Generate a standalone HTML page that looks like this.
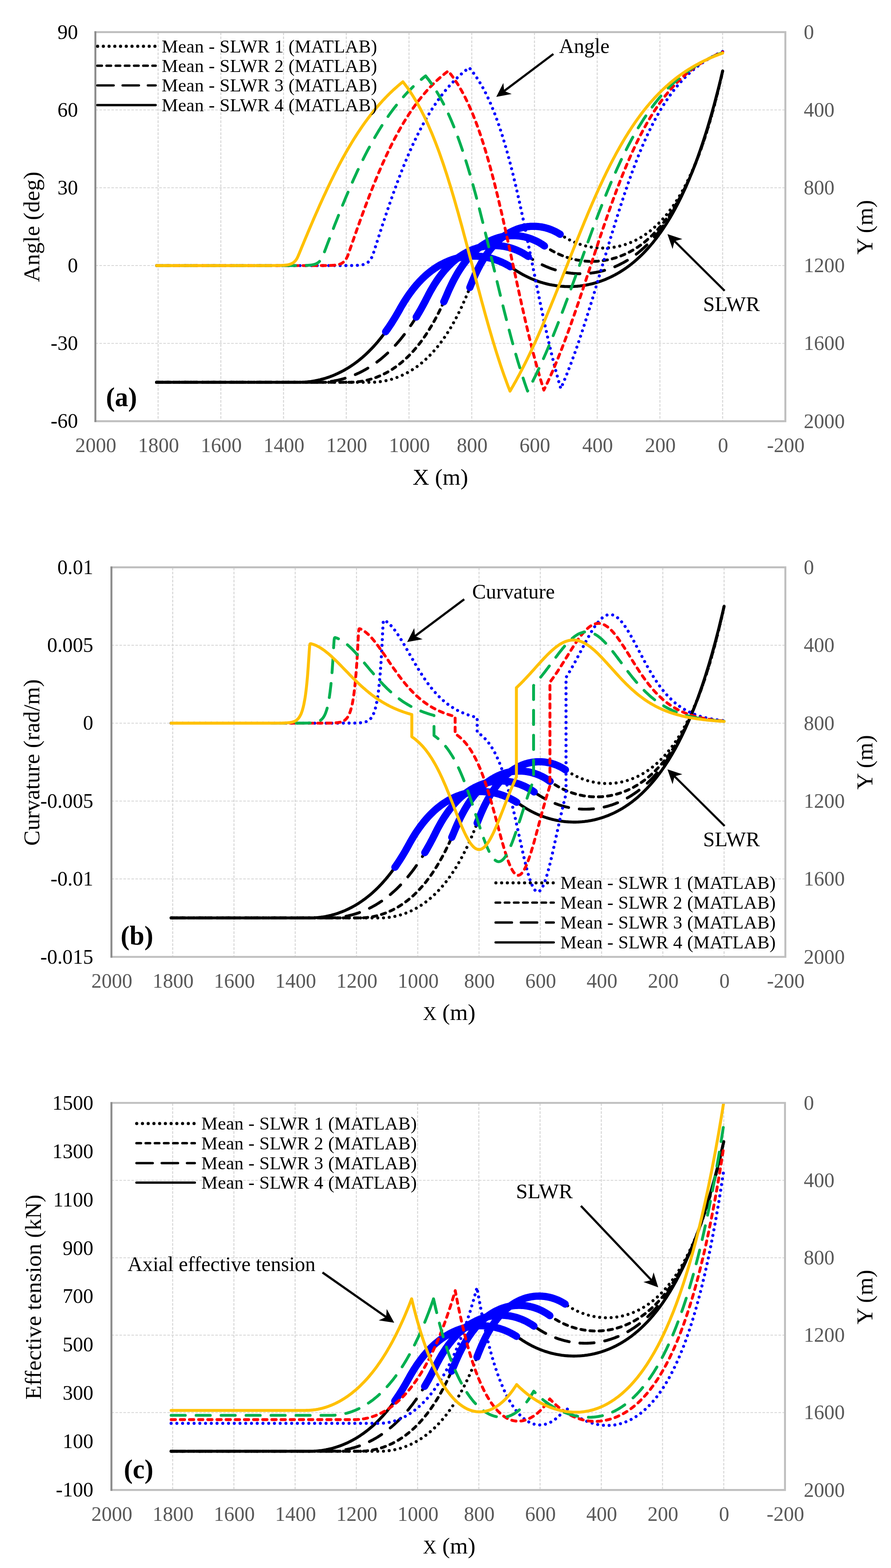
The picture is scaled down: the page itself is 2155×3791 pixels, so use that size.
<!DOCTYPE html>
<html lang="en"><head><meta charset="utf-8"><title>SLWR mean configuration: angle, curvature and effective tension</title>
<style>
html,body{margin:0;padding:0;background:#fff;}
body{width:2155px;height:3791px;overflow:hidden;}
svg{display:block;}
</style></head>
<body>
<svg width="2155" height="3791" viewBox="0 0 2155 3791" font-family='"Liberation Serif", serif'>
<rect x="0" y="0" width="2155" height="3791" fill="#fff"/>
<clipPath id="ca"><rect x="230.7" y="76.1" width="1668.8" height="943.8"/></clipPath>
<line x1="382.4" y1="78.6" x2="382.4" y2="1018.4" stroke="#d6d6d6" stroke-width="2.4" stroke-dasharray="6.3 3.36"/>
<line x1="534.1" y1="78.6" x2="534.1" y2="1018.4" stroke="#d6d6d6" stroke-width="2.4" stroke-dasharray="6.3 3.36"/>
<line x1="685.8" y1="78.6" x2="685.8" y2="1018.4" stroke="#d6d6d6" stroke-width="2.4" stroke-dasharray="6.3 3.36"/>
<line x1="837.5" y1="78.6" x2="837.5" y2="1018.4" stroke="#d6d6d6" stroke-width="2.4" stroke-dasharray="6.3 3.36"/>
<line x1="989.2" y1="78.6" x2="989.2" y2="1018.4" stroke="#d6d6d6" stroke-width="2.4" stroke-dasharray="6.3 3.36"/>
<line x1="1141.0" y1="78.6" x2="1141.0" y2="1018.4" stroke="#d6d6d6" stroke-width="2.4" stroke-dasharray="6.3 3.36"/>
<line x1="1292.7" y1="78.6" x2="1292.7" y2="1018.4" stroke="#d6d6d6" stroke-width="2.4" stroke-dasharray="6.3 3.36"/>
<line x1="1444.4" y1="78.6" x2="1444.4" y2="1018.4" stroke="#d6d6d6" stroke-width="2.4" stroke-dasharray="6.3 3.36"/>
<line x1="1596.1" y1="78.6" x2="1596.1" y2="1018.4" stroke="#d6d6d6" stroke-width="2.4" stroke-dasharray="6.3 3.36"/>
<line x1="1747.8" y1="78.6" x2="1747.8" y2="1018.4" stroke="#d6d6d6" stroke-width="2.4" stroke-dasharray="6.3 3.36"/>
<line x1="230.7" y1="265.8" x2="1899.5" y2="265.8" stroke="#d6d6d6" stroke-width="2.0" stroke-dasharray="6.3 3.36"/>
<line x1="230.7" y1="453.9" x2="1899.5" y2="453.9" stroke="#d6d6d6" stroke-width="2.0" stroke-dasharray="6.3 3.36"/>
<line x1="230.7" y1="642.1" x2="1899.5" y2="642.1" stroke="#d6d6d6" stroke-width="2.0" stroke-dasharray="6.3 3.36"/>
<line x1="230.7" y1="830.2" x2="1899.5" y2="830.2" stroke="#d6d6d6" stroke-width="2.0" stroke-dasharray="6.3 3.36"/>
<path d="M378.6,924.3 L382.4,924.3 L385.4,924.3 L388.5,924.3 L391.5,924.3 L394.5,924.3 L397.6,924.3 L400.6,924.3 L403.6,924.3 L406.7,924.3 L409.7,924.3 L412.8,924.3 L415.8,924.3 L418.8,924.3 L421.9,924.3 L424.9,924.3 L427.9,924.3 L431.0,924.3 L434.0,924.3 L437.0,924.3 L440.1,924.3 L443.1,924.3 L446.1,924.3 L449.2,924.3 L452.2,924.3 L455.2,924.3 L458.3,924.3 L461.3,924.3 L464.3,924.3 L467.4,924.3 L470.4,924.3 L473.4,924.3 L476.5,924.3 L479.5,924.3 L482.5,924.3 L485.6,924.3 L488.6,924.3 L491.6,924.3 L494.7,924.3 L497.7,924.3 L500.7,924.3 L503.8,924.3 L506.8,924.3 L509.8,924.3 L512.9,924.3 L515.9,924.3 L518.9,924.3 L522.0,924.3 L525.0,924.3 L528.0,924.3 L531.1,924.3 L534.1,924.3 L537.2,924.3 L540.2,924.3 L543.2,924.3 L546.3,924.3 L549.3,924.3 L552.3,924.3 L555.4,924.3 L558.4,924.3 L561.4,924.3 L564.5,924.3 L567.5,924.3 L570.5,924.3 L573.6,924.3 L576.6,924.3 L579.6,924.3 L582.7,924.3 L585.7,924.3 L588.7,924.3 L591.8,924.3 L594.8,924.3 L597.8,924.3 L600.9,924.3 L603.9,924.3 L606.9,924.3 L610.0,924.3 L613.0,924.3 L616.0,924.3 L619.1,924.3 L622.1,924.3 L625.1,924.3 L628.2,924.3 L631.2,924.3 L634.2,924.3 L637.3,924.3 L640.3,924.3 L643.3,924.3 L646.4,924.3 L649.4,924.3 L652.5,924.3 L655.5,924.3 L658.5,924.3 L661.6,924.3 L664.6,924.3 L667.6,924.3 L670.7,924.3 L673.7,924.3 L676.7,924.3 L679.8,924.3 L682.8,924.3 L685.8,924.3 L688.9,924.3 L691.9,924.3 L694.9,924.3 L698.0,924.3 L701.0,924.3 L704.0,924.3 L707.1,924.3 L710.1,924.3 L713.1,924.3 L716.2,924.3 L719.2,924.3 L722.2,924.3 L725.3,924.3 L728.3,924.3 L731.3,924.3 L734.4,924.3 L737.4,924.3 L740.4,924.3 L743.5,924.3 L746.5,924.3 L749.5,924.3 L752.6,924.3 L755.6,924.3 L758.6,924.3 L761.7,924.3 L764.7,924.3 L767.8,924.3 L770.8,924.3 L773.8,924.3 L776.9,924.3 L779.9,924.3 L782.9,924.3 L786.0,924.3 L789.0,924.3 L792.0,924.3 L795.1,924.3 L798.1,924.3 L801.1,924.3 L804.2,924.3 L807.2,924.3 L810.2,924.3 L813.3,924.3 L816.3,924.3 L819.3,924.3 L822.4,924.3 L825.4,924.3 L828.4,924.3 L831.5,924.3 L834.5,924.3 L837.5,924.3 L840.6,924.3 L843.6,924.3 L846.6,924.3 L849.7,924.3 L852.7,924.3 L855.7,924.3 L858.8,924.3 L861.8,924.3 L864.8,924.3 L867.9,924.3 L870.9,924.3 L873.9,924.3 L877.0,924.3 L880.0,924.3 L883.0,924.3 L886.1,924.3 L889.1,924.3 L892.2,924.3 L895.2,924.3 L895.6,924.3 L898.2,924.3 L901.3,924.2 L904.3,924.1 L907.3,923.9 L910.4,923.7 L913.4,923.4 L916.4,923.1 L919.5,922.7 L922.5,922.3 L925.5,921.8 L928.6,921.3 L931.6,920.7 L934.6,920.1 L937.7,919.4 L940.7,918.7 L943.7,917.9 L946.8,917.0 L949.8,916.1 L952.8,915.1 L955.9,914.1 L958.9,913.0 L961.9,911.9 L965.0,910.7 L968.0,909.4 L971.0,908.1 L974.1,906.7 L977.1,905.3 L980.1,903.8 L983.2,902.2 L986.2,900.5 L989.2,898.8 L992.3,897.1 L995.3,895.2 L998.3,893.3 L1001.4,891.3 L1004.4,889.2 L1007.5,887.1 L1010.5,884.9 L1013.5,882.6 L1016.6,880.2 L1019.6,877.7 L1022.6,875.2 L1025.7,872.5 L1028.7,869.8 L1031.7,867.0 L1034.8,864.1 L1037.8,861.1 L1040.8,858.0 L1043.9,854.8 L1046.9,851.5 L1049.9,848.1 L1053.0,844.6 L1056.0,841.0 L1059.0,837.3 L1062.1,833.5 L1065.1,829.5 L1068.1,825.5 L1071.2,821.3 L1074.2,817.0 L1077.2,812.5 L1080.3,808.0 L1083.3,803.2 L1086.3,798.4 L1089.4,793.4 L1092.4,788.3 L1095.4,783.0 L1098.5,777.6 L1101.5,772.0 L1104.5,766.2 L1107.6,760.3 L1110.6,754.2 L1113.6,748.0 L1116.7,741.6 L1119.7,734.9 L1122.7,728.1 L1125.8,721.2 L1128.8,714.0 L1131.9,706.6 L1134.9,699.0 L1136.4,695.1 L1137.0,693.5 L1137.9,691.2 L1141.0,683.6 L1144.0,676.3 L1147.0,669.4 L1150.1,662.7 L1153.1,656.4 L1156.1,650.3 L1159.2,644.5 L1162.2,638.9 L1165.2,633.6 L1168.3,628.5 L1171.3,623.6 L1174.3,618.9 L1177.4,614.5 L1180.4,610.3 L1183.4,606.2 L1186.5,602.3 L1189.5,598.6 L1192.5,595.1 L1195.6,591.8 L1198.6,588.6 L1201.6,585.6 L1204.7,582.7 L1207.7,579.9 L1210.7,577.3 L1213.8,574.9 L1216.8,572.5 L1219.8,570.3 L1222.9,568.2 L1225.9,566.2 L1228.9,564.4 L1232.0,562.6 L1235.0,561.0 L1238.0,559.4 L1241.1,558.0 L1244.1,556.6 L1247.2,555.4 L1250.2,554.2 L1253.2,553.2 L1256.3,552.2 L1259.3,551.3 L1262.3,550.5 L1265.4,549.8 L1268.4,549.2 L1271.4,548.7 L1274.5,548.2 L1277.5,547.8 L1280.5,547.6 L1283.6,547.3 L1286.6,547.2 L1289.6,547.2 L1292.7,547.2 L1295.7,547.3 L1298.7,547.5 L1301.8,547.7 L1304.8,548.1 L1307.8,548.5 L1310.9,549.0 L1313.9,549.6 L1316.9,550.3 L1320.0,551.1 L1323.0,551.9 L1326.0,552.8 L1329.1,553.9 L1332.1,555.0 L1335.1,556.2 L1338.2,557.5 L1341.2,558.9 L1344.2,560.4 L1347.3,562.0 L1350.3,563.8 L1353.3,565.6 L1354.9,566.5 L1356.4,567.5 L1357.4,568.2 L1359.4,569.5 L1362.4,571.5 L1365.5,573.3 L1368.5,575.1 L1371.6,576.9 L1374.6,578.5 L1377.6,580.1 L1380.7,581.6 L1383.7,583.0 L1386.7,584.4 L1389.8,585.7 L1392.8,587.0 L1395.8,588.2 L1398.9,589.3 L1401.9,590.4 L1404.9,591.4 L1408.0,592.3 L1411.0,593.2 L1414.0,594.0 L1417.1,594.8 L1420.1,595.5 L1423.1,596.1 L1426.2,596.7 L1429.2,597.3 L1432.2,597.8 L1435.3,598.2 L1438.3,598.6 L1441.3,598.9 L1444.4,599.2 L1447.4,599.4 L1450.4,599.5 L1453.5,599.7 L1456.5,599.7 L1459.5,599.7 L1462.6,599.7 L1465.6,599.6 L1468.6,599.4 L1471.7,599.2 L1474.7,598.9 L1477.7,598.6 L1480.8,598.2 L1483.8,597.8 L1486.9,597.3 L1489.9,596.8 L1492.9,596.2 L1496.0,595.6 L1499.0,594.9 L1502.0,594.1 L1505.1,593.3 L1508.1,592.4 L1511.1,591.5 L1514.2,590.5 L1517.2,589.4 L1520.2,588.3 L1523.3,587.1 L1526.3,585.9 L1529.3,584.6 L1532.4,583.2 L1535.4,581.8 L1538.4,580.3 L1541.5,578.7 L1544.5,577.1 L1547.5,575.4 L1550.6,573.6 L1553.6,571.7 L1556.6,569.8 L1559.7,567.8 L1562.7,565.7 L1565.7,563.5 L1568.8,561.3 L1571.8,558.9 L1574.8,556.5 L1577.9,554.0 L1580.9,551.4 L1583.9,548.7 L1587.0,545.9 L1590.0,543.1 L1593.0,540.1 L1596.1,537.0 L1599.1,533.8 L1602.2,530.5 L1605.2,527.1 L1608.2,523.6 L1611.3,520.0 L1614.3,516.3 L1617.3,512.4 L1620.4,508.4 L1623.4,504.3 L1626.4,500.1 L1629.5,495.7 L1632.5,491.2 L1635.5,486.6 L1638.6,481.8 L1641.6,476.9 L1644.6,471.8 L1647.7,466.6 L1650.7,461.2 L1653.7,455.6 L1656.8,449.9 L1659.8,444.0 L1662.8,437.9 L1665.9,431.7 L1668.9,425.2 L1671.9,418.6 L1675.0,411.8 L1678.0,404.7 L1681.0,397.5 L1684.1,390.0 L1687.1,382.3 L1690.1,374.4 L1693.2,366.3 L1696.2,357.9 L1699.2,349.3 L1702.3,340.4 L1705.3,331.3 L1708.3,321.9 L1711.4,312.2 L1714.4,302.3 L1717.4,292.0 L1720.5,281.5 L1723.5,270.6 L1726.6,259.4 L1729.6,248.0 L1732.6,236.1 L1735.7,224.0 L1738.7,211.4 L1741.7,198.6 L1744.8,185.3 L1747.8,171.7" fill="none" stroke="#000" stroke-width="7.40" stroke-linecap="round" stroke-linejoin="round" stroke-dasharray="0.01 13.87" clip-path="url(#ca)"/>
<path d="M378.6,924.3 L382.4,924.3 L385.4,924.3 L388.5,924.3 L391.5,924.3 L394.5,924.3 L397.6,924.3 L400.6,924.3 L403.6,924.3 L406.7,924.3 L409.7,924.3 L412.8,924.3 L415.8,924.3 L418.8,924.3 L421.9,924.3 L424.9,924.3 L427.9,924.3 L431.0,924.3 L434.0,924.3 L437.0,924.3 L440.1,924.3 L443.1,924.3 L446.1,924.3 L449.2,924.3 L452.2,924.3 L455.2,924.3 L458.3,924.3 L461.3,924.3 L464.3,924.3 L467.4,924.3 L470.4,924.3 L473.4,924.3 L476.5,924.3 L479.5,924.3 L482.5,924.3 L485.6,924.3 L488.6,924.3 L491.6,924.3 L494.7,924.3 L497.7,924.3 L500.7,924.3 L503.8,924.3 L506.8,924.3 L509.8,924.3 L512.9,924.3 L515.9,924.3 L518.9,924.3 L522.0,924.3 L525.0,924.3 L528.0,924.3 L531.1,924.3 L534.1,924.3 L537.2,924.3 L540.2,924.3 L543.2,924.3 L546.3,924.3 L549.3,924.3 L552.3,924.3 L555.4,924.3 L558.4,924.3 L561.4,924.3 L564.5,924.3 L567.5,924.3 L570.5,924.3 L573.6,924.3 L576.6,924.3 L579.6,924.3 L582.7,924.3 L585.7,924.3 L588.7,924.3 L591.8,924.3 L594.8,924.3 L597.8,924.3 L600.9,924.3 L603.9,924.3 L606.9,924.3 L610.0,924.3 L613.0,924.3 L616.0,924.3 L619.1,924.3 L622.1,924.3 L625.1,924.3 L628.2,924.3 L631.2,924.3 L634.2,924.3 L637.3,924.3 L640.3,924.3 L643.3,924.3 L646.4,924.3 L649.4,924.3 L652.5,924.3 L655.5,924.3 L658.5,924.3 L661.6,924.3 L664.6,924.3 L667.6,924.3 L670.7,924.3 L673.7,924.3 L676.7,924.3 L679.8,924.3 L682.8,924.3 L685.8,924.3 L688.9,924.3 L691.9,924.3 L694.9,924.3 L698.0,924.3 L701.0,924.3 L704.0,924.3 L707.1,924.3 L710.1,924.3 L713.1,924.3 L716.2,924.3 L719.2,924.3 L722.2,924.3 L725.3,924.3 L728.3,924.3 L731.3,924.3 L734.4,924.3 L737.4,924.3 L740.4,924.3 L743.5,924.3 L746.5,924.3 L749.5,924.3 L752.6,924.3 L755.6,924.3 L758.6,924.3 L761.7,924.3 L764.7,924.3 L767.8,924.3 L770.8,924.3 L773.8,924.3 L776.9,924.3 L779.9,924.3 L782.9,924.3 L786.0,924.3 L789.0,924.3 L792.0,924.3 L795.1,924.3 L798.1,924.3 L801.1,924.3 L804.2,924.3 L807.2,924.3 L810.2,924.3 L813.3,924.3 L816.3,924.3 L819.3,924.3 L822.4,924.3 L825.4,924.3 L828.4,924.3 L831.5,924.3 L834.5,924.3 L837.5,924.3 L840.6,924.3 L843.6,924.3 L844.0,924.3 L846.6,924.3 L849.7,924.2 L852.7,924.1 L855.7,923.9 L858.8,923.7 L861.8,923.5 L864.8,923.1 L867.9,922.8 L870.9,922.4 L873.9,921.9 L877.0,921.4 L880.0,920.8 L883.0,920.2 L886.1,919.5 L889.1,918.8 L892.2,918.0 L895.2,917.2 L898.2,916.3 L901.3,915.3 L904.3,914.3 L907.3,913.3 L910.4,912.2 L913.4,911.0 L916.4,909.7 L919.5,908.5 L922.5,907.1 L925.5,905.7 L928.6,904.2 L931.6,902.7 L934.6,901.1 L937.7,899.4 L940.7,897.7 L943.7,895.9 L946.8,894.0 L949.8,892.1 L952.8,890.0 L955.9,888.0 L958.9,885.8 L961.9,883.6 L965.0,881.2 L968.0,878.8 L971.0,876.4 L974.1,873.8 L977.1,871.2 L980.1,868.4 L983.2,865.6 L986.2,862.7 L989.2,859.7 L992.3,856.6 L995.3,853.4 L998.3,850.1 L1001.4,846.8 L1004.4,843.3 L1007.5,839.7 L1010.5,836.0 L1013.5,832.1 L1016.6,828.2 L1019.6,824.2 L1022.6,820.0 L1025.7,815.7 L1028.7,811.3 L1031.7,806.8 L1034.8,802.1 L1037.8,797.3 L1040.8,792.3 L1043.9,787.3 L1046.9,782.0 L1049.9,776.7 L1053.0,771.1 L1056.0,765.5 L1059.0,759.6 L1062.1,753.6 L1065.1,747.4 L1068.1,741.1 L1071.2,734.6 L1073.4,729.6 L1074.2,727.9 L1077.2,721.0 L1080.3,713.9 L1080.9,712.5 L1083.3,706.8 L1086.3,700.0 L1089.4,693.4 L1092.4,687.1 L1095.4,681.0 L1098.5,675.2 L1101.5,669.6 L1104.5,664.3 L1107.6,659.1 L1110.6,654.2 L1113.6,649.5 L1116.7,644.9 L1119.7,640.6 L1122.7,636.4 L1125.8,632.5 L1128.8,628.6 L1131.9,625.0 L1134.9,621.5 L1137.9,618.1 L1141.0,614.9 L1144.0,611.9 L1147.0,609.0 L1150.1,606.2 L1153.1,603.5 L1156.1,601.0 L1159.2,598.6 L1162.2,596.3 L1165.2,594.1 L1168.3,592.0 L1171.3,590.1 L1174.3,588.2 L1177.4,586.5 L1180.4,584.8 L1183.4,583.2 L1186.5,581.8 L1189.5,580.4 L1192.5,579.1 L1195.6,577.9 L1198.6,576.8 L1201.6,575.8 L1204.7,574.8 L1207.7,574.0 L1210.7,573.2 L1213.8,572.5 L1216.8,571.9 L1219.8,571.3 L1222.9,570.9 L1225.9,570.5 L1228.9,570.1 L1232.0,569.9 L1235.0,569.7 L1238.0,569.6 L1241.1,569.6 L1244.1,569.6 L1247.2,569.8 L1250.2,569.9 L1253.2,570.2 L1256.3,570.6 L1259.3,571.0 L1262.3,571.5 L1265.4,572.0 L1268.4,572.7 L1271.4,573.4 L1274.5,574.2 L1277.5,575.1 L1280.5,576.1 L1283.6,577.1 L1286.6,578.2 L1289.6,579.5 L1292.7,580.8 L1295.7,582.2 L1298.7,583.7 L1301.8,585.2 L1304.8,586.9 L1307.8,588.7 L1310.9,590.6 L1313.9,592.6 L1316.5,594.4 L1316.9,594.7 L1320.0,596.8 L1323.0,598.8 L1326.0,600.7 L1329.1,602.6 L1332.1,604.4 L1335.1,606.2 L1338.2,607.8 L1341.2,609.5 L1344.2,611.0 L1347.3,612.5 L1350.3,613.9 L1353.3,615.3 L1356.4,616.6 L1359.4,617.9 L1362.4,619.1 L1365.5,620.2 L1368.5,621.3 L1371.6,622.3 L1374.6,623.3 L1377.6,624.2 L1380.7,625.0 L1383.7,625.9 L1386.7,626.6 L1389.8,627.3 L1392.8,628.0 L1395.8,628.6 L1398.9,629.1 L1401.9,629.6 L1404.9,630.1 L1408.0,630.5 L1411.0,630.9 L1414.0,631.2 L1417.1,631.4 L1420.1,631.6 L1423.1,631.8 L1426.2,631.9 L1429.2,632.0 L1432.2,632.0 L1435.3,631.9 L1438.3,631.9 L1441.3,631.7 L1444.4,631.6 L1447.4,631.3 L1450.4,631.1 L1453.5,630.7 L1456.5,630.4 L1459.5,629.9 L1462.6,629.5 L1465.6,628.9 L1468.6,628.4 L1471.7,627.7 L1474.7,627.1 L1477.7,626.3 L1480.8,625.6 L1483.8,624.7 L1486.9,623.9 L1489.9,622.9 L1492.9,621.9 L1496.0,620.9 L1499.0,619.8 L1502.0,618.6 L1505.1,617.4 L1508.1,616.1 L1511.1,614.8 L1514.2,613.4 L1517.2,612.0 L1520.2,610.4 L1523.3,608.9 L1526.3,607.2 L1529.3,605.5 L1532.4,603.8 L1535.4,601.9 L1538.4,600.0 L1541.5,598.0 L1544.5,596.0 L1547.5,593.9 L1550.6,591.7 L1553.6,589.4 L1556.6,587.1 L1559.7,584.7 L1562.7,582.2 L1565.7,579.6 L1568.8,576.9 L1571.8,574.2 L1574.8,571.3 L1577.9,568.4 L1580.9,565.4 L1583.9,562.3 L1587.0,559.1 L1590.0,555.8 L1593.0,552.4 L1596.1,548.9 L1599.1,545.3 L1602.2,541.6 L1605.2,537.8 L1608.2,533.9 L1611.3,529.9 L1614.3,525.7 L1617.3,521.5 L1620.4,517.1 L1623.4,512.6 L1626.4,507.9 L1629.5,503.2 L1632.5,498.3 L1635.5,493.2 L1638.6,488.1 L1641.6,482.7 L1644.6,477.3 L1647.7,471.7 L1650.7,465.9 L1653.7,460.0 L1656.8,453.9 L1659.8,447.6 L1662.8,441.2 L1665.9,434.6 L1668.9,427.8 L1671.9,420.9 L1675.0,413.7 L1678.0,406.4 L1681.0,398.8 L1684.1,391.1 L1687.1,383.2 L1690.1,375.0 L1693.2,366.6 L1696.2,358.0 L1699.2,349.2 L1702.3,340.2 L1705.3,330.9 L1708.3,321.3 L1711.4,311.5 L1714.4,301.4 L1717.4,291.1 L1720.5,280.5 L1723.5,269.7 L1726.6,258.5 L1729.6,247.0 L1732.6,235.3 L1735.7,223.2 L1738.7,210.8 L1741.7,198.1 L1744.8,185.1 L1747.8,171.7" fill="none" stroke="#000" stroke-width="6.90" stroke-linecap="round" stroke-linejoin="round" stroke-dasharray="10.4 11.75" clip-path="url(#ca)"/>
<path d="M378.6,924.3 L382.4,924.3 L385.4,924.3 L388.5,924.3 L391.5,924.3 L394.5,924.3 L397.6,924.3 L400.6,924.3 L403.6,924.3 L406.7,924.3 L409.7,924.3 L412.8,924.3 L415.8,924.3 L418.8,924.3 L421.9,924.3 L424.9,924.3 L427.9,924.3 L431.0,924.3 L434.0,924.3 L437.0,924.3 L440.1,924.3 L443.1,924.3 L446.1,924.3 L449.2,924.3 L452.2,924.3 L455.2,924.3 L458.3,924.3 L461.3,924.3 L464.3,924.3 L467.4,924.3 L470.4,924.3 L473.4,924.3 L476.5,924.3 L479.5,924.3 L482.5,924.3 L485.6,924.3 L488.6,924.3 L491.6,924.3 L494.7,924.3 L497.7,924.3 L500.7,924.3 L503.8,924.3 L506.8,924.3 L509.8,924.3 L512.9,924.3 L515.9,924.3 L518.9,924.3 L522.0,924.3 L525.0,924.3 L528.0,924.3 L531.1,924.3 L534.1,924.3 L537.2,924.3 L540.2,924.3 L543.2,924.3 L546.3,924.3 L549.3,924.3 L552.3,924.3 L555.4,924.3 L558.4,924.3 L561.4,924.3 L564.5,924.3 L567.5,924.3 L570.5,924.3 L573.6,924.3 L576.6,924.3 L579.6,924.3 L582.7,924.3 L585.7,924.3 L588.7,924.3 L591.8,924.3 L594.8,924.3 L597.8,924.3 L600.9,924.3 L603.9,924.3 L606.9,924.3 L610.0,924.3 L613.0,924.3 L616.0,924.3 L619.1,924.3 L622.1,924.3 L625.1,924.3 L628.2,924.3 L631.2,924.3 L634.2,924.3 L637.3,924.3 L640.3,924.3 L643.3,924.3 L646.4,924.3 L649.4,924.3 L652.5,924.3 L655.5,924.3 L658.5,924.3 L661.6,924.3 L664.6,924.3 L667.6,924.3 L670.7,924.3 L673.7,924.3 L676.7,924.3 L679.8,924.3 L682.8,924.3 L685.8,924.3 L688.9,924.3 L691.9,924.3 L694.9,924.3 L698.0,924.3 L701.0,924.3 L704.0,924.3 L707.1,924.3 L710.1,924.3 L713.1,924.3 L716.2,924.3 L719.2,924.3 L722.2,924.3 L725.3,924.3 L728.3,924.3 L731.3,924.3 L734.4,924.3 L737.4,924.3 L740.4,924.3 L743.5,924.3 L746.5,924.3 L749.5,924.3 L752.6,924.3 L755.6,924.3 L758.6,924.3 L761.7,924.3 L764.7,924.3 L767.8,924.3 L769.0,924.3 L770.8,924.3 L773.8,924.3 L776.9,924.2 L779.9,924.1 L782.9,923.9 L786.0,923.7 L789.0,923.4 L792.0,923.1 L795.1,922.8 L798.1,922.4 L801.1,922.0 L804.2,921.6 L807.2,921.1 L810.2,920.5 L813.3,919.9 L816.3,919.3 L819.3,918.7 L822.4,917.9 L825.4,917.2 L828.4,916.4 L831.5,915.5 L834.5,914.7 L837.5,913.7 L840.6,912.7 L843.6,911.7 L846.6,910.6 L849.7,909.5 L852.7,908.4 L855.7,907.1 L858.8,905.9 L861.8,904.6 L864.8,903.2 L867.9,901.8 L870.9,900.3 L873.9,898.8 L877.0,897.2 L880.0,895.6 L883.0,893.9 L886.1,892.2 L889.1,890.4 L892.2,888.6 L895.2,886.7 L898.2,884.7 L901.3,882.7 L904.3,880.6 L907.3,878.5 L910.4,876.3 L913.4,874.0 L916.4,871.7 L919.5,869.3 L922.5,866.8 L925.5,864.3 L928.6,861.7 L931.6,859.0 L934.6,856.3 L937.7,853.5 L940.7,850.6 L943.7,847.6 L946.8,844.6 L949.8,841.5 L952.8,838.3 L955.9,835.0 L958.9,831.7 L961.9,828.2 L965.0,824.7 L968.0,821.1 L971.0,817.4 L974.1,813.6 L977.1,809.7 L980.1,805.7 L983.2,801.6 L986.2,797.5 L989.2,793.2 L992.3,788.8 L995.3,784.3 L998.3,779.8 L1001.4,775.1 L1004.4,770.3 L1006.7,766.6 L1007.5,765.3 L1010.5,760.3 L1013.5,755.2 L1016.6,749.9 L1019.6,744.5 L1022.6,739.0 L1025.7,733.3 L1028.7,727.6 L1031.7,721.6 L1032.9,719.4 L1034.8,715.7 L1037.8,709.9 L1040.8,704.3 L1043.9,699.0 L1046.9,693.8 L1049.9,688.8 L1053.0,684.0 L1056.0,679.4 L1059.0,675.0 L1062.1,670.7 L1065.1,666.6 L1068.1,662.6 L1071.2,658.8 L1074.2,655.1 L1077.2,651.6 L1080.3,648.3 L1083.3,645.0 L1086.3,641.9 L1089.4,638.9 L1092.4,636.0 L1095.4,633.3 L1098.5,630.7 L1101.5,628.1 L1104.5,625.7 L1107.6,623.4 L1110.6,621.2 L1113.6,619.1 L1116.7,617.1 L1119.7,615.2 L1122.7,613.4 L1125.8,611.7 L1128.8,610.1 L1131.9,608.5 L1134.9,607.1 L1137.9,605.7 L1141.0,604.4 L1144.0,603.2 L1147.0,602.0 L1150.1,601.0 L1153.1,600.0 L1156.1,599.1 L1159.2,598.2 L1162.2,597.5 L1165.2,596.8 L1168.3,596.1 L1171.3,595.6 L1174.3,595.1 L1177.4,594.7 L1180.4,594.3 L1183.4,594.0 L1186.5,593.8 L1189.5,593.7 L1192.5,593.6 L1195.6,593.6 L1198.6,593.6 L1201.6,593.7 L1204.7,593.9 L1207.7,594.2 L1210.7,594.5 L1213.8,594.9 L1216.8,595.3 L1219.8,595.8 L1222.9,596.4 L1225.9,597.1 L1228.9,597.8 L1232.0,598.6 L1235.0,599.5 L1238.0,600.4 L1241.1,601.4 L1244.1,602.5 L1247.2,603.7 L1250.2,604.9 L1253.2,606.3 L1256.3,607.7 L1259.3,609.2 L1262.3,610.8 L1265.4,612.4 L1268.4,614.2 L1271.4,616.1 L1274.5,618.0 L1277.5,620.0 L1278.6,620.8 L1280.5,622.1 L1283.6,624.2 L1286.6,626.2 L1289.6,628.1 L1292.7,630.0 L1295.7,631.8 L1298.7,633.5 L1301.8,635.2 L1304.8,636.8 L1307.8,638.4 L1310.9,639.9 L1313.9,641.3 L1316.9,642.7 L1320.0,644.1 L1323.0,645.4 L1326.0,646.6 L1329.1,647.8 L1332.1,648.9 L1335.1,650.0 L1338.2,651.0 L1341.2,652.0 L1344.2,652.9 L1347.3,653.8 L1350.3,654.6 L1353.3,655.4 L1356.4,656.2 L1359.4,656.8 L1362.4,657.5 L1365.5,658.1 L1368.5,658.6 L1371.6,659.1 L1374.6,659.6 L1377.6,660.0 L1380.7,660.4 L1383.7,660.7 L1386.7,661.0 L1389.8,661.2 L1392.8,661.4 L1395.8,661.6 L1398.9,661.7 L1401.9,661.7 L1404.9,661.7 L1408.0,661.7 L1411.0,661.6 L1414.0,661.5 L1417.1,661.4 L1420.1,661.2 L1423.1,660.9 L1426.2,660.6 L1429.2,660.3 L1432.2,659.9 L1435.3,659.5 L1438.3,659.0 L1441.3,658.5 L1444.4,657.9 L1447.4,657.3 L1450.4,656.6 L1453.5,655.9 L1456.5,655.2 L1459.5,654.4 L1462.6,653.5 L1465.6,652.6 L1468.6,651.7 L1471.7,650.7 L1474.7,649.6 L1477.7,648.6 L1480.8,647.4 L1483.8,646.2 L1486.9,645.0 L1489.9,643.7 L1492.9,642.3 L1496.0,640.9 L1499.0,639.4 L1502.0,637.9 L1505.1,636.3 L1508.1,634.7 L1511.1,633.0 L1514.2,631.2 L1517.2,629.4 L1520.2,627.5 L1523.3,625.6 L1526.3,623.6 L1529.3,621.5 L1532.4,619.4 L1535.4,617.1 L1538.4,614.9 L1541.5,612.5 L1544.5,610.1 L1547.5,607.6 L1550.6,605.1 L1553.6,602.4 L1556.6,599.7 L1559.7,596.9 L1562.7,594.1 L1565.7,591.1 L1568.8,588.1 L1571.8,585.0 L1574.8,581.8 L1577.9,578.5 L1580.9,575.1 L1583.9,571.6 L1587.0,568.0 L1590.0,564.4 L1593.0,560.6 L1596.1,556.8 L1599.1,552.8 L1602.2,548.7 L1605.2,544.6 L1608.2,540.3 L1611.3,535.9 L1614.3,531.4 L1617.3,526.8 L1620.4,522.1 L1623.4,517.2 L1626.4,512.2 L1629.5,507.1 L1632.5,501.9 L1635.5,496.5 L1638.6,491.0 L1641.6,485.4 L1644.6,479.6 L1647.7,473.7 L1650.7,467.6 L1653.7,461.4 L1656.8,455.1 L1659.8,448.5 L1662.8,441.8 L1665.9,435.0 L1668.9,428.0 L1671.9,420.8 L1675.0,413.4 L1678.0,405.9 L1681.0,398.1 L1684.1,390.2 L1687.1,382.1 L1690.1,373.8 L1693.2,365.3 L1696.2,356.6 L1699.2,347.6 L1702.3,338.5 L1705.3,329.1 L1708.3,319.5 L1711.4,309.7 L1714.4,299.6 L1717.4,289.3 L1720.5,278.8 L1723.5,268.0 L1726.6,256.9 L1729.6,245.6 L1732.6,234.0 L1735.7,222.1 L1738.7,209.9 L1741.7,197.5 L1744.8,184.7 L1747.8,171.7" fill="none" stroke="#000" stroke-width="6.90" stroke-linecap="round" stroke-linejoin="round" stroke-dasharray="34.3 26.1" clip-path="url(#ca)"/>
<path d="M378.6,924.3 L382.4,924.3 L385.4,924.3 L388.5,924.3 L391.5,924.3 L394.5,924.3 L397.6,924.3 L400.6,924.3 L403.6,924.3 L406.7,924.3 L409.7,924.3 L412.8,924.3 L415.8,924.3 L418.8,924.3 L421.9,924.3 L424.9,924.3 L427.9,924.3 L431.0,924.3 L434.0,924.3 L437.0,924.3 L440.1,924.3 L443.1,924.3 L446.1,924.3 L449.2,924.3 L452.2,924.3 L455.2,924.3 L458.3,924.3 L461.3,924.3 L464.3,924.3 L467.4,924.3 L470.4,924.3 L473.4,924.3 L476.5,924.3 L479.5,924.3 L482.5,924.3 L485.6,924.3 L488.6,924.3 L491.6,924.3 L494.7,924.3 L497.7,924.3 L500.7,924.3 L503.8,924.3 L506.8,924.3 L509.8,924.3 L512.9,924.3 L515.9,924.3 L518.9,924.3 L522.0,924.3 L525.0,924.3 L528.0,924.3 L531.1,924.3 L534.1,924.3 L537.2,924.3 L540.2,924.3 L543.2,924.3 L546.3,924.3 L549.3,924.3 L552.3,924.3 L555.4,924.3 L558.4,924.3 L561.4,924.3 L564.5,924.3 L567.5,924.3 L570.5,924.3 L573.6,924.3 L576.6,924.3 L579.6,924.3 L582.7,924.3 L585.7,924.3 L588.7,924.3 L591.8,924.3 L594.8,924.3 L597.8,924.3 L600.9,924.3 L603.9,924.3 L606.9,924.3 L610.0,924.3 L613.0,924.3 L616.0,924.3 L619.1,924.3 L622.1,924.3 L625.1,924.3 L628.2,924.3 L631.2,924.3 L634.2,924.3 L637.3,924.3 L640.3,924.3 L643.3,924.3 L646.4,924.3 L649.4,924.3 L652.5,924.3 L655.5,924.3 L658.5,924.3 L661.6,924.3 L664.6,924.3 L667.6,924.3 L670.7,924.3 L673.7,924.3 L676.7,924.3 L679.8,924.3 L682.8,924.3 L685.8,924.3 L688.9,924.3 L691.9,924.3 L694.9,924.3 L698.0,924.3 L701.0,924.3 L704.0,924.3 L707.1,924.3 L710.1,924.3 L713.1,924.3 L716.2,924.3 L719.2,924.3 L721.7,924.3 L722.2,924.3 L725.3,924.3 L728.3,924.2 L731.3,924.1 L734.4,924.0 L737.4,923.8 L740.4,923.5 L743.5,923.2 L746.5,922.9 L749.5,922.6 L752.6,922.2 L755.6,921.7 L758.6,921.2 L761.7,920.7 L764.7,920.1 L767.8,919.5 L770.8,918.8 L773.8,918.1 L776.9,917.3 L779.9,916.5 L782.9,915.7 L786.0,914.8 L789.0,913.9 L792.0,912.9 L795.1,911.8 L798.1,910.8 L801.1,909.6 L804.2,908.5 L807.2,907.2 L810.2,906.0 L813.3,904.6 L816.3,903.3 L819.3,901.8 L822.4,900.3 L825.4,898.8 L828.4,897.2 L831.5,895.6 L834.5,893.9 L837.5,892.1 L840.6,890.3 L843.6,888.4 L846.6,886.5 L849.7,884.5 L852.7,882.4 L855.7,880.3 L858.8,878.1 L861.8,875.9 L864.8,873.6 L867.9,871.2 L870.9,868.7 L873.9,866.2 L877.0,863.7 L880.0,861.0 L883.0,858.3 L886.1,855.5 L889.1,852.6 L892.2,849.6 L895.2,846.6 L898.2,843.5 L901.3,840.3 L904.3,837.0 L907.3,833.7 L910.4,830.2 L913.4,826.7 L916.4,823.0 L919.5,819.3 L922.5,815.5 L925.5,811.6 L928.6,807.6 L931.6,803.5 L932.7,802.0 L934.6,799.3 L937.7,795.0 L940.7,790.6 L943.7,786.1 L946.8,781.5 L949.8,776.7 L952.8,771.9 L955.9,766.9 L958.9,761.8 L961.9,756.6 L965.0,751.3 L966.8,748.0 L968.0,745.8 L971.0,740.5 L974.1,735.4 L977.1,730.4 L980.1,725.6 L983.2,720.9 L986.2,716.4 L989.2,712.0 L992.3,707.8 L995.3,703.7 L998.3,699.7 L1001.4,695.9 L1004.4,692.2 L1007.5,688.6 L1010.5,685.2 L1013.5,681.8 L1016.6,678.6 L1019.6,675.5 L1022.6,672.5 L1025.7,669.6 L1028.7,666.8 L1031.7,664.1 L1034.8,661.5 L1037.8,659.0 L1040.8,656.6 L1043.9,654.3 L1046.9,652.1 L1049.9,649.9 L1053.0,647.9 L1056.0,645.9 L1059.0,644.0 L1062.1,642.2 L1065.1,640.5 L1068.1,638.8 L1071.2,637.3 L1074.2,635.8 L1077.2,634.3 L1080.3,633.0 L1083.3,631.7 L1086.3,630.5 L1089.4,629.3 L1092.4,628.2 L1095.4,627.2 L1098.5,626.2 L1101.5,625.3 L1104.5,624.5 L1107.6,623.7 L1110.6,623.0 L1113.6,622.4 L1116.7,621.8 L1119.7,621.3 L1122.7,620.8 L1125.8,620.4 L1128.8,620.0 L1131.9,619.8 L1134.9,619.5 L1137.9,619.3 L1141.0,619.2 L1144.0,619.1 L1147.0,619.1 L1150.1,619.2 L1153.1,619.3 L1156.1,619.5 L1159.2,619.7 L1162.2,620.0 L1165.2,620.3 L1168.3,620.7 L1171.3,621.1 L1174.3,621.7 L1177.4,622.2 L1180.4,622.9 L1183.4,623.5 L1186.5,624.3 L1189.5,625.1 L1192.5,626.0 L1195.6,626.9 L1198.6,627.9 L1201.6,629.0 L1204.7,630.1 L1207.7,631.3 L1210.7,632.6 L1213.8,633.9 L1216.8,635.4 L1219.8,636.8 L1222.9,638.4 L1225.9,640.0 L1228.9,641.7 L1232.0,643.5 L1234.3,644.9 L1235.0,645.4 L1238.0,647.3 L1241.1,649.4 L1241.6,649.7 L1244.1,651.4 L1247.2,653.4 L1250.2,655.4 L1253.2,657.3 L1256.3,659.1 L1259.3,660.9 L1262.3,662.6 L1265.4,664.3 L1268.4,665.9 L1271.4,667.4 L1274.5,668.9 L1277.5,670.4 L1280.5,671.8 L1283.6,673.2 L1286.6,674.5 L1289.6,675.7 L1292.7,676.9 L1295.7,678.1 L1298.7,679.2 L1301.8,680.3 L1304.8,681.3 L1307.8,682.3 L1310.9,683.2 L1313.9,684.1 L1316.9,684.9 L1320.0,685.7 L1323.0,686.5 L1326.0,687.2 L1329.1,687.9 L1332.1,688.5 L1335.1,689.1 L1338.2,689.6 L1341.2,690.1 L1344.2,690.6 L1347.3,691.0 L1350.3,691.3 L1353.3,691.7 L1356.4,692.0 L1359.4,692.2 L1362.4,692.4 L1365.5,692.6 L1368.5,692.7 L1371.6,692.8 L1374.6,692.9 L1377.6,692.9 L1380.7,692.8 L1383.7,692.8 L1386.7,692.7 L1389.8,692.5 L1392.8,692.3 L1395.8,692.1 L1398.9,691.8 L1401.9,691.5 L1404.9,691.1 L1408.0,690.7 L1411.0,690.3 L1414.0,689.8 L1417.1,689.3 L1420.1,688.7 L1423.1,688.1 L1426.2,687.4 L1429.2,686.7 L1432.2,686.0 L1435.3,685.2 L1438.3,684.4 L1441.3,683.5 L1444.4,682.6 L1447.4,681.7 L1450.4,680.7 L1453.5,679.6 L1456.5,678.5 L1459.5,677.4 L1462.6,676.2 L1465.6,674.9 L1468.6,673.6 L1471.7,672.3 L1474.7,670.9 L1477.7,669.5 L1480.8,668.0 L1483.8,666.4 L1486.9,664.9 L1489.9,663.2 L1492.9,661.5 L1496.0,659.7 L1499.0,657.9 L1502.0,656.1 L1505.1,654.1 L1508.1,652.2 L1511.1,650.1 L1514.2,648.0 L1517.2,645.8 L1520.2,643.6 L1523.3,641.3 L1526.3,639.0 L1529.3,636.6 L1532.4,634.1 L1535.4,631.5 L1538.4,628.9 L1541.5,626.2 L1544.5,623.4 L1547.5,620.6 L1550.6,617.7 L1553.6,614.7 L1556.6,611.7 L1559.7,608.5 L1562.7,605.3 L1565.7,602.0 L1568.8,598.6 L1571.8,595.2 L1574.8,591.6 L1577.9,588.0 L1580.9,584.2 L1583.9,580.4 L1587.0,576.5 L1590.0,572.5 L1593.0,568.4 L1596.1,564.2 L1599.1,559.9 L1602.2,555.5 L1605.2,551.0 L1608.2,546.4 L1611.3,541.7 L1614.3,536.9 L1617.3,531.9 L1620.4,526.9 L1623.4,521.7 L1626.4,516.4 L1629.5,511.0 L1632.5,505.5 L1635.5,499.8 L1638.6,494.0 L1641.6,488.1 L1644.6,482.1 L1647.7,475.9 L1650.7,469.5 L1653.7,463.1 L1656.8,456.4 L1659.8,449.7 L1662.8,442.7 L1665.9,435.6 L1668.9,428.4 L1671.9,421.0 L1675.0,413.4 L1678.0,405.7 L1681.0,397.8 L1684.1,389.7 L1687.1,381.4 L1690.1,373.0 L1693.2,364.3 L1696.2,355.5 L1699.2,346.5 L1702.3,337.2 L1705.3,327.8 L1708.3,318.2 L1711.4,308.3 L1714.4,298.2 L1717.4,288.0 L1720.5,277.4 L1723.5,266.7 L1726.6,255.7 L1729.6,244.5 L1732.6,233.0 L1735.7,221.2 L1738.7,209.3 L1741.7,197.0 L1744.8,184.5 L1747.8,171.7" fill="none" stroke="#000" stroke-width="7.10" stroke-linecap="round" stroke-linejoin="round" clip-path="url(#ca)"/>
<path d="M1136.4,695.1 L1137.0,693.5 L1137.9,691.2 L1141.0,683.6 L1144.0,676.3 L1147.0,669.4 L1150.1,662.7 L1153.1,656.4 L1156.1,650.3 L1159.2,644.5 L1162.2,638.9 L1165.2,633.6 L1168.3,628.5 L1171.3,623.6 L1174.3,618.9 L1177.4,614.5 L1180.4,610.3 L1183.4,606.2 L1186.5,602.3 L1189.5,598.6 L1192.5,595.1 L1195.6,591.8 L1198.6,588.6 L1201.6,585.6 L1204.7,582.7 L1207.7,579.9 L1210.7,577.3 L1213.8,574.9 L1216.8,572.5 L1219.8,570.3 L1222.9,568.2 L1225.9,566.2 L1228.9,564.4 L1232.0,562.6 L1235.0,561.0 L1238.0,559.4 L1241.1,558.0 L1244.1,556.6 L1247.2,555.4 L1250.2,554.2 L1253.2,553.2 L1256.3,552.2 L1259.3,551.3 L1262.3,550.5 L1265.4,549.8 L1268.4,549.2 L1271.4,548.7 L1274.5,548.2 L1277.5,547.8 L1280.5,547.6 L1283.6,547.3 L1286.6,547.2 L1289.6,547.2 L1292.7,547.2 L1295.7,547.3 L1298.7,547.5 L1301.8,547.7 L1304.8,548.1 L1307.8,548.5 L1310.9,549.0 L1313.9,549.6 L1316.9,550.3 L1320.0,551.1 L1323.0,551.9 L1326.0,552.8 L1329.1,553.9 L1332.1,555.0 L1335.1,556.2 L1338.2,557.5 L1341.2,558.9 L1344.2,560.4 L1347.3,562.0 L1350.3,563.8 L1353.3,565.6 L1354.9,566.5" fill="none" stroke="#0000ff" stroke-width="17.60" stroke-linecap="round" stroke-linejoin="round" clip-path="url(#ca)"/>
<path d="M1073.4,729.6 L1074.2,727.9 L1077.2,721.0 L1080.3,713.9 L1080.9,712.5 L1083.3,706.8 L1086.3,700.0 L1089.4,693.4 L1092.4,687.1 L1095.4,681.0 L1098.5,675.2 L1101.5,669.6 L1104.5,664.3 L1107.6,659.1 L1110.6,654.2 L1113.6,649.5 L1116.7,644.9 L1119.7,640.6 L1122.7,636.4 L1125.8,632.5 L1128.8,628.6 L1131.9,625.0 L1134.9,621.5 L1137.9,618.1 L1141.0,614.9 L1144.0,611.9 L1147.0,609.0 L1150.1,606.2 L1153.1,603.5 L1156.1,601.0 L1159.2,598.6 L1162.2,596.3 L1165.2,594.1 L1168.3,592.0 L1171.3,590.1 L1174.3,588.2 L1177.4,586.5 L1180.4,584.8 L1183.4,583.2 L1186.5,581.8 L1189.5,580.4 L1192.5,579.1 L1195.6,577.9 L1198.6,576.8 L1201.6,575.8 L1204.7,574.8 L1207.7,574.0 L1210.7,573.2 L1213.8,572.5 L1216.8,571.9 L1219.8,571.3 L1222.9,570.9 L1225.9,570.5 L1228.9,570.1 L1232.0,569.9 L1235.0,569.7 L1238.0,569.6 L1241.1,569.6 L1244.1,569.6 L1247.2,569.8 L1250.2,569.9 L1253.2,570.2 L1256.3,570.6 L1259.3,571.0 L1262.3,571.5 L1265.4,572.0 L1268.4,572.7 L1271.4,573.4 L1274.5,574.2 L1277.5,575.1 L1280.5,576.1 L1283.6,577.1 L1286.6,578.2 L1289.6,579.5 L1292.7,580.8 L1295.7,582.2 L1298.7,583.7 L1301.8,585.2 L1304.8,586.9 L1307.8,588.7 L1310.9,590.6 L1313.9,592.6 L1316.5,594.4 L1316.9,594.7" fill="none" stroke="#0000ff" stroke-width="17.60" stroke-linecap="round" stroke-linejoin="round" clip-path="url(#ca)"/>
<path d="M1006.7,766.6 L1007.5,765.3 L1010.5,760.3 L1013.5,755.2 L1016.6,749.9 L1019.6,744.5 L1022.6,739.0 L1025.7,733.3 L1028.7,727.6 L1031.7,721.6 L1032.9,719.4 L1034.8,715.7 L1037.8,709.9 L1040.8,704.3 L1043.9,699.0 L1046.9,693.8 L1049.9,688.8 L1053.0,684.0 L1056.0,679.4 L1059.0,675.0 L1062.1,670.7 L1065.1,666.6 L1068.1,662.6 L1071.2,658.8 L1074.2,655.1 L1077.2,651.6 L1080.3,648.3 L1083.3,645.0 L1086.3,641.9 L1089.4,638.9 L1092.4,636.0 L1095.4,633.3 L1098.5,630.7 L1101.5,628.1 L1104.5,625.7 L1107.6,623.4 L1110.6,621.2 L1113.6,619.1 L1116.7,617.1 L1119.7,615.2 L1122.7,613.4 L1125.8,611.7 L1128.8,610.1 L1131.9,608.5 L1134.9,607.1 L1137.9,605.7 L1141.0,604.4 L1144.0,603.2 L1147.0,602.0 L1150.1,601.0 L1153.1,600.0 L1156.1,599.1 L1159.2,598.2 L1162.2,597.5 L1165.2,596.8 L1168.3,596.1 L1171.3,595.6 L1174.3,595.1 L1177.4,594.7 L1180.4,594.3 L1183.4,594.0 L1186.5,593.8 L1189.5,593.7 L1192.5,593.6 L1195.6,593.6 L1198.6,593.6 L1201.6,593.7 L1204.7,593.9 L1207.7,594.2 L1210.7,594.5 L1213.8,594.9 L1216.8,595.3 L1219.8,595.8 L1222.9,596.4 L1225.9,597.1 L1228.9,597.8 L1232.0,598.6 L1235.0,599.5 L1238.0,600.4 L1241.1,601.4 L1244.1,602.5 L1247.2,603.7 L1250.2,604.9 L1253.2,606.3 L1256.3,607.7 L1259.3,609.2 L1262.3,610.8 L1265.4,612.4 L1268.4,614.2 L1271.4,616.1 L1274.5,618.0 L1277.5,620.0" fill="none" stroke="#0000ff" stroke-width="17.60" stroke-linecap="round" stroke-linejoin="round" clip-path="url(#ca)"/>
<path d="M932.7,802.0 L934.6,799.3 L937.7,795.0 L940.7,790.6 L943.7,786.1 L946.8,781.5 L949.8,776.7 L952.8,771.9 L955.9,766.9 L958.9,761.8 L961.9,756.6 L965.0,751.3 L966.8,748.0 L968.0,745.8 L971.0,740.5 L974.1,735.4 L977.1,730.4 L980.1,725.6 L983.2,720.9 L986.2,716.4 L989.2,712.0 L992.3,707.8 L995.3,703.7 L998.3,699.7 L1001.4,695.9 L1004.4,692.2 L1007.5,688.6 L1010.5,685.2 L1013.5,681.8 L1016.6,678.6 L1019.6,675.5 L1022.6,672.5 L1025.7,669.6 L1028.7,666.8 L1031.7,664.1 L1034.8,661.5 L1037.8,659.0 L1040.8,656.6 L1043.9,654.3 L1046.9,652.1 L1049.9,649.9 L1053.0,647.9 L1056.0,645.9 L1059.0,644.0 L1062.1,642.2 L1065.1,640.5 L1068.1,638.8 L1071.2,637.3 L1074.2,635.8 L1077.2,634.3 L1080.3,633.0 L1083.3,631.7 L1086.3,630.5 L1089.4,629.3 L1092.4,628.2 L1095.4,627.2 L1098.5,626.2 L1101.5,625.3 L1104.5,624.5 L1107.6,623.7 L1110.6,623.0 L1113.6,622.4 L1116.7,621.8 L1119.7,621.3 L1122.7,620.8 L1125.8,620.4 L1128.8,620.0 L1131.9,619.8 L1134.9,619.5 L1137.9,619.3 L1141.0,619.2 L1144.0,619.1 L1147.0,619.1 L1150.1,619.2 L1153.1,619.3 L1156.1,619.5 L1159.2,619.7 L1162.2,620.0 L1165.2,620.3 L1168.3,620.7 L1171.3,621.1 L1174.3,621.7 L1177.4,622.2 L1180.4,622.9 L1183.4,623.5 L1186.5,624.3 L1189.5,625.1 L1192.5,626.0 L1195.6,626.9 L1198.6,627.9 L1201.6,629.0 L1204.7,630.1 L1207.7,631.3 L1210.7,632.6 L1213.8,633.9 L1216.8,635.4 L1219.8,636.8 L1222.9,638.4 L1225.9,640.0 L1228.9,641.7 L1232.0,643.5 L1234.3,644.9" fill="none" stroke="#0000ff" stroke-width="17.60" stroke-linecap="round" stroke-linejoin="round" clip-path="url(#ca)"/>
<path d="M378.6,642.1 L382.4,642.1 L385.4,642.1 L388.5,642.1 L391.5,642.1 L394.5,642.1 L397.6,642.1 L400.6,642.1 L403.6,642.1 L406.7,642.1 L409.7,642.1 L412.8,642.1 L415.8,642.1 L418.8,642.1 L421.9,642.1 L424.9,642.1 L427.9,642.1 L431.0,642.1 L434.0,642.1 L437.0,642.1 L440.1,642.1 L443.1,642.1 L446.1,642.1 L449.2,642.1 L452.2,642.1 L455.2,642.1 L458.3,642.1 L461.3,642.1 L464.3,642.1 L467.4,642.1 L470.4,642.1 L473.4,642.1 L476.5,642.1 L479.5,642.1 L482.5,642.1 L485.6,642.1 L488.6,642.1 L491.6,642.1 L494.7,642.1 L497.7,642.1 L500.7,642.1 L503.8,642.1 L506.8,642.1 L509.8,642.1 L512.9,642.1 L515.9,642.1 L518.9,642.1 L522.0,642.1 L525.0,642.1 L528.0,642.1 L531.1,642.1 L534.1,642.1 L537.2,642.1 L540.2,642.1 L543.2,642.1 L546.3,642.1 L549.3,642.1 L552.3,642.1 L555.4,642.1 L558.4,642.1 L561.4,642.1 L564.5,642.1 L567.5,642.1 L570.5,642.1 L573.6,642.1 L576.6,642.1 L579.6,642.1 L582.7,642.1 L585.7,642.1 L588.7,642.1 L591.8,642.1 L594.8,642.1 L597.8,642.1 L600.9,642.1 L603.9,642.1 L606.9,642.1 L610.0,642.1 L613.0,642.1 L616.0,642.1 L619.1,642.1 L622.1,642.1 L625.1,642.1 L628.2,642.1 L631.2,642.1 L634.2,642.1 L637.3,642.1 L640.3,642.1 L643.3,642.1 L646.4,642.1 L649.4,642.1 L652.5,642.1 L655.5,642.1 L658.5,642.1 L661.6,642.1 L664.6,642.1 L667.6,642.1 L670.7,642.1 L673.7,642.1 L676.7,642.1 L679.8,642.1 L682.8,642.1 L685.8,642.1 L688.9,642.1 L691.9,642.1 L694.9,642.1 L698.0,642.1 L701.0,642.1 L704.0,642.1 L707.1,642.1 L710.1,642.1 L713.1,642.1 L716.2,642.1 L719.2,642.1 L722.2,642.1 L725.3,642.1 L728.3,642.1 L731.3,642.1 L734.4,642.1 L737.4,642.1 L740.4,642.1 L743.5,642.1 L746.5,642.1 L749.5,642.1 L752.6,642.1 L755.6,642.1 L758.6,642.1 L761.7,642.1 L764.7,642.1 L767.8,642.1 L770.8,642.1 L773.8,642.1 L776.9,642.1 L779.9,642.1 L782.9,642.1 L786.0,642.1 L789.0,642.1 L792.0,642.1 L795.1,642.1 L798.1,642.1 L801.1,642.1 L804.2,642.1 L807.2,642.1 L810.2,642.1 L813.3,642.1 L816.3,642.1 L819.3,642.1 L822.4,642.1 L825.4,642.1 L828.4,642.1 L831.5,642.1 L834.5,642.1 L837.5,642.0 L840.6,642.0 L843.6,642.0 L846.6,642.0 L848.9,642.0 L849.7,641.9 L850.1,641.9 L851.2,641.9 L852.3,641.9 L852.7,641.9 L853.5,641.9 L854.6,641.9 L855.7,641.8 L856.9,641.8 L858.0,641.8 L858.8,641.7 L859.2,641.7 L860.3,641.7 L861.4,641.6 L861.8,641.6 L862.6,641.6 L863.7,641.5 L864.8,641.5 L866.0,641.4 L867.1,641.3 L867.9,641.2 L868.3,641.2 L869.4,641.1 L870.5,641.0 L870.9,640.9 L871.7,640.8 L872.8,640.7 L873.9,640.5 L875.1,640.3 L876.2,640.1 L877.0,640.0 L877.4,639.9 L878.5,639.6 L879.6,639.3 L880.0,639.2 L880.8,639.0 L881.9,638.6 L883.0,638.2 L884.2,637.7 L885.3,637.2 L886.1,636.8 L886.5,636.6 L887.6,635.9 L888.7,635.1 L889.1,634.9 L889.9,634.3 L891.0,633.3 L892.2,632.3 L893.3,631.1 L894.4,629.7 L895.2,628.7 L895.6,628.2 L896.7,626.5 L897.8,624.6 L898.2,623.9 L899.0,622.5 L900.1,620.1 L901.3,617.4 L902.4,614.4 L903.5,611.0 L904.3,608.6 L904.7,607.4 L905.8,603.8 L906.9,600.3 L907.3,599.1 L908.1,596.7 L909.2,593.1 L910.4,589.6 L911.5,586.0 L912.6,582.5 L913.4,580.1 L913.8,578.9 L914.9,575.4 L916.0,571.9 L916.4,570.7 L917.2,568.4 L918.3,564.8 L919.5,561.3 L920.6,557.8 L921.7,554.4 L922.5,552.0 L922.9,550.9 L924.0,547.4 L925.1,543.9 L925.5,542.8 L926.3,540.5 L928.6,533.6 L931.6,524.5 L934.6,515.5 L937.7,506.5 L940.7,497.7 L943.7,488.9 L946.8,480.2 L949.8,471.6 L952.8,463.2 L955.9,454.8 L958.9,446.6 L961.9,438.4 L965.0,430.4 L968.0,422.5 L971.0,414.7 L974.1,407.0 L977.1,399.5 L980.1,392.1 L983.2,384.8 L986.2,377.6 L989.2,370.6 L992.3,363.7 L995.3,356.9 L998.3,350.2 L1001.4,343.7 L1004.4,337.3 L1007.5,331.0 L1010.5,324.9 L1013.5,318.9 L1016.6,313.0 L1019.6,307.2 L1022.6,301.6 L1025.7,296.0 L1028.7,290.6 L1031.7,285.3 L1034.8,280.1 L1037.8,275.1 L1040.8,270.1 L1043.9,265.3 L1046.9,260.6 L1049.9,256.0 L1053.0,251.5 L1056.0,247.1 L1059.0,242.8 L1062.1,238.6 L1065.1,234.5 L1068.1,230.5 L1071.2,226.5 L1074.2,222.7 L1077.2,219.0 L1080.3,215.4 L1083.3,211.9 L1086.3,208.4 L1089.4,205.0 L1092.4,201.7 L1095.4,198.5 L1098.5,195.4 L1101.5,192.4 L1104.5,189.4 L1107.6,186.5 L1110.6,183.7 L1113.6,180.9 L1116.7,178.2 L1119.7,175.6 L1122.7,173.1 L1125.8,170.6 L1128.8,168.2 L1131.9,165.8 L1134.9,163.5 L1134.9,163.5 L1134.9,163.5 L1137.9,167.2 L1141.0,171.0 L1144.0,174.9 L1147.0,179.0 L1150.1,183.3 L1153.1,187.8 L1156.1,192.4 L1159.2,197.2 L1162.2,202.3 L1165.2,207.5 L1168.3,212.9 L1171.3,218.6 L1174.3,224.4 L1177.4,230.5 L1180.4,236.9 L1183.4,243.5 L1186.5,250.3 L1189.5,257.4 L1192.5,264.8 L1195.6,272.4 L1198.6,280.3 L1201.6,288.5 L1204.7,297.0 L1207.7,305.8 L1210.7,314.9 L1213.8,324.3 L1216.8,334.0 L1219.8,344.0 L1222.9,354.4 L1225.9,365.0 L1228.9,376.0 L1232.0,387.2 L1235.0,398.8 L1238.0,410.7 L1241.1,422.9 L1244.1,435.4 L1247.2,448.2 L1250.2,461.3 L1253.2,474.6 L1256.3,488.2 L1259.3,502.0 L1262.3,516.1 L1265.4,530.3 L1268.4,544.8 L1271.4,559.4 L1274.5,574.1 L1277.5,589.0 L1280.5,603.9 L1283.6,618.9 L1286.6,634.0 L1289.6,649.0 L1292.7,664.1 L1295.7,679.1 L1298.7,694.1 L1301.8,708.9 L1304.8,723.7 L1307.8,738.3 L1310.9,752.7 L1313.9,767.0 L1316.9,781.1 L1320.0,794.9 L1323.0,808.5 L1326.0,821.9 L1329.1,835.0 L1332.1,847.8 L1335.1,860.3 L1338.2,872.5 L1341.2,884.4 L1344.2,896.0 L1347.3,907.4 L1350.3,918.3 L1353.3,929.0 L1356.4,939.4 L1356.4,939.4 L1356.4,939.4 L1359.4,932.4 L1362.4,925.3 L1365.5,918.0 L1368.5,910.6 L1371.6,903.0 L1374.6,895.3 L1377.6,887.4 L1380.7,879.4 L1383.7,871.3 L1386.7,863.0 L1389.8,854.6 L1392.8,846.1 L1395.8,837.4 L1398.9,828.6 L1401.9,819.6 L1404.9,810.6 L1408.0,801.4 L1411.0,792.1 L1414.0,782.7 L1417.1,773.2 L1420.1,763.7 L1423.1,754.0 L1426.2,744.2 L1429.2,734.4 L1432.2,724.5 L1435.3,714.5 L1438.3,704.4 L1441.3,694.4 L1444.4,684.2 L1447.4,674.1 L1450.4,663.9 L1453.5,653.7 L1456.5,643.5 L1459.5,633.2 L1462.6,623.0 L1465.6,612.9 L1468.6,602.7 L1471.7,592.5 L1474.7,582.4 L1477.7,572.4 L1480.8,562.4 L1483.8,552.5 L1486.9,542.6 L1489.9,532.8 L1492.9,523.1 L1496.0,513.5 L1499.0,504.0 L1502.0,494.6 L1505.1,485.3 L1508.1,476.0 L1511.1,467.0 L1514.2,458.0 L1517.2,449.2 L1520.2,440.4 L1523.3,431.9 L1526.3,423.4 L1529.3,415.1 L1532.4,406.9 L1535.4,398.9 L1538.4,391.0 L1541.5,383.2 L1544.5,375.6 L1547.5,368.2 L1550.6,360.9 L1553.6,353.7 L1556.6,346.7 L1559.7,339.8 L1562.7,333.0 L1565.7,326.5 L1568.8,320.0 L1571.8,313.7 L1574.8,307.5 L1577.9,301.5 L1580.9,295.6 L1583.9,289.8 L1587.0,284.2 L1590.0,278.7 L1593.0,273.4 L1596.1,268.1 L1599.1,263.0 L1602.2,258.1 L1605.2,253.2 L1608.2,248.5 L1611.3,243.9 L1614.3,239.4 L1617.3,235.0 L1620.4,230.7 L1623.4,226.5 L1626.4,222.5 L1629.5,218.5 L1632.5,214.7 L1635.5,210.9 L1638.6,207.2 L1641.6,203.7 L1644.6,200.2 L1647.7,196.9 L1650.7,193.6 L1653.7,190.4 L1656.8,187.3 L1659.8,184.2 L1662.8,181.3 L1665.9,178.4 L1668.9,175.6 L1671.9,172.9 L1675.0,170.3 L1678.0,167.7 L1681.0,165.2 L1684.1,162.8 L1687.1,160.4 L1690.1,158.1 L1693.2,155.9 L1696.2,153.7 L1699.2,151.6 L1702.3,149.5 L1705.3,147.5 L1708.3,145.6 L1711.4,143.7 L1714.4,141.8 L1717.4,140.0 L1720.5,138.3 L1723.5,136.6 L1726.6,135.0 L1729.6,133.4 L1732.6,131.8 L1735.7,130.3 L1738.7,128.8 L1741.7,127.4 L1744.8,126.0 L1747.8,124.6" fill="none" stroke="#0000ff" stroke-width="7.40" stroke-linecap="round" stroke-linejoin="round" stroke-dasharray="0.01 13.87" clip-path="url(#ca)"/>
<path d="M378.6,642.1 L382.4,642.1 L385.4,642.1 L388.5,642.1 L391.5,642.1 L394.5,642.1 L397.6,642.1 L400.6,642.1 L403.6,642.1 L406.7,642.1 L409.7,642.1 L412.8,642.1 L415.8,642.1 L418.8,642.1 L421.9,642.1 L424.9,642.1 L427.9,642.1 L431.0,642.1 L434.0,642.1 L437.0,642.1 L440.1,642.1 L443.1,642.1 L446.1,642.1 L449.2,642.1 L452.2,642.1 L455.2,642.1 L458.3,642.1 L461.3,642.1 L464.3,642.1 L467.4,642.1 L470.4,642.1 L473.4,642.1 L476.5,642.1 L479.5,642.1 L482.5,642.1 L485.6,642.1 L488.6,642.1 L491.6,642.1 L494.7,642.1 L497.7,642.1 L500.7,642.1 L503.8,642.1 L506.8,642.1 L509.8,642.1 L512.9,642.1 L515.9,642.1 L518.9,642.1 L522.0,642.1 L525.0,642.1 L528.0,642.1 L531.1,642.1 L534.1,642.1 L537.2,642.1 L540.2,642.1 L543.2,642.1 L546.3,642.1 L549.3,642.1 L552.3,642.1 L555.4,642.1 L558.4,642.1 L561.4,642.1 L564.5,642.1 L567.5,642.1 L570.5,642.1 L573.6,642.1 L576.6,642.1 L579.6,642.1 L582.7,642.1 L585.7,642.1 L588.7,642.1 L591.8,642.1 L594.8,642.1 L597.8,642.1 L600.9,642.1 L603.9,642.1 L606.9,642.1 L610.0,642.1 L613.0,642.1 L616.0,642.1 L619.1,642.1 L622.1,642.1 L625.1,642.1 L628.2,642.1 L631.2,642.1 L634.2,642.1 L637.3,642.1 L640.3,642.1 L643.3,642.1 L646.4,642.1 L649.4,642.1 L652.5,642.1 L655.5,642.1 L658.5,642.1 L661.6,642.1 L664.6,642.1 L667.6,642.1 L670.7,642.1 L673.7,642.1 L676.7,642.1 L679.8,642.1 L682.8,642.1 L685.8,642.1 L688.9,642.1 L691.9,642.1 L694.9,642.1 L698.0,642.1 L701.0,642.1 L704.0,642.1 L707.1,642.1 L710.1,642.1 L713.1,642.1 L716.2,642.1 L719.2,642.1 L722.2,642.1 L725.3,642.1 L728.3,642.1 L731.3,642.1 L734.4,642.1 L737.4,642.1 L740.4,642.1 L743.5,642.1 L746.5,642.1 L749.5,642.1 L752.6,642.1 L755.6,642.1 L758.6,642.1 L761.7,642.1 L764.7,642.1 L767.8,642.1 L770.8,642.1 L773.8,642.1 L776.9,642.0 L779.9,642.0 L782.9,642.0 L786.0,642.0 L788.2,642.0 L789.0,642.0 L789.4,642.0 L790.5,641.9 L791.6,641.9 L792.0,641.9 L792.8,641.9 L793.9,641.9 L795.1,641.9 L796.2,641.8 L797.3,641.8 L798.1,641.8 L798.5,641.8 L799.6,641.7 L800.7,641.7 L801.1,641.7 L801.9,641.6 L803.0,641.6 L804.2,641.5 L805.3,641.4 L806.4,641.4 L807.2,641.3 L807.6,641.3 L808.7,641.2 L809.8,641.1 L810.2,641.0 L811.0,640.9 L812.1,640.8 L813.3,640.7 L814.4,640.5 L815.5,640.3 L816.3,640.1 L816.7,640.1 L817.8,639.8 L819.0,639.5 L819.3,639.4 L820.1,639.2 L821.2,638.9 L822.4,638.5 L823.5,638.1 L824.6,637.6 L825.4,637.2 L825.8,637.0 L826.9,636.4 L828.1,635.7 L828.4,635.4 L829.2,634.9 L830.3,634.0 L831.5,633.1 L832.6,632.0 L833.7,630.7 L834.5,629.8 L834.9,629.3 L836.0,627.8 L837.2,626.0 L837.5,625.4 L838.3,624.0 L839.4,621.8 L840.6,619.4 L841.7,616.6 L842.8,613.5 L843.6,611.3 L844.0,610.2 L845.1,606.9 L846.3,603.6 L846.6,602.5 L847.4,600.3 L848.5,597.1 L849.7,593.8 L850.8,590.5 L851.9,587.3 L852.7,585.1 L853.1,584.0 L854.2,580.7 L855.4,577.5 L855.7,576.4 L856.5,574.2 L857.6,571.0 L858.8,567.8 L859.9,564.5 L861.1,561.3 L861.8,559.2 L862.2,558.1 L863.3,554.9 L864.5,551.7 L864.8,550.6 L865.6,548.5 L867.9,542.1 L870.9,533.7 L873.9,525.3 L877.0,517.0 L880.0,508.8 L883.0,500.6 L886.1,492.5 L889.1,484.5 L892.2,476.6 L895.2,468.7 L898.2,461.0 L901.3,453.3 L904.3,445.7 L907.3,438.3 L910.4,430.9 L913.4,423.6 L916.4,416.4 L919.5,409.3 L922.5,402.4 L925.5,395.5 L928.6,388.8 L931.6,382.1 L934.6,375.6 L937.7,369.1 L940.7,362.8 L943.7,356.6 L946.8,350.4 L949.8,344.4 L952.8,338.5 L955.9,332.7 L958.9,327.1 L961.9,321.5 L965.0,316.0 L968.0,310.6 L971.0,305.4 L974.1,300.2 L977.1,295.1 L980.1,290.2 L983.2,285.3 L986.2,280.6 L989.2,275.9 L992.3,271.3 L995.3,266.9 L998.3,262.5 L1001.4,258.2 L1004.4,254.0 L1007.5,249.9 L1010.5,245.9 L1013.5,241.9 L1016.6,238.1 L1019.6,234.3 L1022.6,230.7 L1025.7,227.1 L1028.7,223.5 L1031.7,220.1 L1034.8,216.7 L1037.8,213.4 L1040.8,210.2 L1043.9,207.1 L1046.9,204.0 L1049.9,201.0 L1053.0,198.1 L1056.0,195.2 L1059.0,192.4 L1062.1,189.7 L1065.1,187.0 L1068.1,184.4 L1071.2,181.9 L1074.2,179.4 L1077.2,176.9 L1080.3,174.6 L1083.3,172.3 L1084.1,171.7 L1084.1,171.7 L1086.3,174.4 L1089.4,178.3 L1092.4,182.2 L1095.4,186.3 L1098.5,190.6 L1101.5,195.1 L1104.5,199.7 L1107.6,204.4 L1110.6,209.4 L1113.6,214.5 L1116.7,219.8 L1119.7,225.4 L1122.7,231.1 L1125.8,237.0 L1128.8,243.2 L1131.9,249.5 L1134.9,256.1 L1137.9,262.9 L1141.0,270.0 L1144.0,277.3 L1147.0,284.9 L1150.1,292.7 L1153.1,300.7 L1156.1,309.0 L1159.2,317.6 L1162.2,326.4 L1165.2,335.6 L1168.3,345.0 L1171.3,354.6 L1174.3,364.6 L1177.4,374.8 L1180.4,385.3 L1183.4,396.0 L1186.5,407.1 L1189.5,418.4 L1192.5,429.9 L1195.6,441.7 L1198.6,453.8 L1201.6,466.1 L1204.7,478.6 L1207.7,491.4 L1210.7,504.3 L1213.8,517.4 L1216.8,530.8 L1219.8,544.2 L1222.9,557.9 L1225.9,571.6 L1228.9,585.4 L1232.0,599.4 L1235.0,613.4 L1238.0,627.4 L1241.1,641.5 L1244.1,655.5 L1247.2,669.6 L1250.2,683.6 L1253.2,697.5 L1256.3,711.4 L1259.3,725.1 L1262.3,738.8 L1265.4,752.3 L1268.4,765.6 L1271.4,778.7 L1274.5,791.7 L1277.5,804.5 L1280.5,817.0 L1283.6,829.3 L1286.6,841.4 L1289.6,853.3 L1292.7,864.8 L1295.7,876.2 L1298.7,887.2 L1301.8,898.0 L1304.8,908.5 L1307.8,918.7 L1310.9,928.7 L1313.9,938.4 L1315.4,943.1 L1315.4,943.1 L1316.9,940.0 L1320.0,933.7 L1323.0,927.3 L1326.0,920.8 L1329.1,914.2 L1332.1,907.4 L1335.1,900.5 L1338.2,893.5 L1341.2,886.4 L1344.2,879.2 L1347.3,871.9 L1350.3,864.4 L1353.3,856.8 L1356.4,849.2 L1359.4,841.4 L1362.4,833.5 L1365.5,825.5 L1368.5,817.4 L1371.6,809.2 L1374.6,800.9 L1377.6,792.5 L1380.7,784.1 L1383.7,775.5 L1386.7,766.9 L1389.8,758.2 L1392.8,749.4 L1395.8,740.6 L1398.9,731.7 L1401.9,722.7 L1404.9,713.7 L1408.0,704.6 L1411.0,695.5 L1414.0,686.4 L1417.1,677.2 L1420.1,668.0 L1423.1,658.8 L1426.2,649.6 L1429.2,640.4 L1432.2,631.2 L1435.3,622.0 L1438.3,612.8 L1441.3,603.6 L1444.4,594.4 L1447.4,585.3 L1450.4,576.2 L1453.5,567.2 L1456.5,558.2 L1459.5,549.3 L1462.6,540.4 L1465.6,531.5 L1468.6,522.8 L1471.7,514.1 L1474.7,505.5 L1477.7,497.0 L1480.8,488.6 L1483.8,480.2 L1486.9,472.0 L1489.9,463.8 L1492.9,455.7 L1496.0,447.8 L1499.0,439.9 L1502.0,432.2 L1505.1,424.5 L1508.1,417.0 L1511.1,409.6 L1514.2,402.3 L1517.2,395.1 L1520.2,388.1 L1523.3,381.1 L1526.3,374.3 L1529.3,367.6 L1532.4,361.0 L1535.4,354.5 L1538.4,348.1 L1541.5,341.9 L1544.5,335.7 L1547.5,329.7 L1550.6,323.8 L1553.6,318.1 L1556.6,312.4 L1559.7,306.8 L1562.7,301.4 L1565.7,296.1 L1568.8,290.9 L1571.8,285.8 L1574.8,280.8 L1577.9,275.9 L1580.9,271.1 L1583.9,266.4 L1587.0,261.9 L1590.0,257.4 L1593.0,253.0 L1596.1,248.7 L1599.1,244.6 L1602.2,240.5 L1605.2,236.5 L1608.2,232.6 L1611.3,228.8 L1614.3,225.1 L1617.3,221.4 L1620.4,217.9 L1623.4,214.4 L1626.4,211.0 L1629.5,207.7 L1632.5,204.5 L1635.5,201.3 L1638.6,198.3 L1641.6,195.3 L1644.6,192.3 L1647.7,189.5 L1650.7,186.7 L1653.7,184.0 L1656.8,181.3 L1659.8,178.7 L1662.8,176.2 L1665.9,173.7 L1668.9,171.3 L1671.9,169.0 L1675.0,166.7 L1678.0,164.4 L1681.0,162.3 L1684.1,160.1 L1687.1,158.1 L1690.1,156.0 L1693.2,154.1 L1696.2,152.1 L1699.2,150.3 L1702.3,148.4 L1705.3,146.7 L1708.3,144.9 L1711.4,143.2 L1714.4,141.6 L1717.4,140.0 L1720.5,138.4 L1723.5,136.9 L1726.6,135.4 L1729.6,133.9 L1732.6,132.5 L1735.7,131.1 L1738.7,129.7 L1741.7,128.4 L1744.8,127.1 L1747.8,125.9" fill="none" stroke="#ff0000" stroke-width="6.90" stroke-linecap="round" stroke-linejoin="round" stroke-dasharray="10.4 11.75" clip-path="url(#ca)"/>
<path d="M378.6,642.1 L382.4,642.1 L385.4,642.1 L388.5,642.1 L391.5,642.1 L394.5,642.1 L397.6,642.1 L400.6,642.1 L403.6,642.1 L406.7,642.1 L409.7,642.1 L412.8,642.1 L415.8,642.1 L418.8,642.1 L421.9,642.1 L424.9,642.1 L427.9,642.1 L431.0,642.1 L434.0,642.1 L437.0,642.1 L440.1,642.1 L443.1,642.1 L446.1,642.1 L449.2,642.1 L452.2,642.1 L455.2,642.1 L458.3,642.1 L461.3,642.1 L464.3,642.1 L467.4,642.1 L470.4,642.1 L473.4,642.1 L476.5,642.1 L479.5,642.1 L482.5,642.1 L485.6,642.1 L488.6,642.1 L491.6,642.1 L494.7,642.1 L497.7,642.1 L500.7,642.1 L503.8,642.1 L506.8,642.1 L509.8,642.1 L512.9,642.1 L515.9,642.1 L518.9,642.1 L522.0,642.1 L525.0,642.1 L528.0,642.1 L531.1,642.1 L534.1,642.1 L537.2,642.1 L540.2,642.1 L543.2,642.1 L546.3,642.1 L549.3,642.1 L552.3,642.1 L555.4,642.1 L558.4,642.1 L561.4,642.1 L564.5,642.1 L567.5,642.1 L570.5,642.1 L573.6,642.1 L576.6,642.1 L579.6,642.1 L582.7,642.1 L585.7,642.1 L588.7,642.1 L591.8,642.1 L594.8,642.1 L597.8,642.1 L600.9,642.1 L603.9,642.1 L606.9,642.1 L610.0,642.1 L613.0,642.1 L616.0,642.1 L619.1,642.1 L622.1,642.1 L625.1,642.1 L628.2,642.1 L631.2,642.1 L634.2,642.1 L637.3,642.1 L640.3,642.1 L643.3,642.1 L646.4,642.1 L649.4,642.1 L652.5,642.1 L655.5,642.1 L658.5,642.1 L661.6,642.1 L664.6,642.1 L667.6,642.1 L670.7,642.1 L673.7,642.1 L676.7,642.1 L679.8,642.1 L682.8,642.1 L685.8,642.1 L688.9,642.1 L691.9,642.1 L694.9,642.1 L698.0,642.1 L701.0,642.1 L704.0,642.1 L707.1,642.1 L710.1,642.1 L713.1,642.1 L716.2,642.0 L719.2,642.0 L722.2,642.0 L725.3,642.0 L727.5,642.0 L728.3,642.0 L728.7,642.0 L729.8,641.9 L731.0,641.9 L731.3,641.9 L732.1,641.9 L733.2,641.9 L734.4,641.9 L735.5,641.8 L736.6,641.8 L737.4,641.8 L737.8,641.8 L738.9,641.8 L740.1,641.7 L740.4,641.7 L741.2,641.7 L742.3,641.6 L743.5,641.6 L744.6,641.5 L745.8,641.4 L746.5,641.4 L746.9,641.3 L748.0,641.3 L749.2,641.2 L749.5,641.1 L750.3,641.0 L751.4,640.9 L752.6,640.8 L753.7,640.6 L754.9,640.4 L755.6,640.3 L756.0,640.2 L757.1,640.0 L758.3,639.8 L758.6,639.7 L759.4,639.5 L760.5,639.1 L761.7,638.8 L762.8,638.4 L764.0,637.9 L764.7,637.6 L765.1,637.4 L766.2,636.9 L767.4,636.2 L767.8,636.0 L768.5,635.5 L769.6,634.7 L770.8,633.8 L771.9,632.8 L773.1,631.6 L773.8,630.8 L774.2,630.4 L775.3,628.9 L776.5,627.3 L776.9,626.7 L777.6,625.5 L778.7,623.5 L779.9,621.2 L781.0,618.7 L782.2,615.8 L782.9,613.8 L783.3,612.8 L784.4,609.8 L785.6,606.8 L786.0,605.8 L786.7,603.7 L787.9,600.7 L789.0,597.7 L790.1,594.7 L791.3,591.7 L792.0,589.7 L792.4,588.7 L793.5,585.7 L794.7,582.7 L795.1,581.7 L795.8,579.7 L797.0,576.8 L798.1,573.8 L799.2,570.8 L800.4,567.8 L801.1,565.8 L801.5,564.9 L802.6,561.9 L803.8,558.9 L804.2,558.0 L804.9,556.0 L807.2,550.1 L810.2,542.3 L813.3,534.6 L816.3,526.9 L819.3,519.2 L822.4,511.6 L825.4,504.1 L828.4,496.6 L831.5,489.2 L834.5,481.9 L837.5,474.7 L840.6,467.5 L843.6,460.4 L846.6,453.3 L849.7,446.4 L852.7,439.5 L855.7,432.7 L858.8,426.0 L861.8,419.4 L864.8,412.8 L867.9,406.4 L870.9,400.0 L873.9,393.7 L877.0,387.6 L880.0,381.5 L883.0,375.5 L886.1,369.5 L889.1,363.7 L892.2,358.0 L895.2,352.3 L898.2,346.8 L901.3,341.3 L904.3,336.0 L907.3,330.7 L910.4,325.5 L913.4,320.4 L916.4,315.4 L919.5,310.5 L922.5,305.6 L925.5,300.9 L928.6,296.2 L931.6,291.6 L934.6,287.1 L937.7,282.7 L940.7,278.4 L943.7,274.1 L946.8,270.0 L949.8,265.9 L952.8,261.9 L955.9,258.0 L958.9,254.1 L961.9,250.3 L965.0,246.6 L968.0,243.0 L971.0,239.5 L974.1,236.0 L977.1,232.6 L980.1,229.2 L983.2,225.9 L986.2,222.7 L989.2,219.6 L992.3,216.5 L995.3,213.5 L998.3,210.5 L1001.4,207.6 L1004.4,204.8 L1007.5,202.0 L1010.5,199.3 L1013.5,196.7 L1016.6,194.1 L1019.6,191.5 L1022.6,189.0 L1025.7,186.6 L1028.7,184.2 L1029.4,183.6 L1029.4,183.6 L1031.7,186.4 L1034.8,190.3 L1037.8,194.2 L1040.8,198.4 L1043.9,202.6 L1046.9,207.0 L1049.9,211.6 L1053.0,216.3 L1056.0,221.2 L1059.0,226.2 L1062.1,231.4 L1065.1,236.8 L1068.1,242.3 L1071.2,248.0 L1074.2,253.9 L1077.2,260.0 L1080.3,266.3 L1083.3,272.7 L1086.3,279.4 L1089.4,286.3 L1092.4,293.4 L1095.4,300.6 L1098.5,308.2 L1101.5,315.9 L1104.5,323.8 L1107.6,332.0 L1110.6,340.3 L1113.6,348.9 L1116.7,357.8 L1119.7,366.8 L1122.7,376.1 L1125.8,385.6 L1128.8,395.3 L1131.9,405.3 L1134.9,415.4 L1137.9,425.8 L1141.0,436.4 L1144.0,447.2 L1147.0,458.2 L1150.1,469.3 L1153.1,480.7 L1156.1,492.2 L1159.2,503.9 L1162.2,515.8 L1165.2,527.8 L1168.3,540.0 L1171.3,552.2 L1174.3,564.6 L1177.4,577.1 L1180.4,589.6 L1183.4,602.2 L1186.5,614.9 L1189.5,627.6 L1192.5,640.3 L1195.6,653.0 L1198.6,665.7 L1201.6,678.4 L1204.7,691.0 L1207.7,703.5 L1210.7,716.0 L1213.8,728.4 L1216.8,740.7 L1219.8,752.9 L1222.9,764.9 L1225.9,776.9 L1228.9,788.6 L1232.0,800.2 L1235.0,811.6 L1238.0,822.8 L1241.1,833.9 L1244.1,844.7 L1247.2,855.4 L1250.2,865.8 L1253.2,876.0 L1256.3,886.0 L1259.3,895.8 L1262.3,905.4 L1265.4,914.7 L1268.4,923.8 L1271.4,932.7 L1274.5,941.4 L1276.0,945.6 L1276.0,945.6 L1277.5,942.8 L1280.5,937.2 L1283.6,931.4 L1286.6,925.5 L1289.6,919.5 L1292.7,913.4 L1295.7,907.3 L1298.7,901.0 L1301.8,894.6 L1304.8,888.1 L1307.8,881.6 L1310.9,874.9 L1313.9,868.2 L1316.9,861.3 L1320.0,854.4 L1323.0,847.3 L1326.0,840.2 L1329.1,833.0 L1332.1,825.7 L1335.1,818.3 L1338.2,810.9 L1341.2,803.3 L1344.2,795.7 L1347.3,788.0 L1350.3,780.2 L1353.3,772.4 L1356.4,764.5 L1359.4,756.5 L1362.4,748.5 L1365.5,740.5 L1368.5,732.3 L1371.6,724.2 L1374.6,715.9 L1377.6,707.7 L1380.7,699.4 L1383.7,691.1 L1386.7,682.7 L1389.8,674.3 L1392.8,666.0 L1395.8,657.6 L1398.9,649.2 L1401.9,640.7 L1404.9,632.3 L1408.0,623.9 L1411.0,615.5 L1414.0,607.1 L1417.1,598.8 L1420.1,590.4 L1423.1,582.1 L1426.2,573.8 L1429.2,565.6 L1432.2,557.4 L1435.3,549.2 L1438.3,541.1 L1441.3,533.1 L1444.4,525.1 L1447.4,517.1 L1450.4,509.2 L1453.5,501.4 L1456.5,493.7 L1459.5,486.0 L1462.6,478.4 L1465.6,470.9 L1468.6,463.5 L1471.7,456.1 L1474.7,448.8 L1477.7,441.7 L1480.8,434.6 L1483.8,427.6 L1486.9,420.7 L1489.9,413.8 L1492.9,407.1 L1496.0,400.5 L1499.0,393.9 L1502.0,387.5 L1505.1,381.2 L1508.1,374.9 L1511.1,368.8 L1514.2,362.7 L1517.2,356.8 L1520.2,350.9 L1523.3,345.2 L1526.3,339.5 L1529.3,334.0 L1532.4,328.5 L1535.4,323.2 L1538.4,317.9 L1541.5,312.7 L1544.5,307.6 L1547.5,302.7 L1550.6,297.8 L1553.6,293.0 L1556.6,288.3 L1559.7,283.7 L1562.7,279.2 L1565.7,274.7 L1568.8,270.4 L1571.8,266.1 L1574.8,262.0 L1577.9,257.9 L1580.9,253.9 L1583.9,249.9 L1587.0,246.1 L1590.0,242.3 L1593.0,238.7 L1596.1,235.0 L1599.1,231.5 L1602.2,228.1 L1605.2,224.7 L1608.2,221.4 L1611.3,218.1 L1614.3,214.9 L1617.3,211.8 L1620.4,208.8 L1623.4,205.8 L1626.4,202.9 L1629.5,200.1 L1632.5,197.3 L1635.5,194.6 L1638.6,191.9 L1641.6,189.3 L1644.6,186.8 L1647.7,184.3 L1650.7,181.8 L1653.7,179.5 L1656.8,177.1 L1659.8,174.9 L1662.8,172.6 L1665.9,170.5 L1668.9,168.3 L1671.9,166.3 L1675.0,164.2 L1678.0,162.2 L1681.0,160.3 L1684.1,158.4 L1687.1,156.5 L1690.1,154.7 L1693.2,153.0 L1696.2,151.2 L1699.2,149.5 L1702.3,147.9 L1705.3,146.3 L1708.3,144.7 L1711.4,143.1 L1714.4,141.6 L1717.4,140.2 L1720.5,138.7 L1723.5,137.3 L1726.6,135.9 L1729.6,134.6 L1732.6,133.3 L1735.7,132.0 L1738.7,130.7 L1741.7,129.5 L1744.8,128.3 L1747.8,127.1" fill="none" stroke="#00b050" stroke-width="6.90" stroke-linecap="round" stroke-linejoin="round" stroke-dasharray="34.3 26.1" clip-path="url(#ca)"/>
<path d="M1019.6,191.5 L1022.6,189.0 L1025.7,186.6 L1028.7,184.2 L1029.4,183.6 L1029.4,183.6 L1031.7,186.4 L1034.8,190.3 L1037.8,194.2 L1040.8,198.4 L1043.9,202.6" fill="none" stroke="#00b050" stroke-width="6.90" stroke-linecap="round" stroke-linejoin="round" clip-path="url(#ca)"/>
<path d="M378.6,642.1 L382.4,642.1 L385.4,642.1 L388.5,642.1 L391.5,642.1 L394.5,642.1 L397.6,642.1 L400.6,642.1 L403.6,642.1 L406.7,642.1 L409.7,642.1 L412.8,642.1 L415.8,642.1 L418.8,642.1 L421.9,642.1 L424.9,642.1 L427.9,642.1 L431.0,642.1 L434.0,642.1 L437.0,642.1 L440.1,642.1 L443.1,642.1 L446.1,642.1 L449.2,642.1 L452.2,642.1 L455.2,642.1 L458.3,642.1 L461.3,642.1 L464.3,642.1 L467.4,642.1 L470.4,642.1 L473.4,642.1 L476.5,642.1 L479.5,642.1 L482.5,642.1 L485.6,642.1 L488.6,642.1 L491.6,642.1 L494.7,642.1 L497.7,642.1 L500.7,642.1 L503.8,642.1 L506.8,642.1 L509.8,642.1 L512.9,642.1 L515.9,642.1 L518.9,642.1 L522.0,642.1 L525.0,642.1 L528.0,642.1 L531.1,642.1 L534.1,642.1 L537.2,642.1 L540.2,642.1 L543.2,642.1 L546.3,642.1 L549.3,642.1 L552.3,642.1 L555.4,642.1 L558.4,642.1 L561.4,642.1 L564.5,642.1 L567.5,642.1 L570.5,642.1 L573.6,642.1 L576.6,642.1 L579.6,642.1 L582.7,642.1 L585.7,642.1 L588.7,642.1 L591.8,642.1 L594.8,642.1 L597.8,642.1 L600.9,642.1 L603.9,642.1 L606.9,642.1 L610.0,642.1 L613.0,642.1 L616.0,642.1 L619.1,642.1 L622.1,642.1 L625.1,642.1 L628.2,642.1 L631.2,642.1 L634.2,642.1 L637.3,642.1 L640.3,642.1 L643.3,642.1 L646.4,642.1 L649.4,642.1 L652.5,642.1 L655.5,642.1 L658.5,642.0 L661.6,642.0 L664.6,642.0 L666.9,642.0 L667.6,642.0 L668.0,642.0 L669.1,642.0 L670.3,641.9 L670.7,641.9 L671.4,641.9 L672.6,641.9 L673.7,641.9 L674.8,641.9 L676.0,641.8 L676.7,641.8 L677.1,641.8 L678.2,641.8 L679.4,641.7 L679.8,641.7 L680.5,641.7 L681.7,641.7 L682.8,641.6 L683.9,641.5 L685.1,641.5 L685.8,641.4 L686.2,641.4 L687.3,641.3 L688.5,641.2 L688.9,641.2 L689.6,641.1 L690.8,641.0 L691.9,640.9 L693.0,640.7 L694.2,640.6 L694.9,640.5 L695.3,640.4 L696.4,640.2 L697.6,640.0 L698.0,639.9 L698.7,639.7 L699.9,639.4 L701.0,639.1 L702.1,638.7 L703.3,638.3 L704.0,638.0 L704.4,637.8 L705.5,637.3 L706.7,636.7 L707.1,636.5 L707.8,636.1 L709.0,635.3 L710.1,634.5 L711.2,633.6 L712.4,632.5 L713.1,631.8 L713.5,631.4 L714.7,630.1 L715.8,628.6 L716.2,628.1 L716.9,627.0 L718.1,625.1 L719.2,623.0 L720.3,620.7 L721.5,618.1 L722.2,616.3 L722.6,615.3 L723.8,612.6 L724.9,609.8 L725.3,608.9 L726.0,607.1 L727.2,604.3 L728.3,601.6 L729.4,598.8 L730.6,596.1 L731.3,594.2 L731.7,593.3 L732.9,590.6 L734.0,587.8 L734.4,586.9 L735.1,585.1 L736.3,582.4 L737.4,579.6 L738.5,576.9 L739.7,574.2 L740.4,572.4 L740.8,571.5 L742.0,568.8 L743.1,566.1 L743.5,565.2 L744.2,563.4 L746.5,558.0 L749.5,550.8 L752.6,543.7 L755.6,536.6 L758.6,529.5 L761.7,522.5 L764.7,515.6 L767.8,508.7 L770.8,501.8 L773.8,495.0 L776.9,488.3 L779.9,481.6 L782.9,475.0 L786.0,468.4 L789.0,461.9 L792.0,455.4 L795.1,449.1 L798.1,442.8 L801.1,436.5 L804.2,430.3 L807.2,424.2 L810.2,418.2 L813.3,412.2 L816.3,406.4 L819.3,400.5 L822.4,394.8 L825.4,389.1 L828.4,383.5 L831.5,378.0 L834.5,372.6 L837.5,367.2 L840.6,361.9 L843.6,356.7 L846.6,351.6 L849.7,346.5 L852.7,341.5 L855.7,336.6 L858.8,331.8 L861.8,327.0 L864.8,322.3 L867.9,317.7 L870.9,313.2 L873.9,308.7 L877.0,304.3 L880.0,300.0 L883.0,295.8 L886.1,291.6 L889.1,287.5 L892.2,283.5 L895.2,279.5 L898.2,275.6 L901.3,271.8 L904.3,268.0 L907.3,264.3 L910.4,260.7 L913.4,257.1 L916.4,253.6 L919.5,250.1 L922.5,246.8 L925.5,243.4 L928.6,240.2 L931.6,237.0 L934.6,233.9 L937.7,230.8 L940.7,227.7 L943.7,224.8 L946.8,221.9 L949.8,219.0 L952.8,216.2 L955.9,213.5 L958.9,210.8 L961.9,208.1 L965.0,205.5 L968.0,203.0 L971.0,200.5 L974.1,198.0 L974.5,197.7 L974.5,197.7 L977.1,201.1 L980.1,205.0 L983.2,209.1 L986.2,213.3 L989.2,217.6 L992.3,222.1 L995.3,226.7 L998.3,231.4 L1001.4,236.3 L1004.4,241.3 L1007.5,246.5 L1010.5,251.8 L1013.5,257.2 L1016.6,262.9 L1019.6,268.7 L1022.6,274.6 L1025.7,280.7 L1028.7,287.0 L1031.7,293.4 L1034.8,300.1 L1037.8,306.9 L1040.8,313.8 L1043.9,321.0 L1046.9,328.3 L1049.9,335.9 L1053.0,343.6 L1056.0,351.5 L1059.0,359.5 L1062.1,367.8 L1065.1,376.2 L1068.1,384.9 L1071.2,393.7 L1074.2,402.7 L1077.2,411.9 L1080.3,421.2 L1083.3,430.8 L1086.3,440.5 L1089.4,450.4 L1092.4,460.4 L1095.4,470.6 L1098.5,480.9 L1101.5,491.4 L1104.5,502.1 L1107.6,512.8 L1110.6,523.7 L1113.6,534.7 L1116.7,545.8 L1119.7,557.0 L1122.7,568.3 L1125.8,579.7 L1128.8,591.1 L1131.9,602.6 L1134.9,614.1 L1137.9,625.6 L1141.0,637.2 L1144.0,648.7 L1147.0,660.3 L1150.1,671.8 L1153.1,683.3 L1156.1,694.8 L1159.2,706.2 L1162.2,717.6 L1165.2,728.8 L1168.3,740.0 L1171.3,751.1 L1174.3,762.1 L1177.4,773.0 L1180.4,783.7 L1183.4,794.3 L1186.5,804.8 L1189.5,815.1 L1192.5,825.3 L1195.6,835.3 L1198.6,845.2 L1201.6,854.8 L1204.7,864.3 L1207.7,873.7 L1210.7,882.8 L1213.8,891.8 L1216.8,900.6 L1219.8,909.2 L1222.9,917.6 L1225.9,925.9 L1228.9,933.9 L1232.0,941.8 L1233.5,945.6 L1233.5,945.6 L1235.0,943.1 L1238.0,937.9 L1241.1,932.7 L1244.1,927.3 L1247.2,921.9 L1250.2,916.4 L1253.2,910.8 L1256.3,905.2 L1259.3,899.4 L1262.3,893.6 L1265.4,887.7 L1268.4,881.7 L1271.4,875.7 L1274.5,869.5 L1277.5,863.3 L1280.5,857.0 L1283.6,850.6 L1286.6,844.2 L1289.6,837.7 L1292.7,831.1 L1295.7,824.4 L1298.7,817.7 L1301.8,810.9 L1304.8,804.0 L1307.8,797.1 L1310.9,790.1 L1313.9,783.0 L1316.9,775.9 L1320.0,768.7 L1323.0,761.5 L1326.0,754.2 L1329.1,746.9 L1332.1,739.6 L1335.1,732.2 L1338.2,724.7 L1341.2,717.2 L1344.2,709.7 L1347.3,702.2 L1350.3,694.6 L1353.3,687.0 L1356.4,679.4 L1359.4,671.8 L1362.4,664.1 L1365.5,656.4 L1368.5,648.8 L1371.6,641.1 L1374.6,633.5 L1377.6,625.8 L1380.7,618.1 L1383.7,610.5 L1386.7,602.9 L1389.8,595.3 L1392.8,587.7 L1395.8,580.1 L1398.9,572.6 L1401.9,565.1 L1404.9,557.6 L1408.0,550.2 L1411.0,542.8 L1414.0,535.4 L1417.1,528.1 L1420.1,520.8 L1423.1,513.6 L1426.2,506.5 L1429.2,499.4 L1432.2,492.3 L1435.3,485.4 L1438.3,478.4 L1441.3,471.6 L1444.4,464.8 L1447.4,458.1 L1450.4,451.4 L1453.5,444.9 L1456.5,438.4 L1459.5,431.9 L1462.6,425.6 L1465.6,419.3 L1468.6,413.1 L1471.7,407.0 L1474.7,400.9 L1477.7,395.0 L1480.8,389.1 L1483.8,383.3 L1486.9,377.6 L1489.9,371.9 L1492.9,366.4 L1496.0,360.9 L1499.0,355.5 L1502.0,350.2 L1505.1,344.9 L1508.1,339.8 L1511.1,334.7 L1514.2,329.7 L1517.2,324.8 L1520.2,320.0 L1523.3,315.2 L1526.3,310.6 L1529.3,306.0 L1532.4,301.5 L1535.4,297.0 L1538.4,292.7 L1541.5,288.4 L1544.5,284.2 L1547.5,280.1 L1550.6,276.0 L1553.6,272.0 L1556.6,268.1 L1559.7,264.3 L1562.7,260.5 L1565.7,256.8 L1568.8,253.2 L1571.8,249.6 L1574.8,246.1 L1577.9,242.7 L1580.9,239.3 L1583.9,236.0 L1587.0,232.8 L1590.0,229.6 L1593.0,226.5 L1596.1,223.4 L1599.1,220.4 L1602.2,217.5 L1605.2,214.6 L1608.2,211.8 L1611.3,209.0 L1614.3,206.3 L1617.3,203.6 L1620.4,201.0 L1623.4,198.5 L1626.4,196.0 L1629.5,193.5 L1632.5,191.1 L1635.5,188.8 L1638.6,186.4 L1641.6,184.2 L1644.6,182.0 L1647.7,179.8 L1650.7,177.7 L1653.7,175.6 L1656.8,173.5 L1659.8,171.5 L1662.8,169.6 L1665.9,167.6 L1668.9,165.8 L1671.9,163.9 L1675.0,162.1 L1678.0,160.4 L1681.0,158.6 L1684.1,156.9 L1687.1,155.3 L1690.1,153.6 L1693.2,152.0 L1696.2,150.5 L1699.2,149.0 L1702.3,147.5 L1705.3,146.0 L1708.3,144.6 L1711.4,143.2 L1714.4,141.8 L1717.4,140.4 L1720.5,139.1 L1723.5,137.8 L1726.6,136.6 L1729.6,135.3 L1732.6,134.1 L1735.7,132.9 L1738.7,131.7 L1741.7,130.6 L1744.8,129.5 L1747.8,128.4" fill="none" stroke="#ffc000" stroke-width="7.10" stroke-linecap="round" stroke-linejoin="round" clip-path="url(#ca)"/>
<path d="M228.3,77.6 H1899.5 V1018.4 H228.3" fill="none" stroke="#bfbfbf" stroke-width="4.7" stroke-linejoin="miter"/>
<line x1="230.7" y1="75.8" x2="230.7" y2="1020.2" stroke="#8c8c8c" stroke-width="4.7"/>
<text x="188.5" y="93.6" font-size="49.60" fill="#000" text-anchor="end" >90</text>
<text x="188.5" y="281.8" font-size="49.60" fill="#000" text-anchor="end" >60</text>
<text x="188.5" y="469.9" font-size="49.60" fill="#000" text-anchor="end" >30</text>
<text x="188.5" y="658.1" font-size="49.60" fill="#000" text-anchor="end" >0</text>
<text x="188.5" y="846.2" font-size="49.60" fill="#000" text-anchor="end" >-30</text>
<text x="188.5" y="1034.4" font-size="49.60" fill="#000" text-anchor="end" >-60</text>
<text x="1944.0" y="93.8" font-size="49.60" fill="#595959" text-anchor="start" >0</text>
<text x="1944.0" y="282.0" font-size="49.60" fill="#595959" text-anchor="start" >400</text>
<text x="1944.0" y="470.1" font-size="49.60" fill="#595959" text-anchor="start" >800</text>
<text x="1944.0" y="658.3" font-size="49.60" fill="#595959" text-anchor="start" >1200</text>
<text x="1944.0" y="846.4" font-size="49.60" fill="#595959" text-anchor="start" >1600</text>
<text x="1944.0" y="1034.6" font-size="49.60" fill="#595959" text-anchor="start" >2000</text>
<text x="231.7" y="1093.1" font-size="49.60" fill="#595959" text-anchor="middle" >2000</text>
<text x="383.4" y="1093.1" font-size="49.60" fill="#595959" text-anchor="middle" >1800</text>
<text x="535.1" y="1093.1" font-size="49.60" fill="#595959" text-anchor="middle" >1600</text>
<text x="686.8" y="1093.1" font-size="49.60" fill="#595959" text-anchor="middle" >1400</text>
<text x="838.5" y="1093.1" font-size="49.60" fill="#595959" text-anchor="middle" >1200</text>
<text x="990.2" y="1093.1" font-size="49.60" fill="#595959" text-anchor="middle" >1000</text>
<text x="1142.0" y="1093.1" font-size="49.60" fill="#595959" text-anchor="middle" >800</text>
<text x="1293.7" y="1093.1" font-size="49.60" fill="#595959" text-anchor="middle" >600</text>
<text x="1445.4" y="1093.1" font-size="49.60" fill="#595959" text-anchor="middle" >400</text>
<text x="1597.1" y="1093.1" font-size="49.60" fill="#595959" text-anchor="middle" >200</text>
<text x="1748.8" y="1093.1" font-size="49.60" fill="#595959" text-anchor="middle" >0</text>
<text x="1900.5" y="1093.1" font-size="49.60" fill="#595959" text-anchor="middle" >-200</text>
<path d="M236.1,111.9 L379.3,111.9" fill="none" stroke="#000" stroke-width="7.60" stroke-linecap="round" stroke-linejoin="round" stroke-dasharray="0.01 13.85" />
<text x="391.0" y="126.6" font-size="44.44" fill="#000" text-anchor="start" letter-spacing="0.28">Mean - SLWR 1 (MATLAB)</text>
<path d="M235.4,158.9 L376.5,158.9" fill="none" stroke="#000" stroke-width="5.60" stroke-linecap="round" stroke-linejoin="round" stroke-dasharray="11 11.2" />
<text x="391.0" y="173.6" font-size="44.44" fill="#000" text-anchor="start" letter-spacing="0.28">Mean - SLWR 2 (MATLAB)</text>
<path d="M235.4,206.5 L376.5,206.5" fill="none" stroke="#000" stroke-width="5.60" stroke-linecap="round" stroke-linejoin="round" stroke-dasharray="39.5 21.6" />
<text x="391.0" y="221.2" font-size="44.44" fill="#000" text-anchor="start" letter-spacing="0.28">Mean - SLWR 3 (MATLAB)</text>
<path d="M235.4,254.1 L376.5,254.1" fill="none" stroke="#000" stroke-width="5.60" stroke-linecap="round" stroke-linejoin="round" />
<text x="391.0" y="268.8" font-size="44.44" fill="#000" text-anchor="start" letter-spacing="0.28">Mean - SLWR 4 (MATLAB)</text>
<text x="95.0" y="548.5" font-size="55.56" fill="#000" text-anchor="middle" transform="rotate(-90 95.0 548.5)" >Angle (deg)</text>
<text x="2110.0" y="549.5" font-size="55.56" fill="#000" text-anchor="middle" transform="rotate(-90 2110.0 549.5)" >Y (m)</text>
<text x="1065.2" y="1172.0" font-size="55.56" fill="#000" text-anchor="middle" >X (m)</text>
<text x="256.3" y="981.8" font-size="64.50" fill="#000" text-anchor="start" font-weight="bold" >(a)</text>
<text x="1352.0" y="128.0" font-size="50.00" fill="#000" text-anchor="start" >Angle</text>
<text x="1700.5" y="751.5" font-size="50.80" fill="#000" text-anchor="start" >SLWR</text>
<line x1="1338.4" y1="130.5" x2="1217.9" y2="221.1" stroke="#000" stroke-width="5.2"/>
<polygon points="1200.3,234.3 1237.6,227.3 1219.5,219.9 1217.4,200.4" fill="#000"/>
<line x1="1752.6" y1="703.0" x2="1629.9" y2="581.5" stroke="#000" stroke-width="5.2"/>
<polygon points="1614.3,566.0 1626.7,601.9 1631.4,582.9 1650.4,578.0" fill="#000"/>
<clipPath id="cb"><rect x="269.5" y="1370.1" width="1630.0" height="944.9"/></clipPath>
<line x1="417.7" y1="1372.6" x2="417.7" y2="2313.5" stroke="#d6d6d6" stroke-width="2.4" stroke-dasharray="6.3 3.36"/>
<line x1="565.9" y1="1372.6" x2="565.9" y2="2313.5" stroke="#d6d6d6" stroke-width="2.4" stroke-dasharray="6.3 3.36"/>
<line x1="714.0" y1="1372.6" x2="714.0" y2="2313.5" stroke="#d6d6d6" stroke-width="2.4" stroke-dasharray="6.3 3.36"/>
<line x1="862.2" y1="1372.6" x2="862.2" y2="2313.5" stroke="#d6d6d6" stroke-width="2.4" stroke-dasharray="6.3 3.36"/>
<line x1="1010.4" y1="1372.6" x2="1010.4" y2="2313.5" stroke="#d6d6d6" stroke-width="2.4" stroke-dasharray="6.3 3.36"/>
<line x1="1158.6" y1="1372.6" x2="1158.6" y2="2313.5" stroke="#d6d6d6" stroke-width="2.4" stroke-dasharray="6.3 3.36"/>
<line x1="1306.8" y1="1372.6" x2="1306.8" y2="2313.5" stroke="#d6d6d6" stroke-width="2.4" stroke-dasharray="6.3 3.36"/>
<line x1="1455.0" y1="1372.6" x2="1455.0" y2="2313.5" stroke="#d6d6d6" stroke-width="2.4" stroke-dasharray="6.3 3.36"/>
<line x1="1603.1" y1="1372.6" x2="1603.1" y2="2313.5" stroke="#d6d6d6" stroke-width="2.4" stroke-dasharray="6.3 3.36"/>
<line x1="1751.3" y1="1372.6" x2="1751.3" y2="2313.5" stroke="#d6d6d6" stroke-width="2.4" stroke-dasharray="6.3 3.36"/>
<line x1="269.5" y1="1560.0" x2="1899.5" y2="1560.0" stroke="#d6d6d6" stroke-width="2.0" stroke-dasharray="6.3 3.36"/>
<line x1="269.5" y1="1748.4" x2="1899.5" y2="1748.4" stroke="#d6d6d6" stroke-width="2.0" stroke-dasharray="6.3 3.36"/>
<line x1="269.5" y1="1936.7" x2="1899.5" y2="1936.7" stroke="#d6d6d6" stroke-width="2.0" stroke-dasharray="6.3 3.36"/>
<line x1="269.5" y1="2125.1" x2="1899.5" y2="2125.1" stroke="#d6d6d6" stroke-width="2.0" stroke-dasharray="6.3 3.36"/>
<path d="M414.0,2219.3 L417.7,2219.3 L420.6,2219.3 L423.6,2219.3 L426.6,2219.3 L429.5,2219.3 L432.5,2219.3 L435.5,2219.3 L438.4,2219.3 L441.4,2219.3 L444.4,2219.3 L447.3,2219.3 L450.3,2219.3 L453.2,2219.3 L456.2,2219.3 L459.2,2219.3 L462.1,2219.3 L465.1,2219.3 L468.1,2219.3 L471.0,2219.3 L474.0,2219.3 L477.0,2219.3 L479.9,2219.3 L482.9,2219.3 L485.8,2219.3 L488.8,2219.3 L491.8,2219.3 L494.7,2219.3 L497.7,2219.3 L500.7,2219.3 L503.6,2219.3 L506.6,2219.3 L509.6,2219.3 L512.5,2219.3 L515.5,2219.3 L518.4,2219.3 L521.4,2219.3 L524.4,2219.3 L527.3,2219.3 L530.3,2219.3 L533.3,2219.3 L536.2,2219.3 L539.2,2219.3 L542.2,2219.3 L545.1,2219.3 L548.1,2219.3 L551.0,2219.3 L554.0,2219.3 L557.0,2219.3 L559.9,2219.3 L562.9,2219.3 L565.9,2219.3 L568.8,2219.3 L571.8,2219.3 L574.8,2219.3 L577.7,2219.3 L580.7,2219.3 L583.6,2219.3 L586.6,2219.3 L589.6,2219.3 L592.5,2219.3 L595.5,2219.3 L598.5,2219.3 L601.4,2219.3 L604.4,2219.3 L607.4,2219.3 L610.3,2219.3 L613.3,2219.3 L616.2,2219.3 L619.2,2219.3 L622.2,2219.3 L625.1,2219.3 L628.1,2219.3 L631.1,2219.3 L634.0,2219.3 L637.0,2219.3 L640.0,2219.3 L642.9,2219.3 L645.9,2219.3 L648.8,2219.3 L651.8,2219.3 L654.8,2219.3 L657.7,2219.3 L660.7,2219.3 L663.7,2219.3 L666.6,2219.3 L669.6,2219.3 L672.6,2219.3 L675.5,2219.3 L678.5,2219.3 L681.4,2219.3 L684.4,2219.3 L687.4,2219.3 L690.3,2219.3 L693.3,2219.3 L696.3,2219.3 L699.2,2219.3 L702.2,2219.3 L705.2,2219.3 L708.1,2219.3 L711.1,2219.3 L714.0,2219.3 L717.0,2219.3 L720.0,2219.3 L722.9,2219.3 L725.9,2219.3 L728.9,2219.3 L731.8,2219.3 L734.8,2219.3 L737.8,2219.3 L740.7,2219.3 L743.7,2219.3 L746.6,2219.3 L749.6,2219.3 L752.6,2219.3 L755.5,2219.3 L758.5,2219.3 L761.5,2219.3 L764.4,2219.3 L767.4,2219.3 L770.4,2219.3 L773.3,2219.3 L776.3,2219.3 L779.2,2219.3 L782.2,2219.3 L785.2,2219.3 L788.1,2219.3 L791.1,2219.3 L794.1,2219.3 L797.0,2219.3 L800.0,2219.3 L803.0,2219.3 L805.9,2219.3 L808.9,2219.3 L811.8,2219.3 L814.8,2219.3 L817.8,2219.3 L820.7,2219.3 L823.7,2219.3 L826.7,2219.3 L829.6,2219.3 L832.6,2219.3 L835.6,2219.3 L838.5,2219.3 L841.5,2219.3 L844.4,2219.3 L847.4,2219.3 L850.4,2219.3 L853.3,2219.3 L856.3,2219.3 L859.3,2219.3 L862.2,2219.3 L865.2,2219.3 L868.2,2219.3 L871.1,2219.3 L874.1,2219.3 L877.0,2219.3 L880.0,2219.3 L883.0,2219.3 L885.9,2219.3 L888.9,2219.3 L891.9,2219.3 L894.8,2219.3 L897.8,2219.3 L900.8,2219.3 L903.7,2219.3 L906.7,2219.3 L909.6,2219.3 L912.6,2219.3 L915.6,2219.3 L918.5,2219.3 L918.9,2219.3 L921.5,2219.3 L924.5,2219.2 L927.4,2219.1 L930.4,2218.9 L933.4,2218.7 L936.3,2218.4 L939.3,2218.1 L942.2,2217.7 L945.2,2217.3 L948.2,2216.8 L951.1,2216.3 L954.1,2215.7 L957.1,2215.1 L960.0,2214.4 L963.0,2213.6 L966.0,2212.8 L968.9,2212.0 L971.9,2211.1 L974.8,2210.1 L977.8,2209.1 L980.8,2208.0 L983.7,2206.9 L986.7,2205.7 L989.7,2204.4 L992.6,2203.1 L995.6,2201.7 L998.6,2200.2 L1001.5,2198.7 L1004.5,2197.2 L1007.4,2195.5 L1010.4,2193.8 L1013.4,2192.0 L1016.3,2190.2 L1019.3,2188.2 L1022.3,2186.2 L1025.2,2184.2 L1028.2,2182.0 L1031.2,2179.8 L1034.1,2177.5 L1037.1,2175.1 L1040.0,2172.7 L1043.0,2170.1 L1046.0,2167.5 L1048.9,2164.7 L1051.9,2161.9 L1054.9,2159.0 L1057.8,2156.0 L1060.8,2152.9 L1063.8,2149.7 L1066.7,2146.4 L1069.7,2143.0 L1072.6,2139.5 L1075.6,2135.9 L1078.6,2132.2 L1081.5,2128.4 L1084.5,2124.4 L1087.5,2120.3 L1090.4,2116.1 L1093.4,2111.8 L1096.4,2107.4 L1099.3,2102.8 L1102.3,2098.1 L1105.2,2093.2 L1108.2,2088.3 L1111.2,2083.1 L1114.1,2077.8 L1117.1,2072.4 L1120.1,2066.8 L1123.0,2061.0 L1126.0,2055.1 L1129.0,2049.0 L1131.9,2042.8 L1134.9,2036.3 L1137.8,2029.7 L1140.8,2022.9 L1143.8,2015.9 L1146.7,2008.7 L1149.7,2001.3 L1152.7,1993.7 L1154.1,1989.8 L1154.7,1988.2 L1155.6,1985.9 L1158.6,1978.3 L1161.6,1971.0 L1164.5,1964.1 L1167.5,1957.4 L1170.4,1951.0 L1173.4,1944.9 L1176.4,1939.1 L1179.3,1933.5 L1182.3,1928.2 L1185.3,1923.1 L1188.2,1918.2 L1191.2,1913.6 L1194.2,1909.1 L1197.1,1904.9 L1200.1,1900.8 L1203.0,1896.9 L1206.0,1893.3 L1209.0,1889.7 L1211.9,1886.4 L1214.9,1883.2 L1217.9,1880.2 L1220.8,1877.3 L1223.8,1874.5 L1226.8,1871.9 L1229.7,1869.4 L1232.7,1867.1 L1235.6,1864.9 L1238.6,1862.8 L1241.6,1860.8 L1244.5,1858.9 L1247.5,1857.2 L1250.5,1855.5 L1253.4,1854.0 L1256.4,1852.5 L1259.4,1851.2 L1262.3,1849.9 L1265.3,1848.8 L1268.2,1847.7 L1271.2,1846.8 L1274.2,1845.9 L1277.1,1845.1 L1280.1,1844.4 L1283.1,1843.8 L1286.0,1843.2 L1289.0,1842.8 L1292.0,1842.4 L1294.9,1842.1 L1297.9,1841.9 L1300.8,1841.8 L1303.8,1841.7 L1306.8,1841.7 L1309.7,1841.8 L1312.7,1842.0 L1315.7,1842.3 L1318.6,1842.6 L1321.6,1843.1 L1324.6,1843.6 L1327.5,1844.2 L1330.5,1844.8 L1333.4,1845.6 L1336.4,1846.5 L1339.4,1847.4 L1342.3,1848.4 L1345.3,1849.5 L1348.3,1850.8 L1351.2,1852.1 L1354.2,1853.5 L1357.2,1855.0 L1360.1,1856.6 L1363.1,1858.3 L1366.0,1860.2 L1367.5,1861.1 L1369.0,1862.1 L1370.0,1862.7 L1372.0,1864.1 L1374.9,1866.1 L1377.9,1867.9 L1380.9,1869.7 L1383.8,1871.4 L1386.8,1873.1 L1389.8,1874.7 L1392.7,1876.2 L1395.7,1877.6 L1398.6,1879.0 L1401.6,1880.3 L1404.6,1881.6 L1407.5,1882.8 L1410.5,1883.9 L1413.5,1885.0 L1416.4,1886.0 L1419.4,1886.9 L1422.4,1887.8 L1425.3,1888.6 L1428.3,1889.4 L1431.2,1890.1 L1434.2,1890.7 L1437.2,1891.3 L1440.1,1891.9 L1443.1,1892.4 L1446.1,1892.8 L1449.0,1893.2 L1452.0,1893.5 L1455.0,1893.8 L1457.9,1894.0 L1460.9,1894.2 L1463.8,1894.3 L1466.8,1894.3 L1469.8,1894.3 L1472.7,1894.3 L1475.7,1894.2 L1478.7,1894.0 L1481.6,1893.8 L1484.6,1893.5 L1487.6,1893.2 L1490.5,1892.9 L1493.5,1892.4 L1496.4,1892.0 L1499.4,1891.4 L1502.4,1890.8 L1505.3,1890.2 L1508.3,1889.5 L1511.3,1888.7 L1514.2,1887.9 L1517.2,1887.0 L1520.2,1886.1 L1523.1,1885.1 L1526.1,1884.0 L1529.0,1882.9 L1532.0,1881.7 L1535.0,1880.5 L1537.9,1879.2 L1540.9,1877.8 L1543.9,1876.4 L1546.8,1874.9 L1549.8,1873.3 L1552.8,1871.7 L1555.7,1870.0 L1558.7,1868.2 L1561.6,1866.3 L1564.6,1864.4 L1567.6,1862.4 L1570.5,1860.3 L1573.5,1858.1 L1576.5,1855.8 L1579.4,1853.5 L1582.4,1851.1 L1585.4,1848.6 L1588.3,1846.0 L1591.3,1843.3 L1594.2,1840.5 L1597.2,1837.6 L1600.2,1834.6 L1603.1,1831.5 L1606.1,1828.4 L1609.1,1825.1 L1612.0,1821.7 L1615.0,1818.2 L1618.0,1814.5 L1620.9,1810.8 L1623.9,1806.9 L1626.8,1803.0 L1629.8,1798.8 L1632.8,1794.6 L1635.7,1790.2 L1638.7,1785.7 L1641.7,1781.1 L1644.6,1776.3 L1647.6,1771.4 L1650.6,1766.3 L1653.5,1761.0 L1656.5,1755.6 L1659.4,1750.1 L1662.4,1744.3 L1665.4,1738.4 L1668.3,1732.3 L1671.3,1726.1 L1674.3,1719.6 L1677.2,1713.0 L1680.2,1706.1 L1683.2,1699.1 L1686.1,1691.8 L1689.1,1684.4 L1692.0,1676.7 L1695.0,1668.8 L1698.0,1660.6 L1700.9,1652.2 L1703.9,1643.6 L1706.9,1634.7 L1709.8,1625.6 L1712.8,1616.2 L1715.8,1606.5 L1718.7,1596.5 L1721.7,1586.3 L1724.6,1575.7 L1727.6,1564.8 L1730.6,1553.7 L1733.5,1542.2 L1736.5,1530.3 L1739.5,1518.1 L1742.4,1505.6 L1745.4,1492.7 L1748.4,1479.4 L1751.3,1465.8" fill="none" stroke="#000" stroke-width="7.40" stroke-linecap="round" stroke-linejoin="round" stroke-dasharray="0.01 13.87" clip-path="url(#cb)"/>
<path d="M414.0,2219.3 L417.7,2219.3 L420.6,2219.3 L423.6,2219.3 L426.6,2219.3 L429.5,2219.3 L432.5,2219.3 L435.5,2219.3 L438.4,2219.3 L441.4,2219.3 L444.4,2219.3 L447.3,2219.3 L450.3,2219.3 L453.2,2219.3 L456.2,2219.3 L459.2,2219.3 L462.1,2219.3 L465.1,2219.3 L468.1,2219.3 L471.0,2219.3 L474.0,2219.3 L477.0,2219.3 L479.9,2219.3 L482.9,2219.3 L485.8,2219.3 L488.8,2219.3 L491.8,2219.3 L494.7,2219.3 L497.7,2219.3 L500.7,2219.3 L503.6,2219.3 L506.6,2219.3 L509.6,2219.3 L512.5,2219.3 L515.5,2219.3 L518.4,2219.3 L521.4,2219.3 L524.4,2219.3 L527.3,2219.3 L530.3,2219.3 L533.3,2219.3 L536.2,2219.3 L539.2,2219.3 L542.2,2219.3 L545.1,2219.3 L548.1,2219.3 L551.0,2219.3 L554.0,2219.3 L557.0,2219.3 L559.9,2219.3 L562.9,2219.3 L565.9,2219.3 L568.8,2219.3 L571.8,2219.3 L574.8,2219.3 L577.7,2219.3 L580.7,2219.3 L583.6,2219.3 L586.6,2219.3 L589.6,2219.3 L592.5,2219.3 L595.5,2219.3 L598.5,2219.3 L601.4,2219.3 L604.4,2219.3 L607.4,2219.3 L610.3,2219.3 L613.3,2219.3 L616.2,2219.3 L619.2,2219.3 L622.2,2219.3 L625.1,2219.3 L628.1,2219.3 L631.1,2219.3 L634.0,2219.3 L637.0,2219.3 L640.0,2219.3 L642.9,2219.3 L645.9,2219.3 L648.8,2219.3 L651.8,2219.3 L654.8,2219.3 L657.7,2219.3 L660.7,2219.3 L663.7,2219.3 L666.6,2219.3 L669.6,2219.3 L672.6,2219.3 L675.5,2219.3 L678.5,2219.3 L681.4,2219.3 L684.4,2219.3 L687.4,2219.3 L690.3,2219.3 L693.3,2219.3 L696.3,2219.3 L699.2,2219.3 L702.2,2219.3 L705.2,2219.3 L708.1,2219.3 L711.1,2219.3 L714.0,2219.3 L717.0,2219.3 L720.0,2219.3 L722.9,2219.3 L725.9,2219.3 L728.9,2219.3 L731.8,2219.3 L734.8,2219.3 L737.8,2219.3 L740.7,2219.3 L743.7,2219.3 L746.6,2219.3 L749.6,2219.3 L752.6,2219.3 L755.5,2219.3 L758.5,2219.3 L761.5,2219.3 L764.4,2219.3 L767.4,2219.3 L770.4,2219.3 L773.3,2219.3 L776.3,2219.3 L779.2,2219.3 L782.2,2219.3 L785.2,2219.3 L788.1,2219.3 L791.1,2219.3 L794.1,2219.3 L797.0,2219.3 L800.0,2219.3 L803.0,2219.3 L805.9,2219.3 L808.9,2219.3 L811.8,2219.3 L814.8,2219.3 L817.8,2219.3 L820.7,2219.3 L823.7,2219.3 L826.7,2219.3 L829.6,2219.3 L832.6,2219.3 L835.6,2219.3 L838.5,2219.3 L841.5,2219.3 L844.4,2219.3 L847.4,2219.3 L850.4,2219.3 L853.3,2219.3 L856.3,2219.3 L859.3,2219.3 L862.2,2219.3 L865.2,2219.3 L868.2,2219.3 L868.5,2219.3 L871.1,2219.3 L874.1,2219.2 L877.0,2219.1 L880.0,2218.9 L883.0,2218.7 L885.9,2218.5 L888.9,2218.1 L891.9,2217.8 L894.8,2217.4 L897.8,2216.9 L900.8,2216.4 L903.7,2215.8 L906.7,2215.2 L909.6,2214.5 L912.6,2213.8 L915.6,2213.0 L918.5,2212.1 L921.5,2211.2 L924.5,2210.3 L927.4,2209.3 L930.4,2208.2 L933.4,2207.1 L936.3,2206.0 L939.3,2204.7 L942.2,2203.4 L945.2,2202.1 L948.2,2200.7 L951.1,2199.2 L954.1,2197.6 L957.1,2196.0 L960.0,2194.4 L963.0,2192.6 L966.0,2190.8 L968.9,2189.0 L971.9,2187.0 L974.8,2185.0 L977.8,2182.9 L980.8,2180.7 L983.7,2178.5 L986.7,2176.2 L989.7,2173.8 L992.6,2171.3 L995.6,2168.7 L998.6,2166.1 L1001.5,2163.4 L1004.5,2160.5 L1007.4,2157.6 L1010.4,2154.6 L1013.4,2151.5 L1016.3,2148.3 L1019.3,2145.0 L1022.3,2141.7 L1025.2,2138.2 L1028.2,2134.6 L1031.2,2130.8 L1034.1,2127.0 L1037.1,2123.1 L1040.0,2119.0 L1043.0,2114.9 L1046.0,2110.6 L1048.9,2106.2 L1051.9,2101.6 L1054.9,2096.9 L1057.8,2092.1 L1060.8,2087.2 L1063.8,2082.1 L1066.7,2076.9 L1069.7,2071.5 L1072.6,2066.0 L1075.6,2060.3 L1078.6,2054.4 L1081.5,2048.4 L1084.5,2042.2 L1087.5,2035.9 L1090.4,2029.4 L1092.7,2024.3 L1093.4,2022.6 L1096.4,2015.7 L1099.3,2008.7 L1099.9,2007.2 L1102.3,2001.5 L1105.2,1994.7 L1108.2,1988.1 L1111.2,1981.8 L1114.1,1975.7 L1117.1,1969.9 L1120.1,1964.3 L1123.0,1959.0 L1126.0,1953.8 L1129.0,1948.9 L1131.9,1944.1 L1134.9,1939.6 L1137.8,1935.3 L1140.8,1931.1 L1143.8,1927.1 L1146.7,1923.3 L1149.7,1919.6 L1152.7,1916.1 L1155.6,1912.8 L1158.6,1909.6 L1161.6,1906.5 L1164.5,1903.6 L1167.5,1900.8 L1170.4,1898.1 L1173.4,1895.6 L1176.4,1893.2 L1179.3,1890.9 L1182.3,1888.7 L1185.3,1886.6 L1188.2,1884.7 L1191.2,1882.8 L1194.2,1881.1 L1197.1,1879.4 L1200.1,1877.8 L1203.0,1876.4 L1206.0,1875.0 L1209.0,1873.7 L1211.9,1872.5 L1214.9,1871.4 L1217.9,1870.4 L1220.8,1869.4 L1223.8,1868.6 L1226.8,1867.8 L1229.7,1867.1 L1232.7,1866.5 L1235.6,1865.9 L1238.6,1865.4 L1241.6,1865.0 L1244.5,1864.7 L1247.5,1864.5 L1250.5,1864.3 L1253.4,1864.2 L1256.4,1864.2 L1259.4,1864.2 L1262.3,1864.3 L1265.3,1864.5 L1268.2,1864.8 L1271.2,1865.1 L1274.2,1865.6 L1277.1,1866.0 L1280.1,1866.6 L1283.1,1867.3 L1286.0,1868.0 L1289.0,1868.8 L1292.0,1869.7 L1294.9,1870.6 L1297.9,1871.7 L1300.8,1872.8 L1303.8,1874.0 L1306.8,1875.4 L1309.7,1876.7 L1312.7,1878.2 L1315.7,1879.8 L1318.6,1881.5 L1321.6,1883.3 L1324.6,1885.2 L1327.5,1887.2 L1330.0,1889.0 L1330.5,1889.3 L1333.4,1891.4 L1336.4,1893.4 L1339.4,1895.3 L1342.3,1897.2 L1345.3,1899.0 L1348.3,1900.8 L1351.2,1902.5 L1354.2,1904.1 L1357.2,1905.6 L1360.1,1907.1 L1363.1,1908.6 L1366.0,1909.9 L1369.0,1911.2 L1372.0,1912.5 L1374.9,1913.7 L1377.9,1914.8 L1380.9,1915.9 L1383.8,1916.9 L1386.8,1917.9 L1389.8,1918.8 L1392.7,1919.7 L1395.7,1920.5 L1398.6,1921.3 L1401.6,1922.0 L1404.6,1922.6 L1407.5,1923.2 L1410.5,1923.8 L1413.5,1924.3 L1416.4,1924.7 L1419.4,1925.1 L1422.4,1925.5 L1425.3,1925.8 L1428.3,1926.1 L1431.2,1926.3 L1434.2,1926.4 L1437.2,1926.5 L1440.1,1926.6 L1443.1,1926.6 L1446.1,1926.6 L1449.0,1926.5 L1452.0,1926.4 L1455.0,1926.2 L1457.9,1926.0 L1460.9,1925.7 L1463.8,1925.4 L1466.8,1925.0 L1469.8,1924.6 L1472.7,1924.1 L1475.7,1923.6 L1478.7,1923.0 L1481.6,1922.4 L1484.6,1921.7 L1487.6,1921.0 L1490.5,1920.2 L1493.5,1919.4 L1496.4,1918.5 L1499.4,1917.6 L1502.4,1916.6 L1505.3,1915.5 L1508.3,1914.4 L1511.3,1913.2 L1514.2,1912.0 L1517.2,1910.8 L1520.2,1909.4 L1523.1,1908.0 L1526.1,1906.6 L1529.0,1905.1 L1532.0,1903.5 L1535.0,1901.8 L1537.9,1900.1 L1540.9,1898.4 L1543.9,1896.5 L1546.8,1894.6 L1549.8,1892.6 L1552.8,1890.6 L1555.7,1888.5 L1558.7,1886.3 L1561.6,1884.0 L1564.6,1881.7 L1567.6,1879.3 L1570.5,1876.8 L1573.5,1874.2 L1576.5,1871.5 L1579.4,1868.8 L1582.4,1865.9 L1585.4,1863.0 L1588.3,1860.0 L1591.3,1856.9 L1594.2,1853.7 L1597.2,1850.4 L1600.2,1847.0 L1603.1,1843.5 L1606.1,1839.9 L1609.1,1836.2 L1612.0,1832.4 L1615.0,1828.4 L1618.0,1824.4 L1620.9,1820.3 L1623.9,1816.0 L1626.8,1811.6 L1629.8,1807.1 L1632.8,1802.4 L1635.7,1797.7 L1638.7,1792.8 L1641.7,1787.7 L1644.6,1782.5 L1647.6,1777.2 L1650.6,1771.7 L1653.5,1766.1 L1656.5,1760.3 L1659.4,1754.4 L1662.4,1748.3 L1665.4,1742.0 L1668.3,1735.6 L1671.3,1729.0 L1674.3,1722.2 L1677.2,1715.3 L1680.2,1708.1 L1683.2,1700.8 L1686.1,1693.2 L1689.1,1685.5 L1692.0,1677.5 L1695.0,1669.4 L1698.0,1661.0 L1700.9,1652.4 L1703.9,1643.5 L1706.9,1634.5 L1709.8,1625.1 L1712.8,1615.6 L1715.8,1605.8 L1718.7,1595.7 L1721.7,1585.4 L1724.6,1574.8 L1727.6,1563.9 L1730.6,1552.7 L1733.5,1541.2 L1736.5,1529.5 L1739.5,1517.4 L1742.4,1505.0 L1745.4,1492.3 L1748.4,1479.2 L1751.3,1465.8" fill="none" stroke="#000" stroke-width="6.90" stroke-linecap="round" stroke-linejoin="round" stroke-dasharray="10.4 11.75" clip-path="url(#cb)"/>
<path d="M414.0,2219.3 L417.7,2219.3 L420.6,2219.3 L423.6,2219.3 L426.6,2219.3 L429.5,2219.3 L432.5,2219.3 L435.5,2219.3 L438.4,2219.3 L441.4,2219.3 L444.4,2219.3 L447.3,2219.3 L450.3,2219.3 L453.2,2219.3 L456.2,2219.3 L459.2,2219.3 L462.1,2219.3 L465.1,2219.3 L468.1,2219.3 L471.0,2219.3 L474.0,2219.3 L477.0,2219.3 L479.9,2219.3 L482.9,2219.3 L485.8,2219.3 L488.8,2219.3 L491.8,2219.3 L494.7,2219.3 L497.7,2219.3 L500.7,2219.3 L503.6,2219.3 L506.6,2219.3 L509.6,2219.3 L512.5,2219.3 L515.5,2219.3 L518.4,2219.3 L521.4,2219.3 L524.4,2219.3 L527.3,2219.3 L530.3,2219.3 L533.3,2219.3 L536.2,2219.3 L539.2,2219.3 L542.2,2219.3 L545.1,2219.3 L548.1,2219.3 L551.0,2219.3 L554.0,2219.3 L557.0,2219.3 L559.9,2219.3 L562.9,2219.3 L565.9,2219.3 L568.8,2219.3 L571.8,2219.3 L574.8,2219.3 L577.7,2219.3 L580.7,2219.3 L583.6,2219.3 L586.6,2219.3 L589.6,2219.3 L592.5,2219.3 L595.5,2219.3 L598.5,2219.3 L601.4,2219.3 L604.4,2219.3 L607.4,2219.3 L610.3,2219.3 L613.3,2219.3 L616.2,2219.3 L619.2,2219.3 L622.2,2219.3 L625.1,2219.3 L628.1,2219.3 L631.1,2219.3 L634.0,2219.3 L637.0,2219.3 L640.0,2219.3 L642.9,2219.3 L645.9,2219.3 L648.8,2219.3 L651.8,2219.3 L654.8,2219.3 L657.7,2219.3 L660.7,2219.3 L663.7,2219.3 L666.6,2219.3 L669.6,2219.3 L672.6,2219.3 L675.5,2219.3 L678.5,2219.3 L681.4,2219.3 L684.4,2219.3 L687.4,2219.3 L690.3,2219.3 L693.3,2219.3 L696.3,2219.3 L699.2,2219.3 L702.2,2219.3 L705.2,2219.3 L708.1,2219.3 L711.1,2219.3 L714.0,2219.3 L717.0,2219.3 L720.0,2219.3 L722.9,2219.3 L725.9,2219.3 L728.9,2219.3 L731.8,2219.3 L734.8,2219.3 L737.8,2219.3 L740.7,2219.3 L743.7,2219.3 L746.6,2219.3 L749.6,2219.3 L752.6,2219.3 L755.5,2219.3 L758.5,2219.3 L761.5,2219.3 L764.4,2219.3 L767.4,2219.3 L770.4,2219.3 L773.3,2219.3 L776.3,2219.3 L779.2,2219.3 L782.2,2219.3 L785.2,2219.3 L788.1,2219.3 L791.1,2219.3 L794.1,2219.3 L795.2,2219.3 L797.0,2219.3 L800.0,2219.3 L803.0,2219.2 L805.9,2219.0 L808.9,2218.9 L811.8,2218.7 L814.8,2218.4 L817.8,2218.1 L820.7,2217.8 L823.7,2217.4 L826.7,2217.0 L829.6,2216.6 L832.6,2216.1 L835.6,2215.5 L838.5,2214.9 L841.5,2214.3 L844.4,2213.6 L847.4,2212.9 L850.4,2212.2 L853.3,2211.4 L856.3,2210.5 L859.3,2209.6 L862.2,2208.7 L865.2,2207.7 L868.2,2206.7 L871.1,2205.6 L874.1,2204.5 L877.0,2203.3 L880.0,2202.1 L883.0,2200.8 L885.9,2199.5 L888.9,2198.2 L891.9,2196.8 L894.8,2195.3 L897.8,2193.8 L900.8,2192.2 L903.7,2190.6 L906.7,2188.9 L909.6,2187.2 L912.6,2185.4 L915.6,2183.5 L918.5,2181.6 L921.5,2179.7 L924.5,2177.6 L927.4,2175.6 L930.4,2173.4 L933.4,2171.2 L936.3,2168.9 L939.3,2166.6 L942.2,2164.2 L945.2,2161.8 L948.2,2159.2 L951.1,2156.6 L954.1,2154.0 L957.1,2151.2 L960.0,2148.4 L963.0,2145.5 L966.0,2142.5 L968.9,2139.5 L971.9,2136.4 L974.8,2133.2 L977.8,2129.9 L980.8,2126.6 L983.7,2123.1 L986.7,2119.6 L989.7,2116.0 L992.6,2112.2 L995.6,2108.5 L998.6,2104.6 L1001.5,2100.6 L1004.5,2096.5 L1007.4,2092.3 L1010.4,2088.0 L1013.4,2083.7 L1016.3,2079.2 L1019.3,2074.6 L1022.3,2069.9 L1025.2,2065.1 L1027.5,2061.4 L1028.2,2060.1 L1031.2,2055.1 L1034.1,2049.9 L1037.1,2044.7 L1040.0,2039.3 L1043.0,2033.7 L1046.0,2028.1 L1048.9,2022.3 L1051.9,2016.4 L1053.0,2014.1 L1054.9,2010.4 L1057.8,2004.6 L1060.8,1999.1 L1063.8,1993.7 L1066.7,1988.5 L1069.7,1983.5 L1072.6,1978.7 L1075.6,1974.1 L1078.6,1969.7 L1081.5,1965.4 L1084.5,1961.3 L1087.5,1957.3 L1090.4,1953.5 L1093.4,1949.8 L1096.4,1946.3 L1099.3,1942.9 L1102.3,1939.7 L1105.2,1936.6 L1108.2,1933.6 L1111.2,1930.7 L1114.1,1927.9 L1117.1,1925.3 L1120.1,1922.8 L1123.0,1920.4 L1126.0,1918.1 L1129.0,1915.9 L1131.9,1913.8 L1134.9,1911.8 L1137.8,1909.9 L1140.8,1908.0 L1143.8,1906.3 L1146.7,1904.7 L1149.7,1903.1 L1152.7,1901.7 L1155.6,1900.3 L1158.6,1899.0 L1161.6,1897.8 L1164.5,1896.6 L1167.5,1895.6 L1170.4,1894.6 L1173.4,1893.7 L1176.4,1892.8 L1179.3,1892.1 L1182.3,1891.4 L1185.3,1890.7 L1188.2,1890.2 L1191.2,1889.7 L1194.2,1889.3 L1197.1,1888.9 L1200.1,1888.6 L1203.0,1888.4 L1206.0,1888.3 L1209.0,1888.2 L1211.9,1888.2 L1214.9,1888.2 L1217.9,1888.3 L1220.8,1888.5 L1223.8,1888.8 L1226.8,1889.1 L1229.7,1889.5 L1232.7,1889.9 L1235.6,1890.4 L1238.6,1891.0 L1241.6,1891.7 L1244.5,1892.4 L1247.5,1893.2 L1250.5,1894.1 L1253.4,1895.0 L1256.4,1896.0 L1259.4,1897.1 L1262.3,1898.3 L1265.3,1899.6 L1268.2,1900.9 L1271.2,1902.3 L1274.2,1903.8 L1277.1,1905.4 L1280.1,1907.1 L1283.1,1908.8 L1286.0,1910.7 L1289.0,1912.6 L1292.0,1914.7 L1293.0,1915.4 L1294.9,1916.8 L1297.9,1918.8 L1300.8,1920.8 L1303.8,1922.8 L1306.8,1924.6 L1309.7,1926.4 L1312.7,1928.2 L1315.7,1929.8 L1318.6,1931.5 L1321.6,1933.0 L1324.6,1934.5 L1327.5,1936.0 L1330.5,1937.4 L1333.4,1938.7 L1336.4,1940.0 L1339.4,1941.3 L1342.3,1942.4 L1345.3,1943.6 L1348.3,1944.7 L1351.2,1945.7 L1354.2,1946.7 L1357.2,1947.6 L1360.1,1948.5 L1363.1,1949.3 L1366.0,1950.1 L1369.0,1950.8 L1372.0,1951.5 L1374.9,1952.2 L1377.9,1952.8 L1380.9,1953.3 L1383.8,1953.8 L1386.8,1954.3 L1389.8,1954.7 L1392.7,1955.1 L1395.7,1955.4 L1398.6,1955.7 L1401.6,1955.9 L1404.6,1956.1 L1407.5,1956.2 L1410.5,1956.4 L1413.5,1956.4 L1416.4,1956.4 L1419.4,1956.4 L1422.4,1956.3 L1425.3,1956.2 L1428.3,1956.0 L1431.2,1955.8 L1434.2,1955.6 L1437.2,1955.3 L1440.1,1955.0 L1443.1,1954.6 L1446.1,1954.1 L1449.0,1953.7 L1452.0,1953.1 L1455.0,1952.6 L1457.9,1952.0 L1460.9,1951.3 L1463.8,1950.6 L1466.8,1949.9 L1469.8,1949.1 L1472.7,1948.2 L1475.7,1947.3 L1478.7,1946.4 L1481.6,1945.4 L1484.6,1944.3 L1487.6,1943.2 L1490.5,1942.1 L1493.5,1940.9 L1496.4,1939.6 L1499.4,1938.3 L1502.4,1937.0 L1505.3,1935.5 L1508.3,1934.1 L1511.3,1932.5 L1514.2,1931.0 L1517.2,1929.3 L1520.2,1927.6 L1523.1,1925.9 L1526.1,1924.0 L1529.0,1922.2 L1532.0,1920.2 L1535.0,1918.2 L1537.9,1916.1 L1540.9,1914.0 L1543.9,1911.8 L1546.8,1909.5 L1549.8,1907.2 L1552.8,1904.7 L1555.7,1902.2 L1558.7,1899.7 L1561.6,1897.0 L1564.6,1894.3 L1567.6,1891.5 L1570.5,1888.7 L1573.5,1885.7 L1576.5,1882.7 L1579.4,1879.6 L1582.4,1876.3 L1585.4,1873.0 L1588.3,1869.7 L1591.3,1866.2 L1594.2,1862.6 L1597.2,1859.0 L1600.2,1855.2 L1603.1,1851.3 L1606.1,1847.4 L1609.1,1843.3 L1612.0,1839.1 L1615.0,1834.8 L1618.0,1830.4 L1620.9,1825.9 L1623.9,1821.3 L1626.8,1816.6 L1629.8,1811.7 L1632.8,1806.7 L1635.7,1801.6 L1638.7,1796.4 L1641.7,1791.0 L1644.6,1785.5 L1647.6,1779.9 L1650.6,1774.1 L1653.5,1768.2 L1656.5,1762.1 L1659.4,1755.9 L1662.4,1749.5 L1665.4,1743.0 L1668.3,1736.3 L1671.3,1729.4 L1674.3,1722.4 L1677.2,1715.2 L1680.2,1707.8 L1683.2,1700.2 L1686.1,1692.5 L1689.1,1684.6 L1692.0,1676.5 L1695.0,1668.1 L1698.0,1659.6 L1700.9,1650.9 L1703.9,1641.9 L1706.9,1632.8 L1709.8,1623.4 L1712.8,1613.8 L1715.8,1604.0 L1718.7,1593.9 L1721.7,1583.6 L1724.6,1573.0 L1727.6,1562.2 L1730.6,1551.1 L1733.5,1539.8 L1736.5,1528.2 L1739.5,1516.3 L1742.4,1504.1 L1745.4,1491.6 L1748.4,1478.9 L1751.3,1465.8" fill="none" stroke="#000" stroke-width="6.90" stroke-linecap="round" stroke-linejoin="round" stroke-dasharray="34.3 26.1" clip-path="url(#cb)"/>
<path d="M414.0,2219.3 L417.7,2219.3 L420.6,2219.3 L423.6,2219.3 L426.6,2219.3 L429.5,2219.3 L432.5,2219.3 L435.5,2219.3 L438.4,2219.3 L441.4,2219.3 L444.4,2219.3 L447.3,2219.3 L450.3,2219.3 L453.2,2219.3 L456.2,2219.3 L459.2,2219.3 L462.1,2219.3 L465.1,2219.3 L468.1,2219.3 L471.0,2219.3 L474.0,2219.3 L477.0,2219.3 L479.9,2219.3 L482.9,2219.3 L485.8,2219.3 L488.8,2219.3 L491.8,2219.3 L494.7,2219.3 L497.7,2219.3 L500.7,2219.3 L503.6,2219.3 L506.6,2219.3 L509.6,2219.3 L512.5,2219.3 L515.5,2219.3 L518.4,2219.3 L521.4,2219.3 L524.4,2219.3 L527.3,2219.3 L530.3,2219.3 L533.3,2219.3 L536.2,2219.3 L539.2,2219.3 L542.2,2219.3 L545.1,2219.3 L548.1,2219.3 L551.0,2219.3 L554.0,2219.3 L557.0,2219.3 L559.9,2219.3 L562.9,2219.3 L565.9,2219.3 L568.8,2219.3 L571.8,2219.3 L574.8,2219.3 L577.7,2219.3 L580.7,2219.3 L583.6,2219.3 L586.6,2219.3 L589.6,2219.3 L592.5,2219.3 L595.5,2219.3 L598.5,2219.3 L601.4,2219.3 L604.4,2219.3 L607.4,2219.3 L610.3,2219.3 L613.3,2219.3 L616.2,2219.3 L619.2,2219.3 L622.2,2219.3 L625.1,2219.3 L628.1,2219.3 L631.1,2219.3 L634.0,2219.3 L637.0,2219.3 L640.0,2219.3 L642.9,2219.3 L645.9,2219.3 L648.8,2219.3 L651.8,2219.3 L654.8,2219.3 L657.7,2219.3 L660.7,2219.3 L663.7,2219.3 L666.6,2219.3 L669.6,2219.3 L672.6,2219.3 L675.5,2219.3 L678.5,2219.3 L681.4,2219.3 L684.4,2219.3 L687.4,2219.3 L690.3,2219.3 L693.3,2219.3 L696.3,2219.3 L699.2,2219.3 L702.2,2219.3 L705.2,2219.3 L708.1,2219.3 L711.1,2219.3 L714.0,2219.3 L717.0,2219.3 L720.0,2219.3 L722.9,2219.3 L725.9,2219.3 L728.9,2219.3 L731.8,2219.3 L734.8,2219.3 L737.8,2219.3 L740.7,2219.3 L743.7,2219.3 L746.6,2219.3 L749.1,2219.3 L749.6,2219.3 L752.6,2219.3 L755.5,2219.2 L758.5,2219.1 L761.5,2218.9 L764.4,2218.8 L767.4,2218.5 L770.4,2218.2 L773.3,2217.9 L776.3,2217.5 L779.2,2217.1 L782.2,2216.7 L785.2,2216.2 L788.1,2215.7 L791.1,2215.1 L794.1,2214.5 L797.0,2213.8 L800.0,2213.1 L803.0,2212.3 L805.9,2211.5 L808.9,2210.7 L811.8,2209.8 L814.8,2208.8 L817.8,2207.9 L820.7,2206.8 L823.7,2205.7 L826.7,2204.6 L829.6,2203.4 L832.6,2202.2 L835.6,2200.9 L838.5,2199.6 L841.5,2198.2 L844.4,2196.8 L847.4,2195.3 L850.4,2193.8 L853.3,2192.2 L856.3,2190.5 L859.3,2188.8 L862.2,2187.1 L865.2,2185.2 L868.2,2183.4 L871.1,2181.4 L874.1,2179.4 L877.0,2177.4 L880.0,2175.2 L883.0,2173.1 L885.9,2170.8 L888.9,2168.5 L891.9,2166.1 L894.8,2163.7 L897.8,2161.2 L900.8,2158.6 L903.7,2155.9 L906.7,2153.2 L909.6,2150.4 L912.6,2147.5 L915.6,2144.5 L918.5,2141.5 L921.5,2138.4 L924.5,2135.2 L927.4,2131.9 L930.4,2128.5 L933.4,2125.1 L936.3,2121.5 L939.3,2117.9 L942.2,2114.2 L945.2,2110.4 L948.2,2106.5 L951.1,2102.5 L954.1,2098.4 L955.2,2096.8 L957.1,2094.2 L960.0,2089.8 L963.0,2085.4 L966.0,2080.9 L968.9,2076.3 L971.9,2071.5 L974.8,2066.7 L977.8,2061.7 L980.8,2056.6 L983.7,2051.4 L986.7,2046.1 L988.5,2042.8 L989.7,2040.6 L992.6,2035.3 L995.6,2030.1 L998.6,2025.1 L1001.5,2020.3 L1004.5,2015.6 L1007.4,2011.1 L1010.4,2006.7 L1013.4,2002.5 L1016.3,1998.4 L1019.3,1994.4 L1022.3,1990.6 L1025.2,1986.9 L1028.2,1983.3 L1031.2,1979.9 L1034.1,1976.5 L1037.1,1973.3 L1040.0,1970.2 L1043.0,1967.2 L1046.0,1964.3 L1048.9,1961.5 L1051.9,1958.8 L1054.9,1956.2 L1057.8,1953.7 L1060.8,1951.3 L1063.8,1949.0 L1066.7,1946.7 L1069.7,1944.6 L1072.6,1942.5 L1075.6,1940.6 L1078.6,1938.7 L1081.5,1936.9 L1084.5,1935.1 L1087.5,1933.5 L1090.4,1931.9 L1093.4,1930.4 L1096.4,1929.0 L1099.3,1927.6 L1102.3,1926.3 L1105.2,1925.1 L1108.2,1924.0 L1111.2,1922.9 L1114.1,1921.8 L1117.1,1920.9 L1120.1,1920.0 L1123.0,1919.2 L1126.0,1918.4 L1129.0,1917.7 L1131.9,1917.0 L1134.9,1916.4 L1137.8,1915.9 L1140.8,1915.4 L1143.8,1915.0 L1146.7,1914.7 L1149.7,1914.4 L1152.7,1914.1 L1155.6,1914.0 L1158.6,1913.8 L1161.6,1913.8 L1164.5,1913.8 L1167.5,1913.8 L1170.4,1913.9 L1173.4,1914.1 L1176.4,1914.3 L1179.3,1914.6 L1182.3,1914.9 L1185.3,1915.3 L1188.2,1915.8 L1191.2,1916.3 L1194.2,1916.9 L1197.1,1917.5 L1200.1,1918.2 L1203.0,1918.9 L1206.0,1919.8 L1209.0,1920.6 L1211.9,1921.6 L1214.9,1922.6 L1217.9,1923.6 L1220.8,1924.8 L1223.8,1926.0 L1226.8,1927.3 L1229.7,1928.6 L1232.7,1930.0 L1235.6,1931.5 L1238.6,1933.1 L1241.6,1934.7 L1244.5,1936.4 L1247.5,1938.2 L1249.7,1939.6 L1250.5,1940.0 L1253.4,1942.0 L1256.4,1944.0 L1256.9,1944.4 L1259.4,1946.1 L1262.3,1948.1 L1265.3,1950.0 L1268.2,1951.9 L1271.2,1953.8 L1274.2,1955.5 L1277.1,1957.3 L1280.1,1958.9 L1283.1,1960.6 L1286.0,1962.1 L1289.0,1963.6 L1292.0,1965.1 L1294.9,1966.5 L1297.9,1967.9 L1300.8,1969.2 L1303.8,1970.4 L1306.8,1971.6 L1309.7,1972.8 L1312.7,1973.9 L1315.7,1975.0 L1318.6,1976.0 L1321.6,1977.0 L1324.6,1977.9 L1327.5,1978.8 L1330.5,1979.6 L1333.4,1980.4 L1336.4,1981.2 L1339.4,1981.9 L1342.3,1982.6 L1345.3,1983.2 L1348.3,1983.8 L1351.2,1984.3 L1354.2,1984.8 L1357.2,1985.3 L1360.1,1985.7 L1363.1,1986.1 L1366.0,1986.4 L1369.0,1986.7 L1372.0,1986.9 L1374.9,1987.1 L1377.9,1987.3 L1380.9,1987.4 L1383.8,1987.5 L1386.8,1987.6 L1389.8,1987.6 L1392.7,1987.6 L1395.7,1987.5 L1398.6,1987.4 L1401.6,1987.2 L1404.6,1987.0 L1407.5,1986.8 L1410.5,1986.5 L1413.5,1986.2 L1416.4,1985.8 L1419.4,1985.4 L1422.4,1985.0 L1425.3,1984.5 L1428.3,1984.0 L1431.2,1983.4 L1434.2,1982.8 L1437.2,1982.2 L1440.1,1981.5 L1443.1,1980.7 L1446.1,1979.9 L1449.0,1979.1 L1452.0,1978.2 L1455.0,1977.3 L1457.9,1976.4 L1460.9,1975.4 L1463.8,1974.3 L1466.8,1973.2 L1469.8,1972.1 L1472.7,1970.9 L1475.7,1969.6 L1478.7,1968.3 L1481.6,1967.0 L1484.6,1965.6 L1487.6,1964.2 L1490.5,1962.7 L1493.5,1961.1 L1496.4,1959.5 L1499.4,1957.9 L1502.4,1956.2 L1505.3,1954.4 L1508.3,1952.6 L1511.3,1950.7 L1514.2,1948.8 L1517.2,1946.8 L1520.2,1944.8 L1523.1,1942.7 L1526.1,1940.5 L1529.0,1938.3 L1532.0,1936.0 L1535.0,1933.6 L1537.9,1931.2 L1540.9,1928.7 L1543.9,1926.2 L1546.8,1923.5 L1549.8,1920.9 L1552.8,1918.1 L1555.7,1915.2 L1558.7,1912.3 L1561.6,1909.3 L1564.6,1906.3 L1567.6,1903.1 L1570.5,1899.9 L1573.5,1896.6 L1576.5,1893.2 L1579.4,1889.8 L1582.4,1886.2 L1585.4,1882.6 L1588.3,1878.8 L1591.3,1875.0 L1594.2,1871.1 L1597.2,1867.1 L1600.2,1863.0 L1603.1,1858.8 L1606.1,1854.5 L1609.1,1850.1 L1612.0,1845.6 L1615.0,1841.0 L1618.0,1836.3 L1620.9,1831.4 L1623.9,1826.5 L1626.8,1821.4 L1629.8,1816.2 L1632.8,1811.0 L1635.7,1805.5 L1638.7,1800.0 L1641.7,1794.3 L1644.6,1788.5 L1647.6,1782.6 L1650.6,1776.5 L1653.5,1770.3 L1656.5,1764.0 L1659.4,1757.5 L1662.4,1750.9 L1665.4,1744.1 L1668.3,1737.2 L1671.3,1730.1 L1674.3,1722.8 L1677.2,1715.4 L1680.2,1707.8 L1683.2,1700.1 L1686.1,1692.2 L1689.1,1684.1 L1692.0,1675.8 L1695.0,1667.3 L1698.0,1658.7 L1700.9,1649.8 L1703.9,1640.8 L1706.9,1631.5 L1709.8,1622.1 L1712.8,1612.5 L1715.8,1602.6 L1718.7,1592.5 L1721.7,1582.2 L1724.6,1571.7 L1727.6,1560.9 L1730.6,1549.9 L1733.5,1538.6 L1736.5,1527.2 L1739.5,1515.4 L1742.4,1503.4 L1745.4,1491.1 L1748.4,1478.6 L1751.3,1465.8" fill="none" stroke="#000" stroke-width="7.10" stroke-linecap="round" stroke-linejoin="round" clip-path="url(#cb)"/>
<path d="M1154.1,1989.8 L1154.7,1988.2 L1155.6,1985.9 L1158.6,1978.3 L1161.6,1971.0 L1164.5,1964.1 L1167.5,1957.4 L1170.4,1951.0 L1173.4,1944.9 L1176.4,1939.1 L1179.3,1933.5 L1182.3,1928.2 L1185.3,1923.1 L1188.2,1918.2 L1191.2,1913.6 L1194.2,1909.1 L1197.1,1904.9 L1200.1,1900.8 L1203.0,1896.9 L1206.0,1893.3 L1209.0,1889.7 L1211.9,1886.4 L1214.9,1883.2 L1217.9,1880.2 L1220.8,1877.3 L1223.8,1874.5 L1226.8,1871.9 L1229.7,1869.4 L1232.7,1867.1 L1235.6,1864.9 L1238.6,1862.8 L1241.6,1860.8 L1244.5,1858.9 L1247.5,1857.2 L1250.5,1855.5 L1253.4,1854.0 L1256.4,1852.5 L1259.4,1851.2 L1262.3,1849.9 L1265.3,1848.8 L1268.2,1847.7 L1271.2,1846.8 L1274.2,1845.9 L1277.1,1845.1 L1280.1,1844.4 L1283.1,1843.8 L1286.0,1843.2 L1289.0,1842.8 L1292.0,1842.4 L1294.9,1842.1 L1297.9,1841.9 L1300.8,1841.8 L1303.8,1841.7 L1306.8,1841.7 L1309.7,1841.8 L1312.7,1842.0 L1315.7,1842.3 L1318.6,1842.6 L1321.6,1843.1 L1324.6,1843.6 L1327.5,1844.2 L1330.5,1844.8 L1333.4,1845.6 L1336.4,1846.5 L1339.4,1847.4 L1342.3,1848.4 L1345.3,1849.5 L1348.3,1850.8 L1351.2,1852.1 L1354.2,1853.5 L1357.2,1855.0 L1360.1,1856.6 L1363.1,1858.3 L1366.0,1860.2 L1367.5,1861.1" fill="none" stroke="#0000ff" stroke-width="17.60" stroke-linecap="round" stroke-linejoin="round" clip-path="url(#cb)"/>
<path d="M1092.7,2024.3 L1093.4,2022.6 L1096.4,2015.7 L1099.3,2008.7 L1099.9,2007.2 L1102.3,2001.5 L1105.2,1994.7 L1108.2,1988.1 L1111.2,1981.8 L1114.1,1975.7 L1117.1,1969.9 L1120.1,1964.3 L1123.0,1959.0 L1126.0,1953.8 L1129.0,1948.9 L1131.9,1944.1 L1134.9,1939.6 L1137.8,1935.3 L1140.8,1931.1 L1143.8,1927.1 L1146.7,1923.3 L1149.7,1919.6 L1152.7,1916.1 L1155.6,1912.8 L1158.6,1909.6 L1161.6,1906.5 L1164.5,1903.6 L1167.5,1900.8 L1170.4,1898.1 L1173.4,1895.6 L1176.4,1893.2 L1179.3,1890.9 L1182.3,1888.7 L1185.3,1886.6 L1188.2,1884.7 L1191.2,1882.8 L1194.2,1881.1 L1197.1,1879.4 L1200.1,1877.8 L1203.0,1876.4 L1206.0,1875.0 L1209.0,1873.7 L1211.9,1872.5 L1214.9,1871.4 L1217.9,1870.4 L1220.8,1869.4 L1223.8,1868.6 L1226.8,1867.8 L1229.7,1867.1 L1232.7,1866.5 L1235.6,1865.9 L1238.6,1865.4 L1241.6,1865.0 L1244.5,1864.7 L1247.5,1864.5 L1250.5,1864.3 L1253.4,1864.2 L1256.4,1864.2 L1259.4,1864.2 L1262.3,1864.3 L1265.3,1864.5 L1268.2,1864.8 L1271.2,1865.1 L1274.2,1865.6 L1277.1,1866.0 L1280.1,1866.6 L1283.1,1867.3 L1286.0,1868.0 L1289.0,1868.8 L1292.0,1869.7 L1294.9,1870.6 L1297.9,1871.7 L1300.8,1872.8 L1303.8,1874.0 L1306.8,1875.4 L1309.7,1876.7 L1312.7,1878.2 L1315.7,1879.8 L1318.6,1881.5 L1321.6,1883.3 L1324.6,1885.2 L1327.5,1887.2 L1330.0,1889.0 L1330.5,1889.3" fill="none" stroke="#0000ff" stroke-width="17.60" stroke-linecap="round" stroke-linejoin="round" clip-path="url(#cb)"/>
<path d="M1027.5,2061.4 L1028.2,2060.1 L1031.2,2055.1 L1034.1,2049.9 L1037.1,2044.7 L1040.0,2039.3 L1043.0,2033.7 L1046.0,2028.1 L1048.9,2022.3 L1051.9,2016.4 L1053.0,2014.1 L1054.9,2010.4 L1057.8,2004.6 L1060.8,1999.1 L1063.8,1993.7 L1066.7,1988.5 L1069.7,1983.5 L1072.6,1978.7 L1075.6,1974.1 L1078.6,1969.7 L1081.5,1965.4 L1084.5,1961.3 L1087.5,1957.3 L1090.4,1953.5 L1093.4,1949.8 L1096.4,1946.3 L1099.3,1942.9 L1102.3,1939.7 L1105.2,1936.6 L1108.2,1933.6 L1111.2,1930.7 L1114.1,1927.9 L1117.1,1925.3 L1120.1,1922.8 L1123.0,1920.4 L1126.0,1918.1 L1129.0,1915.9 L1131.9,1913.8 L1134.9,1911.8 L1137.8,1909.9 L1140.8,1908.0 L1143.8,1906.3 L1146.7,1904.7 L1149.7,1903.1 L1152.7,1901.7 L1155.6,1900.3 L1158.6,1899.0 L1161.6,1897.8 L1164.5,1896.6 L1167.5,1895.6 L1170.4,1894.6 L1173.4,1893.7 L1176.4,1892.8 L1179.3,1892.1 L1182.3,1891.4 L1185.3,1890.7 L1188.2,1890.2 L1191.2,1889.7 L1194.2,1889.3 L1197.1,1888.9 L1200.1,1888.6 L1203.0,1888.4 L1206.0,1888.3 L1209.0,1888.2 L1211.9,1888.2 L1214.9,1888.2 L1217.9,1888.3 L1220.8,1888.5 L1223.8,1888.8 L1226.8,1889.1 L1229.7,1889.5 L1232.7,1889.9 L1235.6,1890.4 L1238.6,1891.0 L1241.6,1891.7 L1244.5,1892.4 L1247.5,1893.2 L1250.5,1894.1 L1253.4,1895.0 L1256.4,1896.0 L1259.4,1897.1 L1262.3,1898.3 L1265.3,1899.6 L1268.2,1900.9 L1271.2,1902.3 L1274.2,1903.8 L1277.1,1905.4 L1280.1,1907.1 L1283.1,1908.8 L1286.0,1910.7 L1289.0,1912.6 L1292.0,1914.7" fill="none" stroke="#0000ff" stroke-width="17.60" stroke-linecap="round" stroke-linejoin="round" clip-path="url(#cb)"/>
<path d="M955.2,2096.8 L957.1,2094.2 L960.0,2089.8 L963.0,2085.4 L966.0,2080.9 L968.9,2076.3 L971.9,2071.5 L974.8,2066.7 L977.8,2061.7 L980.8,2056.6 L983.7,2051.4 L986.7,2046.1 L988.5,2042.8 L989.7,2040.6 L992.6,2035.3 L995.6,2030.1 L998.6,2025.1 L1001.5,2020.3 L1004.5,2015.6 L1007.4,2011.1 L1010.4,2006.7 L1013.4,2002.5 L1016.3,1998.4 L1019.3,1994.4 L1022.3,1990.6 L1025.2,1986.9 L1028.2,1983.3 L1031.2,1979.9 L1034.1,1976.5 L1037.1,1973.3 L1040.0,1970.2 L1043.0,1967.2 L1046.0,1964.3 L1048.9,1961.5 L1051.9,1958.8 L1054.9,1956.2 L1057.8,1953.7 L1060.8,1951.3 L1063.8,1949.0 L1066.7,1946.7 L1069.7,1944.6 L1072.6,1942.5 L1075.6,1940.6 L1078.6,1938.7 L1081.5,1936.9 L1084.5,1935.1 L1087.5,1933.5 L1090.4,1931.9 L1093.4,1930.4 L1096.4,1929.0 L1099.3,1927.6 L1102.3,1926.3 L1105.2,1925.1 L1108.2,1924.0 L1111.2,1922.9 L1114.1,1921.8 L1117.1,1920.9 L1120.1,1920.0 L1123.0,1919.2 L1126.0,1918.4 L1129.0,1917.7 L1131.9,1917.0 L1134.9,1916.4 L1137.8,1915.9 L1140.8,1915.4 L1143.8,1915.0 L1146.7,1914.7 L1149.7,1914.4 L1152.7,1914.1 L1155.6,1914.0 L1158.6,1913.8 L1161.6,1913.8 L1164.5,1913.8 L1167.5,1913.8 L1170.4,1913.9 L1173.4,1914.1 L1176.4,1914.3 L1179.3,1914.6 L1182.3,1914.9 L1185.3,1915.3 L1188.2,1915.8 L1191.2,1916.3 L1194.2,1916.9 L1197.1,1917.5 L1200.1,1918.2 L1203.0,1918.9 L1206.0,1919.8 L1209.0,1920.6 L1211.9,1921.6 L1214.9,1922.6 L1217.9,1923.6 L1220.8,1924.8 L1223.8,1926.0 L1226.8,1927.3 L1229.7,1928.6 L1232.7,1930.0 L1235.6,1931.5 L1238.6,1933.1 L1241.6,1934.7 L1244.5,1936.4 L1247.5,1938.2 L1249.7,1939.6" fill="none" stroke="#0000ff" stroke-width="17.60" stroke-linecap="round" stroke-linejoin="round" clip-path="url(#cb)"/>
<path d="M414.0,1748.4 L417.7,1748.4 L420.6,1748.4 L423.6,1748.4 L426.6,1748.4 L429.5,1748.4 L432.5,1748.4 L435.5,1748.4 L438.4,1748.4 L441.4,1748.4 L444.4,1748.4 L447.3,1748.4 L450.3,1748.4 L453.2,1748.4 L456.2,1748.4 L459.2,1748.4 L462.1,1748.4 L465.1,1748.4 L468.1,1748.4 L471.0,1748.4 L474.0,1748.4 L477.0,1748.4 L479.9,1748.4 L482.9,1748.4 L485.8,1748.4 L488.8,1748.4 L491.8,1748.4 L494.7,1748.4 L497.7,1748.4 L500.7,1748.4 L503.6,1748.4 L506.6,1748.4 L509.6,1748.4 L512.5,1748.4 L515.5,1748.4 L518.4,1748.4 L521.4,1748.4 L524.4,1748.4 L527.3,1748.4 L530.3,1748.4 L533.3,1748.4 L536.2,1748.4 L539.2,1748.4 L542.2,1748.4 L545.1,1748.4 L548.1,1748.4 L551.0,1748.4 L554.0,1748.4 L557.0,1748.4 L559.9,1748.4 L562.9,1748.4 L565.9,1748.4 L568.8,1748.4 L571.8,1748.4 L574.8,1748.4 L577.7,1748.4 L580.7,1748.4 L583.6,1748.4 L586.6,1748.4 L589.6,1748.4 L592.5,1748.4 L595.5,1748.4 L598.5,1748.4 L601.4,1748.4 L604.4,1748.4 L607.4,1748.4 L610.3,1748.4 L613.3,1748.4 L616.2,1748.4 L619.2,1748.4 L622.2,1748.4 L625.1,1748.4 L628.1,1748.4 L631.1,1748.4 L634.0,1748.4 L637.0,1748.4 L640.0,1748.4 L642.9,1748.4 L645.9,1748.4 L648.8,1748.4 L651.8,1748.4 L654.8,1748.4 L657.7,1748.4 L660.7,1748.4 L663.7,1748.4 L666.6,1748.4 L669.6,1748.4 L672.6,1748.4 L675.5,1748.4 L678.5,1748.4 L681.4,1748.4 L684.4,1748.4 L687.4,1748.4 L690.3,1748.4 L693.3,1748.4 L696.3,1748.4 L699.2,1748.4 L702.2,1748.4 L705.2,1748.4 L708.1,1748.4 L711.1,1748.4 L714.0,1748.4 L717.0,1748.4 L720.0,1748.4 L722.9,1748.4 L725.9,1748.4 L728.9,1748.4 L731.8,1748.4 L734.8,1748.4 L737.8,1748.4 L740.7,1748.4 L743.7,1748.4 L746.6,1748.4 L749.6,1748.4 L752.6,1748.4 L755.5,1748.4 L758.5,1748.4 L761.5,1748.4 L764.4,1748.4 L767.4,1748.4 L770.4,1748.4 L773.3,1748.4 L776.3,1748.4 L779.2,1748.4 L782.2,1748.4 L785.2,1748.4 L788.1,1748.4 L791.1,1748.4 L794.1,1748.4 L797.0,1748.4 L800.0,1748.4 L803.0,1748.4 L805.9,1748.4 L808.9,1748.4 L811.8,1748.4 L814.8,1748.4 L817.8,1748.4 L820.7,1748.4 L823.7,1748.4 L826.7,1748.4 L829.6,1748.3 L832.6,1748.3 L835.6,1748.3 L838.5,1748.3 L841.5,1748.3 L844.4,1748.3 L847.4,1748.3 L850.4,1748.3 L853.3,1748.2 L856.3,1748.2 L859.3,1748.1 L862.2,1748.0 L865.2,1747.9 L868.2,1747.8 L871.1,1747.6 L873.3,1747.4 L874.1,1747.3 L874.5,1747.2 L875.6,1747.1 L876.7,1747.0 L877.0,1746.9 L877.8,1746.8 L878.9,1746.6 L880.0,1746.4 L881.1,1746.1 L882.2,1745.9 L883.0,1745.7 L883.3,1745.6 L884.5,1745.2 L885.6,1744.8 L885.9,1744.7 L886.7,1744.4 L887.8,1743.9 L888.9,1743.4 L890.0,1742.8 L891.1,1742.1 L891.9,1741.6 L892.2,1741.3 L893.3,1740.5 L894.5,1739.5 L894.8,1739.1 L895.6,1738.4 L896.7,1737.2 L897.8,1735.8 L898.9,1734.3 L900.0,1732.6 L900.8,1731.3 L901.1,1730.6 L902.2,1728.5 L903.3,1726.0 L903.7,1725.2 L904.5,1723.3 L905.6,1720.2 L906.7,1716.8 L907.8,1712.9 L908.9,1708.6 L909.6,1705.4 L910.0,1703.7 L911.1,1698.3 L912.2,1692.2 L912.6,1690.0 L913.4,1685.3 L914.5,1677.6 L915.6,1668.9 L916.7,1659.2 L917.8,1648.3 L918.5,1640.3 L918.9,1636.1 L920.0,1622.3 L921.1,1606.9 L921.5,1601.4 L922.2,1589.6 L923.4,1570.2 L924.5,1548.5 L925.6,1525.1 L926.7,1506.0 L927.4,1500.8 L927.8,1499.9 L928.9,1499.5 L930.0,1499.9 L930.4,1500.1 L931.1,1500.5 L932.2,1501.2 L933.4,1501.9 L934.5,1502.6 L935.6,1503.4 L936.3,1504.0 L936.7,1504.3 L937.8,1505.1 L938.9,1506.1 L939.3,1506.4 L940.0,1507.0 L941.1,1508.0 L942.2,1509.1 L943.4,1510.2 L944.5,1511.3 L945.2,1512.1 L945.6,1512.5 L946.7,1513.7 L947.8,1514.9 L948.2,1515.4 L948.9,1516.2 L951.1,1518.9 L954.1,1522.7 L957.1,1526.7 L960.0,1530.9 L963.0,1535.3 L966.0,1539.8 L968.9,1544.5 L971.9,1549.3 L974.8,1554.2 L977.8,1559.3 L980.8,1564.3 L983.7,1569.5 L986.7,1574.6 L989.7,1579.8 L992.6,1585.0 L995.6,1590.2 L998.6,1595.3 L1001.5,1600.4 L1004.5,1605.5 L1007.4,1610.5 L1010.4,1615.4 L1013.4,1620.2 L1016.3,1625.0 L1019.3,1629.6 L1022.3,1634.2 L1025.2,1638.7 L1028.2,1643.0 L1031.2,1647.3 L1034.1,1651.4 L1037.1,1655.4 L1040.0,1659.3 L1043.0,1663.1 L1046.0,1666.7 L1048.9,1670.2 L1051.9,1673.6 L1054.9,1676.9 L1057.8,1680.1 L1060.8,1683.2 L1063.8,1686.1 L1066.7,1688.9 L1069.7,1691.7 L1072.6,1694.3 L1075.6,1696.8 L1078.6,1699.2 L1081.5,1701.5 L1084.5,1703.7 L1087.5,1705.8 L1090.4,1707.9 L1093.4,1709.8 L1096.4,1711.7 L1099.3,1713.4 L1102.3,1715.1 L1105.2,1716.8 L1108.2,1718.3 L1111.2,1719.8 L1114.1,1721.2 L1117.1,1722.5 L1120.1,1723.8 L1123.0,1725.0 L1126.0,1726.2 L1129.0,1727.3 L1131.9,1728.3 L1134.9,1729.3 L1137.8,1730.3 L1140.8,1731.2 L1143.8,1732.1 L1146.7,1732.9 L1149.7,1733.7 L1152.7,1734.4 L1154.1,1734.8 L1154.1,1770.4 L1155.6,1771.3 L1158.6,1773.3 L1161.6,1775.5 L1164.5,1777.9 L1167.5,1780.4 L1170.4,1783.2 L1173.4,1786.2 L1176.4,1789.5 L1179.3,1793.0 L1182.3,1796.7 L1185.3,1800.8 L1188.2,1805.2 L1191.2,1810.0 L1194.2,1815.1 L1197.1,1820.5 L1200.1,1826.4 L1203.0,1832.7 L1206.0,1839.4 L1209.0,1846.6 L1211.9,1854.3 L1214.9,1862.4 L1217.9,1871.0 L1220.8,1880.2 L1223.8,1889.8 L1226.8,1899.9 L1229.7,1910.6 L1232.7,1921.7 L1235.6,1933.3 L1238.6,1945.4 L1241.6,1957.9 L1244.5,1970.7 L1247.5,1983.8 L1250.5,1997.2 L1253.4,2010.7 L1256.4,2024.3 L1259.4,2037.8 L1262.3,2051.2 L1265.3,2064.4 L1268.2,2077.1 L1271.2,2089.4 L1274.2,2101.0 L1277.1,2111.8 L1280.1,2121.7 L1283.1,2130.5 L1286.0,2138.2 L1289.0,2144.6 L1292.0,2149.7 L1294.9,2153.3 L1297.9,2155.5 L1300.8,2156.1 L1303.8,2155.2 L1306.8,2152.8 L1309.7,2148.9 L1312.7,2143.6 L1315.7,2136.9 L1318.6,2129.0 L1321.6,2120.0 L1324.6,2109.9 L1327.5,2099.0 L1330.5,2087.3 L1333.4,2074.9 L1336.4,2062.1 L1339.4,2048.9 L1342.3,2035.4 L1345.3,2021.9 L1348.3,2008.3 L1351.2,1994.8 L1354.2,1981.5 L1357.2,1968.4 L1360.1,1955.6 L1363.1,1943.2 L1366.0,1931.3 L1369.0,1919.7 L1369.0,1919.7 L1369.0,1638.0 L1372.0,1633.3 L1374.9,1628.4 L1377.9,1623.4 L1380.9,1618.3 L1383.8,1613.1 L1386.8,1607.8 L1389.8,1602.4 L1392.7,1597.0 L1395.7,1591.5 L1398.6,1585.9 L1401.6,1580.3 L1404.6,1574.6 L1407.5,1569.0 L1410.5,1563.4 L1413.5,1557.8 L1416.4,1552.3 L1419.4,1546.8 L1422.4,1541.4 L1425.3,1536.2 L1428.3,1531.1 L1431.2,1526.1 L1434.2,1521.4 L1437.2,1516.8 L1440.1,1512.5 L1443.1,1508.5 L1446.1,1504.7 L1449.0,1501.2 L1452.0,1498.0 L1455.0,1495.2 L1457.9,1492.7 L1460.9,1490.6 L1463.8,1488.8 L1466.8,1487.5 L1469.8,1486.5 L1472.7,1486.0 L1475.7,1485.8 L1478.7,1486.1 L1481.6,1486.7 L1484.6,1487.8 L1487.6,1489.3 L1490.5,1491.1 L1493.5,1493.4 L1496.4,1495.9 L1499.4,1498.9 L1502.4,1502.2 L1505.3,1505.7 L1508.3,1509.6 L1511.3,1513.7 L1514.2,1518.1 L1517.2,1522.7 L1520.2,1527.5 L1523.1,1532.5 L1526.1,1537.7 L1529.0,1543.0 L1532.0,1548.4 L1535.0,1553.9 L1537.9,1559.4 L1540.9,1565.0 L1543.9,1570.6 L1546.8,1576.3 L1549.8,1581.9 L1552.8,1587.5 L1555.7,1593.0 L1558.7,1598.5 L1561.6,1604.0 L1564.6,1609.3 L1567.6,1614.6 L1570.5,1619.8 L1573.5,1624.8 L1576.5,1629.8 L1579.4,1634.6 L1582.4,1639.3 L1585.4,1643.9 L1588.3,1648.4 L1591.3,1652.7 L1594.2,1656.9 L1597.2,1660.9 L1600.2,1664.8 L1603.1,1668.6 L1606.1,1672.3 L1609.1,1675.8 L1612.0,1679.2 L1615.0,1682.4 L1618.0,1685.5 L1620.9,1688.5 L1623.9,1691.4 L1626.8,1694.1 L1629.8,1696.8 L1632.8,1699.3 L1635.7,1701.7 L1638.7,1704.0 L1641.7,1706.2 L1644.6,1708.3 L1647.6,1710.3 L1650.6,1712.2 L1653.5,1714.1 L1656.5,1715.8 L1659.4,1717.5 L1662.4,1719.0 L1665.4,1720.5 L1668.3,1722.0 L1671.3,1723.3 L1674.3,1724.6 L1677.2,1725.9 L1680.2,1727.0 L1683.2,1728.1 L1686.1,1729.2 L1689.1,1730.2 L1692.0,1731.2 L1695.0,1732.1 L1698.0,1732.9 L1700.9,1733.7 L1703.9,1734.5 L1706.9,1735.2 L1709.8,1735.9 L1712.8,1736.6 L1715.8,1737.2 L1718.7,1737.8 L1721.7,1738.4 L1724.6,1738.9 L1727.6,1739.4 L1730.6,1739.9 L1733.5,1740.3 L1736.5,1740.8 L1739.5,1741.2 L1742.4,1741.6 L1745.4,1741.9 L1748.4,1742.3 L1751.3,1742.6" fill="none" stroke="#0000ff" stroke-width="7.40" stroke-linecap="round" stroke-linejoin="round" stroke-dasharray="0.01 13.87" clip-path="url(#cb)"/>
<path d="M414.0,1748.4 L417.7,1748.4 L420.6,1748.4 L423.6,1748.4 L426.6,1748.4 L429.5,1748.4 L432.5,1748.4 L435.5,1748.4 L438.4,1748.4 L441.4,1748.4 L444.4,1748.4 L447.3,1748.4 L450.3,1748.4 L453.2,1748.4 L456.2,1748.4 L459.2,1748.4 L462.1,1748.4 L465.1,1748.4 L468.1,1748.4 L471.0,1748.4 L474.0,1748.4 L477.0,1748.4 L479.9,1748.4 L482.9,1748.4 L485.8,1748.4 L488.8,1748.4 L491.8,1748.4 L494.7,1748.4 L497.7,1748.4 L500.7,1748.4 L503.6,1748.4 L506.6,1748.4 L509.6,1748.4 L512.5,1748.4 L515.5,1748.4 L518.4,1748.4 L521.4,1748.4 L524.4,1748.4 L527.3,1748.4 L530.3,1748.4 L533.3,1748.4 L536.2,1748.4 L539.2,1748.4 L542.2,1748.4 L545.1,1748.4 L548.1,1748.4 L551.0,1748.4 L554.0,1748.4 L557.0,1748.4 L559.9,1748.4 L562.9,1748.4 L565.9,1748.4 L568.8,1748.4 L571.8,1748.4 L574.8,1748.4 L577.7,1748.4 L580.7,1748.4 L583.6,1748.4 L586.6,1748.4 L589.6,1748.4 L592.5,1748.4 L595.5,1748.4 L598.5,1748.4 L601.4,1748.4 L604.4,1748.4 L607.4,1748.4 L610.3,1748.4 L613.3,1748.4 L616.2,1748.4 L619.2,1748.4 L622.2,1748.4 L625.1,1748.4 L628.1,1748.4 L631.1,1748.4 L634.0,1748.4 L637.0,1748.4 L640.0,1748.4 L642.9,1748.4 L645.9,1748.4 L648.8,1748.4 L651.8,1748.4 L654.8,1748.4 L657.7,1748.4 L660.7,1748.4 L663.7,1748.4 L666.6,1748.4 L669.6,1748.4 L672.6,1748.4 L675.5,1748.4 L678.5,1748.4 L681.4,1748.4 L684.4,1748.4 L687.4,1748.4 L690.3,1748.4 L693.3,1748.4 L696.3,1748.4 L699.2,1748.4 L702.2,1748.4 L705.2,1748.4 L708.1,1748.4 L711.1,1748.4 L714.0,1748.4 L717.0,1748.4 L720.0,1748.4 L722.9,1748.4 L725.9,1748.4 L728.9,1748.4 L731.8,1748.4 L734.8,1748.4 L737.8,1748.4 L740.7,1748.4 L743.7,1748.4 L746.6,1748.4 L749.6,1748.4 L752.6,1748.4 L755.5,1748.4 L758.5,1748.4 L761.5,1748.4 L764.4,1748.4 L767.4,1748.4 L770.4,1748.4 L773.3,1748.3 L776.3,1748.3 L779.2,1748.3 L782.2,1748.3 L785.2,1748.3 L788.1,1748.3 L791.1,1748.3 L794.1,1748.2 L797.0,1748.2 L800.0,1748.1 L803.0,1748.1 L805.9,1748.0 L808.9,1747.8 L811.8,1747.6 L814.1,1747.5 L814.8,1747.4 L815.2,1747.3 L816.3,1747.2 L817.4,1747.1 L817.8,1747.0 L818.5,1746.9 L819.6,1746.7 L820.7,1746.5 L821.8,1746.3 L823.0,1746.1 L823.7,1745.9 L824.1,1745.8 L825.2,1745.5 L826.3,1745.1 L826.7,1745.0 L827.4,1744.7 L828.5,1744.3 L829.6,1743.8 L830.7,1743.2 L831.9,1742.6 L832.6,1742.2 L833.0,1741.9 L834.1,1741.1 L835.2,1740.2 L835.6,1739.9 L836.3,1739.2 L837.4,1738.1 L838.5,1736.9 L839.6,1735.5 L840.7,1733.9 L841.5,1732.7 L841.9,1732.1 L843.0,1730.1 L844.1,1727.9 L844.4,1727.1 L845.2,1725.4 L846.3,1722.6 L847.4,1719.4 L848.5,1715.9 L849.6,1711.9 L850.4,1709.0 L850.7,1707.5 L851.9,1702.5 L853.0,1696.9 L853.3,1694.9 L854.1,1690.6 L855.2,1683.5 L856.3,1675.6 L857.4,1666.7 L858.5,1656.7 L859.3,1649.4 L859.6,1645.5 L860.7,1632.9 L861.9,1618.8 L862.2,1613.7 L863.0,1602.9 L864.1,1585.2 L865.2,1565.3 L866.3,1543.9 L867.4,1526.2 L868.2,1521.3 L868.5,1520.4 L869.6,1519.9 L870.7,1520.3 L871.1,1520.4 L871.9,1520.7 L873.0,1521.2 L874.1,1521.8 L875.2,1522.4 L876.3,1523.0 L877.0,1523.4 L877.4,1523.6 L878.5,1524.3 L879.6,1525.0 L880.0,1525.3 L880.8,1525.8 L881.9,1526.5 L883.0,1527.4 L884.1,1528.2 L885.2,1529.1 L885.9,1529.7 L886.3,1530.0 L887.4,1531.0 L888.5,1531.9 L888.9,1532.3 L889.6,1532.9 L891.9,1535.0 L894.8,1538.0 L897.8,1541.1 L900.8,1544.5 L903.7,1547.9 L906.7,1551.6 L909.6,1555.3 L912.6,1559.2 L915.6,1563.2 L918.5,1567.3 L921.5,1571.4 L924.5,1575.6 L927.4,1579.9 L930.4,1584.2 L933.4,1588.5 L936.3,1592.9 L939.3,1597.2 L942.2,1601.6 L945.2,1605.9 L948.2,1610.2 L951.1,1614.5 L954.1,1618.7 L957.1,1622.9 L960.0,1627.0 L963.0,1631.1 L966.0,1635.1 L968.9,1639.0 L971.9,1642.8 L974.8,1646.6 L977.8,1650.3 L980.8,1653.9 L983.7,1657.4 L986.7,1660.8 L989.7,1664.2 L992.6,1667.4 L995.6,1670.5 L998.6,1673.6 L1001.5,1676.6 L1004.5,1679.4 L1007.4,1682.2 L1010.4,1684.9 L1013.4,1687.5 L1016.3,1690.0 L1019.3,1692.5 L1022.3,1694.8 L1025.2,1697.1 L1028.2,1699.2 L1031.2,1701.3 L1034.1,1703.3 L1037.1,1705.3 L1040.0,1707.2 L1043.0,1708.9 L1046.0,1710.7 L1048.9,1712.3 L1051.9,1713.9 L1054.9,1715.4 L1057.8,1716.9 L1060.8,1718.3 L1063.8,1719.6 L1066.7,1720.9 L1069.7,1722.2 L1072.6,1723.4 L1075.6,1724.5 L1078.6,1725.6 L1081.5,1726.6 L1084.5,1727.6 L1087.5,1728.5 L1090.4,1729.5 L1093.4,1730.3 L1096.4,1731.2 L1099.3,1731.9 L1100.8,1732.3 L1100.8,1773.9 L1102.3,1774.9 L1105.2,1777.0 L1108.2,1779.2 L1111.2,1781.6 L1114.1,1784.2 L1117.1,1786.9 L1120.1,1789.9 L1123.0,1793.0 L1126.0,1796.4 L1129.0,1800.0 L1131.9,1803.9 L1134.9,1808.0 L1137.8,1812.4 L1140.8,1817.1 L1143.8,1822.1 L1146.7,1827.5 L1149.7,1833.1 L1152.7,1839.1 L1155.6,1845.4 L1158.6,1852.1 L1161.6,1859.1 L1164.5,1866.6 L1167.5,1874.4 L1170.4,1882.5 L1173.4,1891.1 L1176.4,1900.0 L1179.3,1909.2 L1182.3,1918.8 L1185.3,1928.7 L1188.2,1938.9 L1191.2,1949.4 L1194.2,1960.1 L1197.1,1970.9 L1200.1,1981.9 L1203.0,1993.0 L1206.0,2004.0 L1209.0,2015.0 L1211.9,2025.8 L1214.9,2036.5 L1217.9,2046.8 L1220.8,2056.7 L1223.8,2066.1 L1226.8,2075.0 L1229.7,2083.2 L1232.7,2090.7 L1235.6,2097.3 L1238.6,2103.0 L1241.6,2107.8 L1244.5,2111.5 L1247.5,2114.2 L1250.5,2115.8 L1253.4,2116.3 L1256.4,2115.6 L1259.4,2113.9 L1262.3,2111.0 L1265.3,2107.1 L1268.2,2102.2 L1271.2,2096.3 L1274.2,2089.5 L1277.1,2081.9 L1280.1,2073.6 L1283.1,2064.7 L1286.0,2055.1 L1289.0,2045.1 L1292.0,2034.8 L1294.9,2024.1 L1297.9,2013.2 L1300.8,2002.2 L1303.8,1991.2 L1306.8,1980.1 L1309.7,1969.2 L1312.7,1958.3 L1315.7,1947.7 L1318.6,1937.3 L1321.6,1927.1 L1324.6,1917.2 L1327.5,1907.7 L1330.1,1899.6 L1330.1,1649.2 L1330.5,1648.7 L1333.4,1644.7 L1336.4,1640.7 L1339.4,1636.5 L1342.3,1632.3 L1345.3,1628.0 L1348.3,1623.6 L1351.2,1619.1 L1354.2,1614.6 L1357.2,1610.0 L1360.1,1605.3 L1363.1,1600.6 L1366.0,1595.9 L1369.0,1591.1 L1372.0,1586.4 L1374.9,1581.6 L1377.9,1576.9 L1380.9,1572.2 L1383.8,1567.5 L1386.8,1562.9 L1389.8,1558.4 L1392.7,1554.0 L1395.7,1549.6 L1398.6,1545.4 L1401.6,1541.4 L1404.6,1537.5 L1407.5,1533.7 L1410.5,1530.2 L1413.5,1526.8 L1416.4,1523.7 L1419.4,1520.8 L1422.4,1518.2 L1425.3,1515.8 L1428.3,1513.7 L1431.2,1511.8 L1434.2,1510.3 L1437.2,1509.0 L1440.1,1508.1 L1443.1,1507.5 L1446.1,1507.2 L1449.0,1507.2 L1452.0,1507.5 L1455.0,1508.2 L1457.9,1509.1 L1460.9,1510.4 L1463.8,1511.9 L1466.8,1513.8 L1469.8,1515.9 L1472.7,1518.3 L1475.7,1521.0 L1478.7,1523.9 L1481.6,1527.0 L1484.6,1530.4 L1487.6,1534.0 L1490.5,1537.7 L1493.5,1541.6 L1496.4,1545.7 L1499.4,1549.9 L1502.4,1554.3 L1505.3,1558.7 L1508.3,1563.2 L1511.3,1567.8 L1514.2,1572.5 L1517.2,1577.2 L1520.2,1581.9 L1523.1,1586.7 L1526.1,1591.5 L1529.0,1596.2 L1532.0,1600.9 L1535.0,1605.6 L1537.9,1610.3 L1540.9,1614.9 L1543.9,1619.4 L1546.8,1623.9 L1549.8,1628.3 L1552.8,1632.6 L1555.7,1636.8 L1558.7,1641.0 L1561.6,1645.0 L1564.6,1649.0 L1567.6,1652.8 L1570.5,1656.6 L1573.5,1660.2 L1576.5,1663.8 L1579.4,1667.2 L1582.4,1670.5 L1585.4,1673.8 L1588.3,1676.9 L1591.3,1679.9 L1594.2,1682.8 L1597.2,1685.6 L1600.2,1688.3 L1603.1,1691.0 L1606.1,1693.5 L1609.1,1695.9 L1612.0,1698.2 L1615.0,1700.5 L1618.0,1702.6 L1620.9,1704.7 L1623.9,1706.7 L1626.8,1708.6 L1629.8,1710.4 L1632.8,1712.1 L1635.7,1713.8 L1638.7,1715.4 L1641.7,1717.0 L1644.6,1718.4 L1647.6,1719.8 L1650.6,1721.2 L1653.5,1722.4 L1656.5,1723.7 L1659.4,1724.8 L1662.4,1726.0 L1665.4,1727.0 L1668.3,1728.0 L1671.3,1729.0 L1674.3,1729.9 L1677.2,1730.8 L1680.2,1731.7 L1683.2,1732.5 L1686.1,1733.3 L1689.1,1734.0 L1692.0,1734.7 L1695.0,1735.3 L1698.0,1736.0 L1700.9,1736.6 L1703.9,1737.2 L1706.9,1737.7 L1709.8,1738.2 L1712.8,1738.7 L1715.8,1739.2 L1718.7,1739.6 L1721.7,1740.1 L1724.6,1740.5 L1727.6,1740.9 L1730.6,1741.2 L1733.5,1741.6 L1736.5,1741.9 L1739.5,1742.2 L1742.4,1742.5 L1745.4,1742.8 L1748.4,1743.1 L1751.3,1743.4" fill="none" stroke="#ff0000" stroke-width="6.90" stroke-linecap="round" stroke-linejoin="round" stroke-dasharray="10.4 11.75" clip-path="url(#cb)"/>
<path d="M414.0,1748.4 L417.7,1748.4 L420.6,1748.4 L423.6,1748.4 L426.6,1748.4 L429.5,1748.4 L432.5,1748.4 L435.5,1748.4 L438.4,1748.4 L441.4,1748.4 L444.4,1748.4 L447.3,1748.4 L450.3,1748.4 L453.2,1748.4 L456.2,1748.4 L459.2,1748.4 L462.1,1748.4 L465.1,1748.4 L468.1,1748.4 L471.0,1748.4 L474.0,1748.4 L477.0,1748.4 L479.9,1748.4 L482.9,1748.4 L485.8,1748.4 L488.8,1748.4 L491.8,1748.4 L494.7,1748.4 L497.7,1748.4 L500.7,1748.4 L503.6,1748.4 L506.6,1748.4 L509.6,1748.4 L512.5,1748.4 L515.5,1748.4 L518.4,1748.4 L521.4,1748.4 L524.4,1748.4 L527.3,1748.4 L530.3,1748.4 L533.3,1748.4 L536.2,1748.4 L539.2,1748.4 L542.2,1748.4 L545.1,1748.4 L548.1,1748.4 L551.0,1748.4 L554.0,1748.4 L557.0,1748.4 L559.9,1748.4 L562.9,1748.4 L565.9,1748.4 L568.8,1748.4 L571.8,1748.4 L574.8,1748.4 L577.7,1748.4 L580.7,1748.4 L583.6,1748.4 L586.6,1748.4 L589.6,1748.4 L592.5,1748.4 L595.5,1748.4 L598.5,1748.4 L601.4,1748.4 L604.4,1748.4 L607.4,1748.4 L610.3,1748.4 L613.3,1748.4 L616.2,1748.4 L619.2,1748.4 L622.2,1748.4 L625.1,1748.4 L628.1,1748.4 L631.1,1748.4 L634.0,1748.4 L637.0,1748.4 L640.0,1748.4 L642.9,1748.4 L645.9,1748.4 L648.8,1748.4 L651.8,1748.4 L654.8,1748.4 L657.7,1748.4 L660.7,1748.4 L663.7,1748.4 L666.6,1748.4 L669.6,1748.4 L672.6,1748.4 L675.5,1748.4 L678.5,1748.4 L681.4,1748.4 L684.4,1748.4 L687.4,1748.4 L690.3,1748.4 L693.3,1748.4 L696.3,1748.4 L699.2,1748.4 L702.2,1748.4 L705.2,1748.4 L708.1,1748.4 L711.1,1748.4 L714.0,1748.3 L717.0,1748.3 L720.0,1748.3 L722.9,1748.3 L725.9,1748.3 L728.9,1748.3 L731.8,1748.3 L734.8,1748.3 L737.8,1748.2 L740.7,1748.2 L743.7,1748.1 L746.6,1748.0 L749.6,1747.9 L752.6,1747.7 L754.8,1747.5 L755.5,1747.5 L755.9,1747.4 L757.0,1747.3 L758.1,1747.2 L758.5,1747.2 L759.2,1747.1 L760.4,1746.9 L761.5,1746.7 L762.6,1746.5 L763.7,1746.3 L764.4,1746.1 L764.8,1746.0 L765.9,1745.8 L767.0,1745.4 L767.4,1745.3 L768.1,1745.1 L769.2,1744.7 L770.4,1744.2 L771.5,1743.7 L772.6,1743.2 L773.3,1742.7 L773.7,1742.5 L774.8,1741.8 L775.9,1741.0 L776.3,1740.7 L777.0,1740.1 L778.1,1739.1 L779.2,1738.0 L780.4,1736.7 L781.5,1735.3 L782.2,1734.2 L782.6,1733.7 L783.7,1731.9 L784.8,1729.9 L785.2,1729.1 L785.9,1727.6 L787.0,1725.1 L788.1,1722.2 L789.2,1719.0 L790.4,1715.4 L791.1,1712.8 L791.5,1711.4 L792.6,1706.9 L793.7,1701.8 L794.1,1700.0 L794.8,1696.1 L795.9,1689.7 L797.0,1682.6 L798.1,1674.5 L799.2,1665.5 L800.0,1658.9 L800.4,1655.3 L801.5,1644.0 L802.6,1631.2 L803.0,1626.6 L803.7,1616.9 L804.8,1600.8 L805.9,1582.8 L807.0,1563.4 L808.1,1547.4 L808.9,1542.8 L809.3,1542.0 L810.4,1541.5 L811.5,1541.7 L811.8,1541.8 L812.6,1542.0 L813.7,1542.4 L814.8,1542.8 L815.9,1543.2 L817.0,1543.7 L817.8,1544.0 L818.1,1544.2 L819.3,1544.7 L820.4,1545.2 L820.7,1545.4 L821.5,1545.8 L822.6,1546.4 L823.7,1547.0 L824.8,1547.6 L825.9,1548.3 L826.7,1548.7 L827.0,1548.9 L828.1,1549.7 L829.3,1550.4 L829.6,1550.6 L830.4,1551.1 L832.6,1552.7 L835.6,1555.0 L838.5,1557.3 L841.5,1559.9 L844.4,1562.5 L847.4,1565.3 L850.4,1568.2 L853.3,1571.2 L856.3,1574.3 L859.3,1577.5 L862.2,1580.7 L865.2,1584.0 L868.2,1587.4 L871.1,1590.9 L874.1,1594.3 L877.0,1597.8 L880.0,1601.4 L883.0,1604.9 L885.9,1608.5 L888.9,1612.0 L891.9,1615.6 L894.8,1619.1 L897.8,1622.6 L900.8,1626.1 L903.7,1629.6 L906.7,1633.0 L909.6,1636.4 L912.6,1639.8 L915.6,1643.1 L918.5,1646.3 L921.5,1649.5 L924.5,1652.7 L927.4,1655.8 L930.4,1658.8 L933.4,1661.8 L936.3,1664.7 L939.3,1667.5 L942.2,1670.3 L945.2,1673.0 L948.2,1675.6 L951.1,1678.2 L954.1,1680.7 L957.1,1683.1 L960.0,1685.5 L963.0,1687.8 L966.0,1690.0 L968.9,1692.2 L971.9,1694.3 L974.8,1696.3 L977.8,1698.3 L980.8,1700.2 L983.7,1702.0 L986.7,1703.8 L989.7,1705.5 L992.6,1707.2 L995.6,1708.8 L998.6,1710.3 L1001.5,1711.8 L1004.5,1713.3 L1007.4,1714.7 L1010.4,1716.0 L1013.4,1717.3 L1016.3,1718.5 L1019.3,1719.7 L1022.3,1720.9 L1025.2,1722.0 L1028.2,1723.1 L1031.2,1724.1 L1034.1,1725.1 L1037.1,1726.0 L1040.0,1727.0 L1043.0,1727.8 L1046.0,1728.7 L1048.9,1729.5 L1049.7,1729.7 L1049.7,1778.3 L1051.9,1779.9 L1054.9,1782.1 L1057.8,1784.4 L1060.8,1786.9 L1063.8,1789.6 L1066.7,1792.4 L1069.7,1795.4 L1072.6,1798.6 L1075.6,1802.0 L1078.6,1805.6 L1081.5,1809.4 L1084.5,1813.5 L1087.5,1817.8 L1090.4,1822.3 L1093.4,1827.0 L1096.4,1832.1 L1099.3,1837.4 L1102.3,1842.9 L1105.2,1848.7 L1108.2,1854.9 L1111.2,1861.3 L1114.1,1867.9 L1117.1,1874.9 L1120.1,1882.1 L1123.0,1889.6 L1126.0,1897.4 L1129.0,1905.4 L1131.9,1913.7 L1134.9,1922.1 L1137.8,1930.8 L1140.8,1939.6 L1143.8,1948.6 L1146.7,1957.7 L1149.7,1966.8 L1152.7,1976.0 L1155.6,1985.1 L1158.6,1994.2 L1161.6,2003.1 L1164.5,2011.9 L1167.5,2020.4 L1170.4,2028.6 L1173.4,2036.5 L1176.4,2043.9 L1179.3,2050.9 L1182.3,2057.3 L1185.3,2063.1 L1188.2,2068.3 L1191.2,2072.7 L1194.2,2076.4 L1197.1,2079.4 L1200.1,2081.5 L1203.0,2082.8 L1206.0,2083.3 L1209.0,2082.9 L1211.9,2081.6 L1214.9,2079.6 L1217.9,2076.7 L1220.8,2073.1 L1223.8,2068.7 L1226.8,2063.6 L1229.7,2057.8 L1232.7,2051.5 L1235.6,2044.6 L1238.6,2037.2 L1241.6,2029.3 L1244.5,2021.1 L1247.5,2012.6 L1250.5,2003.9 L1253.4,1995.0 L1256.4,1985.9 L1259.4,1976.8 L1262.3,1967.6 L1265.3,1958.5 L1268.2,1949.4 L1271.2,1940.4 L1274.2,1931.6 L1277.1,1922.9 L1280.1,1914.4 L1283.1,1906.1 L1286.0,1898.1 L1289.0,1890.3 L1290.5,1886.5 L1290.5,1657.4 L1292.0,1655.7 L1294.9,1652.4 L1297.9,1649.0 L1300.8,1645.5 L1303.8,1641.9 L1306.8,1638.3 L1309.7,1634.6 L1312.7,1630.9 L1315.7,1627.1 L1318.6,1623.3 L1321.6,1619.4 L1324.6,1615.5 L1327.5,1611.6 L1330.5,1607.6 L1333.4,1603.6 L1336.4,1599.7 L1339.4,1595.7 L1342.3,1591.7 L1345.3,1587.8 L1348.3,1583.9 L1351.2,1580.0 L1354.2,1576.2 L1357.2,1572.5 L1360.1,1568.8 L1363.1,1565.2 L1366.0,1561.7 L1369.0,1558.4 L1372.0,1555.1 L1374.9,1552.0 L1377.9,1549.0 L1380.9,1546.2 L1383.8,1543.6 L1386.8,1541.1 L1389.8,1538.8 L1392.7,1536.7 L1395.7,1534.8 L1398.6,1533.1 L1401.6,1531.7 L1404.6,1530.4 L1407.5,1529.4 L1410.5,1528.7 L1413.5,1528.1 L1416.4,1527.8 L1419.4,1527.8 L1422.4,1528.0 L1425.3,1528.4 L1428.3,1529.1 L1431.2,1530.0 L1434.2,1531.1 L1437.2,1532.5 L1440.1,1534.1 L1443.1,1535.9 L1446.1,1537.9 L1449.0,1540.1 L1452.0,1542.5 L1455.0,1545.1 L1457.9,1547.9 L1460.9,1550.8 L1463.8,1553.8 L1466.8,1557.0 L1469.8,1560.3 L1472.7,1563.8 L1475.7,1567.3 L1478.7,1571.0 L1481.6,1574.7 L1484.6,1578.5 L1487.6,1582.3 L1490.5,1586.2 L1493.5,1590.1 L1496.4,1594.1 L1499.4,1598.0 L1502.4,1602.0 L1505.3,1606.0 L1508.3,1610.0 L1511.3,1613.9 L1514.2,1617.8 L1517.2,1621.7 L1520.2,1625.6 L1523.1,1629.4 L1526.1,1633.1 L1529.0,1636.8 L1532.0,1640.5 L1535.0,1644.0 L1537.9,1647.6 L1540.9,1651.0 L1543.9,1654.4 L1546.8,1657.7 L1549.8,1660.9 L1552.8,1664.0 L1555.7,1667.1 L1558.7,1670.1 L1561.6,1673.0 L1564.6,1675.8 L1567.6,1678.6 L1570.5,1681.2 L1573.5,1683.8 L1576.5,1686.3 L1579.4,1688.7 L1582.4,1691.1 L1585.4,1693.4 L1588.3,1695.5 L1591.3,1697.7 L1594.2,1699.7 L1597.2,1701.7 L1600.2,1703.6 L1603.1,1705.4 L1606.1,1707.2 L1609.1,1708.9 L1612.0,1710.6 L1615.0,1712.1 L1618.0,1713.7 L1620.9,1715.1 L1623.9,1716.5 L1626.8,1717.9 L1629.8,1719.2 L1632.8,1720.4 L1635.7,1721.6 L1638.7,1722.8 L1641.7,1723.9 L1644.6,1724.9 L1647.6,1726.0 L1650.6,1726.9 L1653.5,1727.9 L1656.5,1728.8 L1659.4,1729.6 L1662.4,1730.4 L1665.4,1731.2 L1668.3,1732.0 L1671.3,1732.7 L1674.3,1733.4 L1677.2,1734.1 L1680.2,1734.7 L1683.2,1735.3 L1686.1,1735.9 L1689.1,1736.4 L1692.0,1737.0 L1695.0,1737.5 L1698.0,1738.0 L1700.9,1738.4 L1703.9,1738.9 L1706.9,1739.3 L1709.8,1739.7 L1712.8,1740.1 L1715.8,1740.5 L1718.7,1740.8 L1721.7,1741.2 L1724.6,1741.5 L1727.6,1741.8 L1730.6,1742.1 L1733.5,1742.4 L1736.5,1742.6 L1739.5,1742.9 L1742.4,1743.1 L1745.4,1743.4 L1748.4,1743.6 L1751.3,1743.8" fill="none" stroke="#00b050" stroke-width="6.90" stroke-linecap="round" stroke-linejoin="round" stroke-dasharray="34.3 26.1" clip-path="url(#cb)"/>
<path d="M414.0,1748.4 L417.7,1748.4 L420.6,1748.4 L423.6,1748.4 L426.6,1748.4 L429.5,1748.4 L432.5,1748.4 L435.5,1748.4 L438.4,1748.4 L441.4,1748.4 L444.4,1748.4 L447.3,1748.4 L450.3,1748.4 L453.2,1748.4 L456.2,1748.4 L459.2,1748.4 L462.1,1748.4 L465.1,1748.4 L468.1,1748.4 L471.0,1748.4 L474.0,1748.4 L477.0,1748.4 L479.9,1748.4 L482.9,1748.4 L485.8,1748.4 L488.8,1748.4 L491.8,1748.4 L494.7,1748.4 L497.7,1748.4 L500.7,1748.4 L503.6,1748.4 L506.6,1748.4 L509.6,1748.4 L512.5,1748.4 L515.5,1748.4 L518.4,1748.4 L521.4,1748.4 L524.4,1748.4 L527.3,1748.4 L530.3,1748.4 L533.3,1748.4 L536.2,1748.4 L539.2,1748.4 L542.2,1748.4 L545.1,1748.4 L548.1,1748.4 L551.0,1748.4 L554.0,1748.4 L557.0,1748.4 L559.9,1748.4 L562.9,1748.4 L565.9,1748.4 L568.8,1748.4 L571.8,1748.4 L574.8,1748.4 L577.7,1748.4 L580.7,1748.4 L583.6,1748.4 L586.6,1748.4 L589.6,1748.4 L592.5,1748.4 L595.5,1748.4 L598.5,1748.4 L601.4,1748.4 L604.4,1748.4 L607.4,1748.4 L610.3,1748.4 L613.3,1748.4 L616.2,1748.4 L619.2,1748.4 L622.2,1748.4 L625.1,1748.4 L628.1,1748.4 L631.1,1748.4 L634.0,1748.4 L637.0,1748.4 L640.0,1748.4 L642.9,1748.4 L645.9,1748.4 L648.8,1748.4 L651.8,1748.4 L654.8,1748.3 L657.7,1748.3 L660.7,1748.3 L663.7,1748.3 L666.6,1748.3 L669.6,1748.3 L672.6,1748.3 L675.5,1748.3 L678.5,1748.2 L681.4,1748.2 L684.4,1748.1 L687.4,1748.0 L690.3,1747.9 L693.3,1747.8 L695.5,1747.6 L696.3,1747.5 L696.6,1747.5 L697.7,1747.4 L698.9,1747.3 L699.2,1747.2 L700.0,1747.2 L701.1,1747.0 L702.2,1746.8 L703.3,1746.7 L704.4,1746.4 L705.2,1746.3 L705.5,1746.2 L706.6,1745.9 L707.7,1745.7 L708.1,1745.5 L708.9,1745.3 L710.0,1744.9 L711.1,1744.5 L712.2,1744.1 L713.3,1743.5 L714.0,1743.2 L714.4,1742.9 L715.5,1742.3 L716.6,1741.5 L717.0,1741.3 L717.8,1740.7 L718.9,1739.8 L720.0,1738.7 L721.1,1737.5 L722.2,1736.2 L722.9,1735.3 L723.3,1734.7 L724.4,1733.1 L725.5,1731.2 L725.9,1730.5 L726.6,1729.1 L727.8,1726.8 L728.9,1724.1 L730.0,1721.1 L731.1,1717.8 L731.8,1715.4 L732.2,1714.1 L733.3,1709.9 L734.4,1705.2 L734.8,1703.5 L735.5,1699.9 L736.6,1694.0 L737.8,1687.3 L738.9,1679.9 L740.0,1671.5 L740.7,1665.3 L741.1,1662.1 L742.2,1651.5 L743.3,1639.7 L743.7,1635.4 L744.4,1626.4 L745.5,1611.5 L746.6,1594.8 L747.8,1576.8 L748.9,1561.9 L749.6,1557.5 L750.0,1556.7 L751.1,1556.2 L752.2,1556.4 L752.6,1556.5 L753.3,1556.7 L754.4,1557.0 L755.5,1557.3 L756.6,1557.6 L757.8,1558.0 L758.5,1558.3 L758.9,1558.4 L760.0,1558.8 L761.1,1559.2 L761.5,1559.4 L762.2,1559.7 L763.3,1560.1 L764.4,1560.6 L765.5,1561.1 L766.6,1561.7 L767.4,1562.0 L767.8,1562.2 L768.9,1562.8 L770.0,1563.4 L770.4,1563.6 L771.1,1564.0 L773.3,1565.3 L776.3,1567.1 L779.2,1569.0 L782.2,1571.1 L785.2,1573.2 L788.1,1575.5 L791.1,1577.9 L794.1,1580.3 L797.0,1582.9 L800.0,1585.5 L803.0,1588.2 L805.9,1591.0 L808.9,1593.8 L811.8,1596.6 L814.8,1599.6 L817.8,1602.5 L820.7,1605.5 L823.7,1608.5 L826.7,1611.6 L829.6,1614.6 L832.6,1617.7 L835.6,1620.7 L838.5,1623.8 L841.5,1626.8 L844.4,1629.9 L847.4,1632.9 L850.4,1635.9 L853.3,1638.9 L856.3,1641.8 L859.3,1644.7 L862.2,1647.6 L865.2,1650.5 L868.2,1653.3 L871.1,1656.0 L874.1,1658.8 L877.0,1661.4 L880.0,1664.1 L883.0,1666.6 L885.9,1669.2 L888.9,1671.6 L891.9,1674.1 L894.8,1676.4 L897.8,1678.8 L900.8,1681.0 L903.7,1683.2 L906.7,1685.4 L909.6,1687.5 L912.6,1689.5 L915.6,1691.5 L918.5,1693.4 L921.5,1695.3 L924.5,1697.2 L927.4,1698.9 L930.4,1700.7 L933.4,1702.3 L936.3,1704.0 L939.3,1705.5 L942.2,1707.1 L945.2,1708.6 L948.2,1710.0 L951.1,1711.4 L954.1,1712.7 L957.1,1714.0 L960.0,1715.3 L963.0,1716.5 L966.0,1717.7 L968.9,1718.8 L971.9,1719.9 L974.8,1721.0 L977.8,1722.0 L980.8,1723.0 L983.7,1723.9 L986.7,1724.9 L989.7,1725.7 L992.6,1726.6 L995.6,1727.4 L996.0,1727.5 L996.0,1781.2 L998.6,1783.1 L1001.5,1785.2 L1004.5,1787.5 L1007.4,1790.0 L1010.4,1792.6 L1013.4,1795.3 L1016.3,1798.2 L1019.3,1801.2 L1022.3,1804.4 L1025.2,1807.8 L1028.2,1811.3 L1031.2,1815.1 L1034.1,1819.0 L1037.1,1823.1 L1040.0,1827.4 L1043.0,1831.9 L1046.0,1836.7 L1048.9,1841.6 L1051.9,1846.7 L1054.9,1852.1 L1057.8,1857.7 L1060.8,1863.5 L1063.8,1869.5 L1066.7,1875.7 L1069.7,1882.1 L1072.6,1888.7 L1075.6,1895.5 L1078.6,1902.4 L1081.5,1909.6 L1084.5,1916.8 L1087.5,1924.2 L1090.4,1931.7 L1093.4,1939.2 L1096.4,1946.8 L1099.3,1954.5 L1102.3,1962.1 L1105.2,1969.7 L1108.2,1977.2 L1111.2,1984.5 L1114.1,1991.7 L1117.1,1998.8 L1120.1,2005.5 L1123.0,2012.0 L1126.0,2018.2 L1129.0,2024.0 L1131.9,2029.4 L1134.9,2034.3 L1137.8,2038.8 L1140.8,2042.7 L1143.8,2046.1 L1146.7,2048.9 L1149.7,2051.1 L1152.7,2052.7 L1155.6,2053.6 L1158.6,2053.9 L1161.6,2053.6 L1164.5,2052.6 L1167.5,2051.0 L1170.4,2048.8 L1173.4,2046.0 L1176.4,2042.6 L1179.3,2038.6 L1182.3,2034.2 L1185.3,2029.2 L1188.2,2023.8 L1191.2,2018.0 L1194.2,2011.8 L1197.1,2005.3 L1200.1,1998.5 L1203.0,1991.5 L1206.0,1984.3 L1209.0,1976.9 L1211.9,1969.4 L1214.9,1961.8 L1217.9,1954.2 L1220.8,1946.6 L1223.8,1939.0 L1226.8,1931.4 L1229.7,1923.9 L1232.7,1916.6 L1235.6,1909.3 L1238.6,1902.2 L1241.6,1895.3 L1244.5,1888.5 L1247.5,1881.9 L1249.0,1878.7 L1249.0,1662.7 L1250.5,1661.3 L1253.4,1658.5 L1256.4,1655.6 L1259.4,1652.7 L1262.3,1649.7 L1265.3,1646.7 L1268.2,1643.6 L1271.2,1640.5 L1274.2,1637.3 L1277.1,1634.1 L1280.1,1630.9 L1283.1,1627.7 L1286.0,1624.4 L1289.0,1621.1 L1292.0,1617.8 L1294.9,1614.5 L1297.9,1611.2 L1300.8,1607.9 L1303.8,1604.7 L1306.8,1601.4 L1309.7,1598.2 L1312.7,1595.0 L1315.7,1591.8 L1318.6,1588.7 L1321.6,1585.6 L1324.6,1582.6 L1327.5,1579.7 L1330.5,1576.9 L1333.4,1574.1 L1336.4,1571.5 L1339.4,1568.9 L1342.3,1566.4 L1345.3,1564.1 L1348.3,1561.9 L1351.2,1559.8 L1354.2,1557.9 L1357.2,1556.1 L1360.1,1554.5 L1363.1,1553.0 L1366.0,1551.7 L1369.0,1550.6 L1372.0,1549.6 L1374.9,1548.8 L1377.9,1548.2 L1380.9,1547.8 L1383.8,1547.5 L1386.8,1547.4 L1389.8,1547.5 L1392.7,1547.8 L1395.7,1548.3 L1398.6,1548.9 L1401.6,1549.8 L1404.6,1550.8 L1407.5,1552.0 L1410.5,1553.3 L1413.5,1554.8 L1416.4,1556.5 L1419.4,1558.3 L1422.4,1560.2 L1425.3,1562.3 L1428.3,1564.5 L1431.2,1566.9 L1434.2,1569.4 L1437.2,1571.9 L1440.1,1574.6 L1443.1,1577.4 L1446.1,1580.3 L1449.0,1583.2 L1452.0,1586.2 L1455.0,1589.3 L1457.9,1592.4 L1460.9,1595.6 L1463.8,1598.8 L1466.8,1602.0 L1469.8,1605.3 L1472.7,1608.6 L1475.7,1611.9 L1478.7,1615.2 L1481.6,1618.4 L1484.6,1621.7 L1487.6,1625.0 L1490.5,1628.3 L1493.5,1631.5 L1496.4,1634.7 L1499.4,1637.9 L1502.4,1641.1 L1505.3,1644.2 L1508.3,1647.2 L1511.3,1650.2 L1514.2,1653.2 L1517.2,1656.1 L1520.2,1659.0 L1523.1,1661.8 L1526.1,1664.6 L1529.0,1667.3 L1532.0,1669.9 L1535.0,1672.5 L1537.9,1675.0 L1540.9,1677.5 L1543.9,1679.9 L1546.8,1682.2 L1549.8,1684.5 L1552.8,1686.7 L1555.7,1688.9 L1558.7,1691.0 L1561.6,1693.0 L1564.6,1695.0 L1567.6,1696.9 L1570.5,1698.8 L1573.5,1700.6 L1576.5,1702.4 L1579.4,1704.0 L1582.4,1705.7 L1585.4,1707.3 L1588.3,1708.8 L1591.3,1710.3 L1594.2,1711.7 L1597.2,1713.1 L1600.2,1714.5 L1603.1,1715.8 L1606.1,1717.0 L1609.1,1718.2 L1612.0,1719.4 L1615.0,1720.5 L1618.0,1721.6 L1620.9,1722.6 L1623.9,1723.6 L1626.8,1724.6 L1629.8,1725.5 L1632.8,1726.4 L1635.7,1727.3 L1638.7,1728.1 L1641.7,1728.9 L1644.6,1729.7 L1647.6,1730.5 L1650.6,1731.2 L1653.5,1731.9 L1656.5,1732.5 L1659.4,1733.2 L1662.4,1733.8 L1665.4,1734.4 L1668.3,1734.9 L1671.3,1735.5 L1674.3,1736.0 L1677.2,1736.5 L1680.2,1737.0 L1683.2,1737.4 L1686.1,1737.9 L1689.1,1738.3 L1692.0,1738.7 L1695.0,1739.1 L1698.0,1739.5 L1700.9,1739.9 L1703.9,1740.2 L1706.9,1740.5 L1709.8,1740.9 L1712.8,1741.2 L1715.8,1741.5 L1718.7,1741.7 L1721.7,1742.0 L1724.6,1742.3 L1727.6,1742.5 L1730.6,1742.8 L1733.5,1743.0 L1736.5,1743.2 L1739.5,1743.4 L1742.4,1743.6 L1745.4,1743.8 L1748.4,1744.0 L1751.3,1744.2" fill="none" stroke="#ffc000" stroke-width="7.10" stroke-linecap="round" stroke-linejoin="round" clip-path="url(#cb)"/>
<path d="M267.1,1371.6 H1899.5 V2313.5 H267.1" fill="none" stroke="#bfbfbf" stroke-width="4.7" stroke-linejoin="miter"/>
<line x1="269.5" y1="1369.8" x2="269.5" y2="2315.3" stroke="#8c8c8c" stroke-width="4.7"/>
<text x="225.5" y="1387.6" font-size="49.60" fill="#000" text-anchor="end" >0.01</text>
<text x="225.5" y="1576.0" font-size="49.60" fill="#000" text-anchor="end" >0.005</text>
<text x="225.5" y="1764.4" font-size="49.60" fill="#000" text-anchor="end" >0</text>
<text x="225.5" y="1952.7" font-size="49.60" fill="#000" text-anchor="end" >-0.005</text>
<text x="225.5" y="2141.1" font-size="49.60" fill="#000" text-anchor="end" >-0.01</text>
<text x="225.5" y="2329.5" font-size="49.60" fill="#000" text-anchor="end" >-0.015</text>
<text x="1944.0" y="1387.8" font-size="49.60" fill="#595959" text-anchor="start" >0</text>
<text x="1944.0" y="1576.2" font-size="49.60" fill="#595959" text-anchor="start" >400</text>
<text x="1944.0" y="1764.6" font-size="49.60" fill="#595959" text-anchor="start" >800</text>
<text x="1944.0" y="1952.9" font-size="49.60" fill="#595959" text-anchor="start" >1200</text>
<text x="1944.0" y="2141.3" font-size="49.60" fill="#595959" text-anchor="start" >1600</text>
<text x="1944.0" y="2329.7" font-size="49.60" fill="#595959" text-anchor="start" >2000</text>
<text x="270.5" y="2388.2" font-size="49.60" fill="#595959" text-anchor="middle" >2000</text>
<text x="418.7" y="2388.2" font-size="49.60" fill="#595959" text-anchor="middle" >1800</text>
<text x="566.9" y="2388.2" font-size="49.60" fill="#595959" text-anchor="middle" >1600</text>
<text x="715.0" y="2388.2" font-size="49.60" fill="#595959" text-anchor="middle" >1400</text>
<text x="863.2" y="2388.2" font-size="49.60" fill="#595959" text-anchor="middle" >1200</text>
<text x="1011.4" y="2388.2" font-size="49.60" fill="#595959" text-anchor="middle" >1000</text>
<text x="1159.6" y="2388.2" font-size="49.60" fill="#595959" text-anchor="middle" >800</text>
<text x="1307.8" y="2388.2" font-size="49.60" fill="#595959" text-anchor="middle" >600</text>
<text x="1456.0" y="2388.2" font-size="49.60" fill="#595959" text-anchor="middle" >400</text>
<text x="1604.1" y="2388.2" font-size="49.60" fill="#595959" text-anchor="middle" >200</text>
<text x="1752.3" y="2388.2" font-size="49.60" fill="#595959" text-anchor="middle" >0</text>
<text x="1900.5" y="2388.2" font-size="49.60" fill="#595959" text-anchor="middle" >-200</text>
<path d="M1199.4,2134.5 L1342.1,2134.5" fill="none" stroke="#000" stroke-width="7.60" stroke-linecap="round" stroke-linejoin="round" stroke-dasharray="0.01 13.85" />
<text x="1355.2" y="2149.2" font-size="44.44" fill="#000" text-anchor="start" letter-spacing="0.28">Mean - SLWR 1 (MATLAB)</text>
<path d="M1198.7,2182.3 L1339.3,2182.3" fill="none" stroke="#000" stroke-width="5.60" stroke-linecap="round" stroke-linejoin="round" stroke-dasharray="11 11.2" />
<text x="1355.2" y="2197.0" font-size="44.44" fill="#000" text-anchor="start" letter-spacing="0.28">Mean - SLWR 2 (MATLAB)</text>
<path d="M1198.7,2230.4 L1339.3,2230.4" fill="none" stroke="#000" stroke-width="5.60" stroke-linecap="round" stroke-linejoin="round" stroke-dasharray="39.5 21.6" />
<text x="1355.2" y="2245.1" font-size="44.44" fill="#000" text-anchor="start" letter-spacing="0.28">Mean - SLWR 3 (MATLAB)</text>
<path d="M1198.7,2278.5 L1339.3,2278.5" fill="none" stroke="#000" stroke-width="5.60" stroke-linecap="round" stroke-linejoin="round" />
<text x="1355.2" y="2293.2" font-size="44.44" fill="#000" text-anchor="start" letter-spacing="0.28">Mean - SLWR 4 (MATLAB)</text>
<text x="95.0" y="1843.5" font-size="55.56" fill="#000" text-anchor="middle" transform="rotate(-90 95.0 1843.5)" >Curvature (rad/m)</text>
<text x="2110.0" y="1843.0" font-size="55.56" fill="#000" text-anchor="middle" transform="rotate(-90 2110.0 1843.0)" >Y (m)</text>
<text x="1023.0" y="2466.1" font-size="55.56" fill="#000" text-anchor="start" ><tspan font-size="45.5">X</tspan> (m)</text>
<text x="291.8" y="2283.5" font-size="64.50" fill="#000" text-anchor="start" font-weight="bold" >(b)</text>
<text x="1142.0" y="1446.5" font-size="50.00" fill="#000" text-anchor="start" >Curvature</text>
<text x="1700.5" y="2045.5" font-size="50.80" fill="#000" text-anchor="start" >SLWR</text>
<line x1="1122.8" y1="1448.9" x2="1002.3" y2="1539.1" stroke="#000" stroke-width="5.2"/>
<polygon points="984.7,1552.3 1022.1,1545.4 1003.9,1537.9 1001.9,1518.4" fill="#000"/>
<line x1="1752.6" y1="1997.0" x2="1629.9" y2="1875.5" stroke="#000" stroke-width="5.2"/>
<polygon points="1614.3,1860.0 1626.7,1895.9 1631.4,1876.9 1650.4,1872.0" fill="#000"/>
<clipPath id="cc"><rect x="269.5" y="2665.0" width="1629.1" height="938.9"/></clipPath>
<line x1="417.6" y1="2667.5" x2="417.6" y2="3602.4" stroke="#d6d6d6" stroke-width="2.4" stroke-dasharray="6.3 3.36"/>
<line x1="565.7" y1="2667.5" x2="565.7" y2="3602.4" stroke="#d6d6d6" stroke-width="2.4" stroke-dasharray="6.3 3.36"/>
<line x1="713.8" y1="2667.5" x2="713.8" y2="3602.4" stroke="#d6d6d6" stroke-width="2.4" stroke-dasharray="6.3 3.36"/>
<line x1="861.9" y1="2667.5" x2="861.9" y2="3602.4" stroke="#d6d6d6" stroke-width="2.4" stroke-dasharray="6.3 3.36"/>
<line x1="1010.0" y1="2667.5" x2="1010.0" y2="3602.4" stroke="#d6d6d6" stroke-width="2.4" stroke-dasharray="6.3 3.36"/>
<line x1="1158.1" y1="2667.5" x2="1158.1" y2="3602.4" stroke="#d6d6d6" stroke-width="2.4" stroke-dasharray="6.3 3.36"/>
<line x1="1306.2" y1="2667.5" x2="1306.2" y2="3602.4" stroke="#d6d6d6" stroke-width="2.4" stroke-dasharray="6.3 3.36"/>
<line x1="1454.3" y1="2667.5" x2="1454.3" y2="3602.4" stroke="#d6d6d6" stroke-width="2.4" stroke-dasharray="6.3 3.36"/>
<line x1="1602.4" y1="2667.5" x2="1602.4" y2="3602.4" stroke="#d6d6d6" stroke-width="2.4" stroke-dasharray="6.3 3.36"/>
<line x1="1750.5" y1="2667.5" x2="1750.5" y2="3602.4" stroke="#d6d6d6" stroke-width="2.4" stroke-dasharray="6.3 3.36"/>
<line x1="269.5" y1="2853.7" x2="1898.6" y2="2853.7" stroke="#d6d6d6" stroke-width="2.0" stroke-dasharray="6.3 3.36"/>
<line x1="269.5" y1="3040.9" x2="1898.6" y2="3040.9" stroke="#d6d6d6" stroke-width="2.0" stroke-dasharray="6.3 3.36"/>
<line x1="269.5" y1="3228.0" x2="1898.6" y2="3228.0" stroke="#d6d6d6" stroke-width="2.0" stroke-dasharray="6.3 3.36"/>
<line x1="269.5" y1="3415.2" x2="1898.6" y2="3415.2" stroke="#d6d6d6" stroke-width="2.0" stroke-dasharray="6.3 3.36"/>
<path d="M413.9,3508.8 L417.6,3508.8 L420.6,3508.8 L423.5,3508.8 L426.5,3508.8 L429.4,3508.8 L432.4,3508.8 L435.4,3508.8 L438.3,3508.8 L441.3,3508.8 L444.3,3508.8 L447.2,3508.8 L450.2,3508.8 L453.1,3508.8 L456.1,3508.8 L459.1,3508.8 L462.0,3508.8 L465.0,3508.8 L468.0,3508.8 L470.9,3508.8 L473.9,3508.8 L476.8,3508.8 L479.8,3508.8 L482.8,3508.8 L485.7,3508.8 L488.7,3508.8 L491.6,3508.8 L494.6,3508.8 L497.6,3508.8 L500.5,3508.8 L503.5,3508.8 L506.5,3508.8 L509.4,3508.8 L512.4,3508.8 L515.3,3508.8 L518.3,3508.8 L521.3,3508.8 L524.2,3508.8 L527.2,3508.8 L530.2,3508.8 L533.1,3508.8 L536.1,3508.8 L539.0,3508.8 L542.0,3508.8 L545.0,3508.8 L547.9,3508.8 L550.9,3508.8 L553.9,3508.8 L556.8,3508.8 L559.8,3508.8 L562.7,3508.8 L565.7,3508.8 L568.7,3508.8 L571.6,3508.8 L574.6,3508.8 L577.5,3508.8 L580.5,3508.8 L583.5,3508.8 L586.4,3508.8 L589.4,3508.8 L592.4,3508.8 L595.3,3508.8 L598.3,3508.8 L601.2,3508.8 L604.2,3508.8 L607.2,3508.8 L610.1,3508.8 L613.1,3508.8 L616.1,3508.8 L619.0,3508.8 L622.0,3508.8 L624.9,3508.8 L627.9,3508.8 L630.9,3508.8 L633.8,3508.8 L636.8,3508.8 L639.8,3508.8 L642.7,3508.8 L645.7,3508.8 L648.6,3508.8 L651.6,3508.8 L654.6,3508.8 L657.5,3508.8 L660.5,3508.8 L663.4,3508.8 L666.4,3508.8 L669.4,3508.8 L672.3,3508.8 L675.3,3508.8 L678.3,3508.8 L681.2,3508.8 L684.2,3508.8 L687.1,3508.8 L690.1,3508.8 L693.1,3508.8 L696.0,3508.8 L699.0,3508.8 L702.0,3508.8 L704.9,3508.8 L707.9,3508.8 L710.8,3508.8 L713.8,3508.8 L716.8,3508.8 L719.7,3508.8 L722.7,3508.8 L725.6,3508.8 L728.6,3508.8 L731.6,3508.8 L734.5,3508.8 L737.5,3508.8 L740.5,3508.8 L743.4,3508.8 L746.4,3508.8 L749.3,3508.8 L752.3,3508.8 L755.3,3508.8 L758.2,3508.8 L761.2,3508.8 L764.2,3508.8 L767.1,3508.8 L770.1,3508.8 L773.0,3508.8 L776.0,3508.8 L779.0,3508.8 L781.9,3508.8 L784.9,3508.8 L787.9,3508.8 L790.8,3508.8 L793.8,3508.8 L796.7,3508.8 L799.7,3508.8 L802.7,3508.8 L805.6,3508.8 L808.6,3508.8 L811.5,3508.8 L814.5,3508.8 L817.5,3508.8 L820.4,3508.8 L823.4,3508.8 L826.4,3508.8 L829.3,3508.8 L832.3,3508.8 L835.2,3508.8 L838.2,3508.8 L841.2,3508.8 L844.1,3508.8 L847.1,3508.8 L850.1,3508.8 L853.0,3508.8 L856.0,3508.8 L858.9,3508.8 L861.9,3508.8 L864.9,3508.8 L867.8,3508.8 L870.8,3508.8 L873.7,3508.8 L876.7,3508.8 L879.7,3508.8 L882.6,3508.8 L885.6,3508.8 L888.6,3508.8 L891.5,3508.8 L894.5,3508.8 L897.4,3508.8 L900.4,3508.8 L903.4,3508.8 L906.3,3508.8 L909.3,3508.8 L912.3,3508.8 L915.2,3508.8 L918.2,3508.8 L918.5,3508.8 L921.1,3508.8 L924.1,3508.7 L927.1,3508.6 L930.0,3508.4 L933.0,3508.2 L936.0,3507.9 L938.9,3507.6 L941.9,3507.2 L944.8,3506.8 L947.8,3506.3 L950.8,3505.8 L953.7,3505.2 L956.7,3504.6 L959.6,3503.9 L962.6,3503.2 L965.6,3502.4 L968.5,3501.5 L971.5,3500.6 L974.5,3499.7 L977.4,3498.6 L980.4,3497.6 L983.3,3496.4 L986.3,3495.2 L989.3,3494.0 L992.2,3492.7 L995.2,3491.3 L998.2,3489.9 L1001.1,3488.4 L1004.1,3486.8 L1007.0,3485.2 L1010.0,3483.5 L1013.0,3481.7 L1015.9,3479.8 L1018.9,3477.9 L1021.8,3476.0 L1024.8,3473.9 L1027.8,3471.8 L1030.7,3469.6 L1033.7,3467.3 L1036.7,3464.9 L1039.6,3462.4 L1042.6,3459.9 L1045.5,3457.3 L1048.5,3454.6 L1051.5,3451.8 L1054.4,3448.9 L1057.4,3445.9 L1060.4,3442.8 L1063.3,3439.7 L1066.3,3436.4 L1069.2,3433.0 L1072.2,3429.5 L1075.2,3426.0 L1078.1,3422.3 L1081.1,3418.4 L1084.0,3414.5 L1087.0,3410.5 L1090.0,3406.3 L1092.9,3402.0 L1095.9,3397.6 L1098.9,3393.0 L1101.8,3388.4 L1104.8,3383.5 L1107.7,3378.6 L1110.7,3373.5 L1113.7,3368.2 L1116.6,3362.8 L1119.6,3357.3 L1122.6,3351.6 L1125.5,3345.7 L1128.5,3339.6 L1131.4,3333.4 L1134.4,3327.0 L1137.4,3320.4 L1140.3,3313.7 L1143.3,3306.7 L1146.3,3299.5 L1149.2,3292.2 L1152.2,3284.6 L1153.7,3280.8 L1154.2,3279.2 L1155.1,3276.9 L1158.1,3269.3 L1161.1,3262.1 L1164.0,3255.2 L1167.0,3248.6 L1169.9,3242.3 L1172.9,3236.2 L1175.9,3230.4 L1178.8,3224.9 L1181.8,3219.6 L1184.8,3214.5 L1187.7,3209.6 L1190.7,3205.0 L1193.6,3200.6 L1196.6,3196.4 L1199.6,3192.3 L1202.5,3188.5 L1205.5,3184.8 L1208.5,3181.3 L1211.4,3178.0 L1214.4,3174.8 L1217.3,3171.8 L1220.3,3168.9 L1223.3,3166.2 L1226.2,3163.6 L1229.2,3161.2 L1232.2,3158.8 L1235.1,3156.6 L1238.1,3154.5 L1241.0,3152.6 L1244.0,3150.7 L1247.0,3149.0 L1249.9,3147.3 L1252.9,3145.8 L1255.8,3144.4 L1258.8,3143.0 L1261.8,3141.8 L1264.7,3140.7 L1267.7,3139.6 L1270.7,3138.6 L1273.6,3137.8 L1276.6,3137.0 L1279.5,3136.3 L1282.5,3135.7 L1285.5,3135.1 L1288.4,3134.7 L1291.4,3134.3 L1294.4,3134.0 L1297.3,3133.8 L1300.3,3133.7 L1303.2,3133.6 L1306.2,3133.6 L1309.2,3133.7 L1312.1,3133.9 L1315.1,3134.2 L1318.0,3134.5 L1321.0,3135.0 L1324.0,3135.5 L1326.9,3136.1 L1329.9,3136.7 L1332.9,3137.5 L1335.8,3138.3 L1338.8,3139.3 L1341.7,3140.3 L1344.7,3141.4 L1347.7,3142.6 L1350.6,3143.9 L1353.6,3145.3 L1356.6,3146.8 L1359.5,3148.4 L1362.5,3150.1 L1365.4,3151.9 L1366.9,3152.9 L1368.4,3153.9 L1369.4,3154.5 L1371.4,3155.9 L1374.3,3157.8 L1377.3,3159.7 L1380.2,3161.4 L1383.2,3163.2 L1386.2,3164.8 L1389.1,3166.4 L1392.1,3167.9 L1395.1,3169.3 L1398.0,3170.7 L1401.0,3172.0 L1403.9,3173.2 L1406.9,3174.4 L1409.9,3175.5 L1412.8,3176.6 L1415.8,3177.6 L1418.8,3178.5 L1421.7,3179.4 L1424.7,3180.2 L1427.6,3181.0 L1430.6,3181.7 L1433.6,3182.3 L1436.5,3182.9 L1439.5,3183.5 L1442.5,3184.0 L1445.4,3184.4 L1448.4,3184.8 L1451.3,3185.1 L1454.3,3185.3 L1457.3,3185.6 L1460.2,3185.7 L1463.2,3185.8 L1466.1,3185.9 L1469.1,3185.9 L1472.1,3185.8 L1475.0,3185.7 L1478.0,3185.6 L1481.0,3185.4 L1483.9,3185.1 L1486.9,3184.8 L1489.8,3184.4 L1492.8,3184.0 L1495.8,3183.5 L1498.7,3183.0 L1501.7,3182.4 L1504.7,3181.8 L1507.6,3181.1 L1510.6,3180.3 L1513.5,3179.5 L1516.5,3178.6 L1519.5,3177.7 L1522.4,3176.7 L1525.4,3175.7 L1528.3,3174.6 L1531.3,3173.4 L1534.3,3172.2 L1537.2,3170.9 L1540.2,3169.5 L1543.2,3168.1 L1546.1,3166.6 L1549.1,3165.0 L1552.0,3163.4 L1555.0,3161.7 L1558.0,3159.9 L1560.9,3158.1 L1563.9,3156.1 L1566.9,3154.1 L1569.8,3152.0 L1572.8,3149.9 L1575.7,3147.7 L1578.7,3145.3 L1581.7,3142.9 L1584.6,3140.4 L1587.6,3137.8 L1590.6,3135.2 L1593.5,3132.4 L1596.5,3129.5 L1599.4,3126.6 L1602.4,3123.5 L1605.4,3120.3 L1608.3,3117.1 L1611.3,3113.7 L1614.2,3110.2 L1617.2,3106.6 L1620.2,3102.9 L1623.1,3099.1 L1626.1,3095.1 L1629.1,3091.0 L1632.0,3086.8 L1635.0,3082.5 L1637.9,3078.0 L1640.9,3073.4 L1643.9,3068.6 L1646.8,3063.7 L1649.8,3058.7 L1652.8,3053.5 L1655.7,3048.1 L1658.7,3042.6 L1661.6,3036.9 L1664.6,3031.0 L1667.6,3024.9 L1670.5,3018.7 L1673.5,3012.3 L1676.5,3005.7 L1679.4,2998.9 L1682.4,2991.9 L1685.3,2984.7 L1688.3,2977.3 L1691.3,2969.6 L1694.2,2961.8 L1697.2,2953.7 L1700.1,2945.4 L1703.1,2936.8 L1706.1,2927.9 L1709.0,2918.9 L1712.0,2909.5 L1715.0,2899.9 L1717.9,2890.0 L1720.9,2879.8 L1723.8,2869.3 L1726.8,2858.5 L1729.8,2847.4 L1732.7,2836.0 L1735.7,2824.2 L1738.7,2812.1 L1741.6,2799.7 L1744.6,2786.8 L1747.5,2773.7 L1750.5,2760.1" fill="none" stroke="#000" stroke-width="7.40" stroke-linecap="round" stroke-linejoin="round" stroke-dasharray="0.01 13.87" clip-path="url(#cc)"/>
<path d="M413.9,3508.8 L417.6,3508.8 L420.6,3508.8 L423.5,3508.8 L426.5,3508.8 L429.4,3508.8 L432.4,3508.8 L435.4,3508.8 L438.3,3508.8 L441.3,3508.8 L444.3,3508.8 L447.2,3508.8 L450.2,3508.8 L453.1,3508.8 L456.1,3508.8 L459.1,3508.8 L462.0,3508.8 L465.0,3508.8 L468.0,3508.8 L470.9,3508.8 L473.9,3508.8 L476.8,3508.8 L479.8,3508.8 L482.8,3508.8 L485.7,3508.8 L488.7,3508.8 L491.6,3508.8 L494.6,3508.8 L497.6,3508.8 L500.5,3508.8 L503.5,3508.8 L506.5,3508.8 L509.4,3508.8 L512.4,3508.8 L515.3,3508.8 L518.3,3508.8 L521.3,3508.8 L524.2,3508.8 L527.2,3508.8 L530.2,3508.8 L533.1,3508.8 L536.1,3508.8 L539.0,3508.8 L542.0,3508.8 L545.0,3508.8 L547.9,3508.8 L550.9,3508.8 L553.9,3508.8 L556.8,3508.8 L559.8,3508.8 L562.7,3508.8 L565.7,3508.8 L568.7,3508.8 L571.6,3508.8 L574.6,3508.8 L577.5,3508.8 L580.5,3508.8 L583.5,3508.8 L586.4,3508.8 L589.4,3508.8 L592.4,3508.8 L595.3,3508.8 L598.3,3508.8 L601.2,3508.8 L604.2,3508.8 L607.2,3508.8 L610.1,3508.8 L613.1,3508.8 L616.1,3508.8 L619.0,3508.8 L622.0,3508.8 L624.9,3508.8 L627.9,3508.8 L630.9,3508.8 L633.8,3508.8 L636.8,3508.8 L639.8,3508.8 L642.7,3508.8 L645.7,3508.8 L648.6,3508.8 L651.6,3508.8 L654.6,3508.8 L657.5,3508.8 L660.5,3508.8 L663.4,3508.8 L666.4,3508.8 L669.4,3508.8 L672.3,3508.8 L675.3,3508.8 L678.3,3508.8 L681.2,3508.8 L684.2,3508.8 L687.1,3508.8 L690.1,3508.8 L693.1,3508.8 L696.0,3508.8 L699.0,3508.8 L702.0,3508.8 L704.9,3508.8 L707.9,3508.8 L710.8,3508.8 L713.8,3508.8 L716.8,3508.8 L719.7,3508.8 L722.7,3508.8 L725.6,3508.8 L728.6,3508.8 L731.6,3508.8 L734.5,3508.8 L737.5,3508.8 L740.5,3508.8 L743.4,3508.8 L746.4,3508.8 L749.3,3508.8 L752.3,3508.8 L755.3,3508.8 L758.2,3508.8 L761.2,3508.8 L764.2,3508.8 L767.1,3508.8 L770.1,3508.8 L773.0,3508.8 L776.0,3508.8 L779.0,3508.8 L781.9,3508.8 L784.9,3508.8 L787.9,3508.8 L790.8,3508.8 L793.8,3508.8 L796.7,3508.8 L799.7,3508.8 L802.7,3508.8 L805.6,3508.8 L808.6,3508.8 L811.5,3508.8 L814.5,3508.8 L817.5,3508.8 L820.4,3508.8 L823.4,3508.8 L826.4,3508.8 L829.3,3508.8 L832.3,3508.8 L835.2,3508.8 L838.2,3508.8 L841.2,3508.8 L844.1,3508.8 L847.1,3508.8 L850.1,3508.8 L853.0,3508.8 L856.0,3508.8 L858.9,3508.8 L861.9,3508.8 L864.9,3508.8 L867.8,3508.8 L868.2,3508.8 L870.8,3508.8 L873.7,3508.7 L876.7,3508.6 L879.7,3508.4 L882.6,3508.2 L885.6,3508.0 L888.6,3507.6 L891.5,3507.3 L894.5,3506.9 L897.4,3506.4 L900.4,3505.9 L903.4,3505.3 L906.3,3504.7 L909.3,3504.0 L912.3,3503.3 L915.2,3502.5 L918.2,3501.7 L921.1,3500.8 L924.1,3499.9 L927.1,3498.9 L930.0,3497.8 L933.0,3496.7 L936.0,3495.5 L938.9,3494.3 L941.9,3493.0 L944.8,3491.7 L947.8,3490.3 L950.8,3488.8 L953.7,3487.3 L956.7,3485.7 L959.6,3484.0 L962.6,3482.3 L965.6,3480.5 L968.5,3478.6 L971.5,3476.7 L974.5,3474.7 L977.4,3472.6 L980.4,3470.5 L983.3,3468.3 L986.3,3466.0 L989.3,3463.6 L992.2,3461.1 L995.2,3458.6 L998.2,3455.9 L1001.1,3453.2 L1004.1,3450.4 L1007.0,3447.5 L1010.0,3444.5 L1013.0,3441.5 L1015.9,3438.3 L1018.9,3435.0 L1021.8,3431.6 L1024.8,3428.2 L1027.8,3424.6 L1030.7,3420.9 L1033.7,3417.1 L1036.7,3413.2 L1039.6,3409.2 L1042.6,3405.0 L1045.5,3400.8 L1048.5,3396.4 L1051.5,3391.9 L1054.4,3387.2 L1057.4,3382.4 L1060.4,3377.5 L1063.3,3372.5 L1066.3,3367.3 L1069.2,3361.9 L1072.2,3356.4 L1075.2,3350.8 L1078.1,3345.0 L1081.1,3339.0 L1084.0,3332.9 L1087.0,3326.5 L1090.0,3320.1 L1092.2,3315.1 L1092.9,3313.4 L1095.9,3306.5 L1098.9,3299.5 L1099.5,3298.1 L1101.8,3292.4 L1104.8,3285.6 L1107.7,3279.1 L1110.7,3272.8 L1113.7,3266.8 L1116.6,3261.0 L1119.6,3255.4 L1122.6,3250.1 L1125.5,3245.0 L1128.5,3240.1 L1131.4,3235.4 L1134.4,3230.9 L1137.4,3226.6 L1140.3,3222.4 L1143.3,3218.5 L1146.3,3214.7 L1149.2,3211.0 L1152.2,3207.5 L1155.1,3204.2 L1158.1,3201.0 L1161.1,3198.0 L1164.0,3195.1 L1167.0,3192.3 L1169.9,3189.7 L1172.9,3187.2 L1175.9,3184.8 L1178.8,3182.5 L1181.8,3180.3 L1184.8,3178.3 L1187.7,3176.3 L1190.7,3174.5 L1193.6,3172.7 L1196.6,3171.1 L1199.6,3169.5 L1202.5,3168.1 L1205.5,3166.7 L1208.5,3165.4 L1211.4,3164.2 L1214.4,3163.1 L1217.3,3162.1 L1220.3,3161.2 L1223.3,3160.3 L1226.2,3159.5 L1229.2,3158.8 L1232.2,3158.2 L1235.1,3157.7 L1238.1,3157.2 L1241.0,3156.8 L1244.0,3156.5 L1247.0,3156.2 L1249.9,3156.1 L1252.9,3156.0 L1255.8,3155.9 L1258.8,3156.0 L1261.8,3156.1 L1264.7,3156.3 L1267.7,3156.6 L1270.7,3156.9 L1273.6,3157.3 L1276.6,3157.8 L1279.5,3158.4 L1282.5,3159.0 L1285.5,3159.7 L1288.4,3160.5 L1291.4,3161.4 L1294.4,3162.4 L1297.3,3163.4 L1300.3,3164.5 L1303.2,3165.7 L1306.2,3167.0 L1309.2,3168.4 L1312.1,3169.9 L1315.1,3171.5 L1318.0,3173.2 L1321.0,3174.9 L1324.0,3176.8 L1326.9,3178.8 L1329.5,3180.6 L1329.9,3180.9 L1332.9,3183.0 L1335.8,3185.0 L1338.8,3186.9 L1341.7,3188.8 L1344.7,3190.6 L1347.7,3192.3 L1350.6,3194.0 L1353.6,3195.6 L1356.6,3197.1 L1359.5,3198.6 L1362.5,3200.0 L1365.4,3201.4 L1368.4,3202.7 L1371.4,3203.9 L1374.3,3205.1 L1377.3,3206.3 L1380.2,3207.3 L1383.2,3208.4 L1386.2,3209.3 L1389.1,3210.2 L1392.1,3211.1 L1395.1,3211.9 L1398.0,3212.7 L1401.0,3213.4 L1403.9,3214.0 L1406.9,3214.6 L1409.9,3215.2 L1412.8,3215.7 L1415.8,3216.1 L1418.8,3216.5 L1421.7,3216.9 L1424.7,3217.2 L1427.6,3217.4 L1430.6,3217.6 L1433.6,3217.8 L1436.5,3217.9 L1439.5,3218.0 L1442.5,3218.0 L1445.4,3218.0 L1448.4,3217.9 L1451.3,3217.7 L1454.3,3217.6 L1457.3,3217.3 L1460.2,3217.1 L1463.2,3216.7 L1466.1,3216.4 L1469.1,3216.0 L1472.1,3215.5 L1475.0,3215.0 L1478.0,3214.4 L1481.0,3213.8 L1483.9,3213.1 L1486.9,3212.4 L1489.8,3211.6 L1492.8,3210.8 L1495.8,3209.9 L1498.7,3209.0 L1501.7,3208.0 L1504.7,3206.9 L1507.6,3205.9 L1510.6,3204.7 L1513.5,3203.5 L1516.5,3202.2 L1519.5,3200.9 L1522.4,3199.5 L1525.4,3198.1 L1528.3,3196.6 L1531.3,3195.0 L1534.3,3193.4 L1537.2,3191.7 L1540.2,3189.9 L1543.2,3188.1 L1546.1,3186.2 L1549.1,3184.2 L1552.0,3182.2 L1555.0,3180.1 L1558.0,3177.9 L1560.9,3175.7 L1563.9,3173.3 L1566.9,3170.9 L1569.8,3168.4 L1572.8,3165.9 L1575.7,3163.2 L1578.7,3160.5 L1581.7,3157.7 L1584.6,3154.8 L1587.6,3151.8 L1590.6,3148.7 L1593.5,3145.5 L1596.5,3142.2 L1599.4,3138.9 L1602.4,3135.4 L1605.4,3131.8 L1608.3,3128.1 L1611.3,3124.3 L1614.2,3120.4 L1617.2,3116.4 L1620.2,3112.3 L1623.1,3108.1 L1626.1,3103.7 L1629.1,3099.2 L1632.0,3094.6 L1635.0,3089.8 L1637.9,3085.0 L1640.9,3080.0 L1643.9,3074.8 L1646.8,3069.5 L1649.8,3064.1 L1652.8,3058.5 L1655.7,3052.8 L1658.7,3046.9 L1661.6,3040.8 L1664.6,3034.6 L1667.6,3028.2 L1670.5,3021.6 L1673.5,3014.9 L1676.5,3008.0 L1679.4,3000.9 L1682.4,2993.6 L1685.3,2986.1 L1688.3,2978.4 L1691.3,2970.5 L1694.2,2962.4 L1697.2,2954.0 L1700.1,2945.5 L1703.1,2936.7 L1706.1,2927.7 L1709.0,2918.4 L1712.0,2908.9 L1715.0,2899.2 L1717.9,2889.2 L1720.9,2878.9 L1723.8,2868.4 L1726.8,2857.6 L1729.8,2846.4 L1732.7,2835.1 L1735.7,2823.4 L1738.7,2811.3 L1741.6,2799.0 L1744.6,2786.4 L1747.5,2773.4 L1750.5,2760.1" fill="none" stroke="#000" stroke-width="6.90" stroke-linecap="round" stroke-linejoin="round" stroke-dasharray="10.4 11.75" clip-path="url(#cc)"/>
<path d="M413.9,3508.8 L417.6,3508.8 L420.6,3508.8 L423.5,3508.8 L426.5,3508.8 L429.4,3508.8 L432.4,3508.8 L435.4,3508.8 L438.3,3508.8 L441.3,3508.8 L444.3,3508.8 L447.2,3508.8 L450.2,3508.8 L453.1,3508.8 L456.1,3508.8 L459.1,3508.8 L462.0,3508.8 L465.0,3508.8 L468.0,3508.8 L470.9,3508.8 L473.9,3508.8 L476.8,3508.8 L479.8,3508.8 L482.8,3508.8 L485.7,3508.8 L488.7,3508.8 L491.6,3508.8 L494.6,3508.8 L497.6,3508.8 L500.5,3508.8 L503.5,3508.8 L506.5,3508.8 L509.4,3508.8 L512.4,3508.8 L515.3,3508.8 L518.3,3508.8 L521.3,3508.8 L524.2,3508.8 L527.2,3508.8 L530.2,3508.8 L533.1,3508.8 L536.1,3508.8 L539.0,3508.8 L542.0,3508.8 L545.0,3508.8 L547.9,3508.8 L550.9,3508.8 L553.9,3508.8 L556.8,3508.8 L559.8,3508.8 L562.7,3508.8 L565.7,3508.8 L568.7,3508.8 L571.6,3508.8 L574.6,3508.8 L577.5,3508.8 L580.5,3508.8 L583.5,3508.8 L586.4,3508.8 L589.4,3508.8 L592.4,3508.8 L595.3,3508.8 L598.3,3508.8 L601.2,3508.8 L604.2,3508.8 L607.2,3508.8 L610.1,3508.8 L613.1,3508.8 L616.1,3508.8 L619.0,3508.8 L622.0,3508.8 L624.9,3508.8 L627.9,3508.8 L630.9,3508.8 L633.8,3508.8 L636.8,3508.8 L639.8,3508.8 L642.7,3508.8 L645.7,3508.8 L648.6,3508.8 L651.6,3508.8 L654.6,3508.8 L657.5,3508.8 L660.5,3508.8 L663.4,3508.8 L666.4,3508.8 L669.4,3508.8 L672.3,3508.8 L675.3,3508.8 L678.3,3508.8 L681.2,3508.8 L684.2,3508.8 L687.1,3508.8 L690.1,3508.8 L693.1,3508.8 L696.0,3508.8 L699.0,3508.8 L702.0,3508.8 L704.9,3508.8 L707.9,3508.8 L710.8,3508.8 L713.8,3508.8 L716.8,3508.8 L719.7,3508.8 L722.7,3508.8 L725.6,3508.8 L728.6,3508.8 L731.6,3508.8 L734.5,3508.8 L737.5,3508.8 L740.5,3508.8 L743.4,3508.8 L746.4,3508.8 L749.3,3508.8 L752.3,3508.8 L755.3,3508.8 L758.2,3508.8 L761.2,3508.8 L764.2,3508.8 L767.1,3508.8 L770.1,3508.8 L773.0,3508.8 L776.0,3508.8 L779.0,3508.8 L781.9,3508.8 L784.9,3508.8 L787.9,3508.8 L790.8,3508.8 L793.8,3508.8 L795.0,3508.8 L796.7,3508.8 L799.7,3508.8 L802.7,3508.7 L805.6,3508.5 L808.6,3508.4 L811.5,3508.2 L814.5,3507.9 L817.5,3507.6 L820.4,3507.3 L823.4,3506.9 L826.4,3506.5 L829.3,3506.1 L832.3,3505.6 L835.2,3505.0 L838.2,3504.5 L841.2,3503.8 L844.1,3503.2 L847.1,3502.5 L850.1,3501.7 L853.0,3500.9 L856.0,3500.1 L858.9,3499.2 L861.9,3498.3 L864.9,3497.3 L867.8,3496.3 L870.8,3495.2 L873.7,3494.1 L876.7,3492.9 L879.7,3491.7 L882.6,3490.5 L885.6,3489.2 L888.6,3487.8 L891.5,3486.4 L894.5,3484.9 L897.4,3483.4 L900.4,3481.9 L903.4,3480.3 L906.3,3478.6 L909.3,3476.9 L912.3,3475.1 L915.2,3473.3 L918.2,3471.4 L921.1,3469.4 L924.1,3467.4 L927.1,3465.3 L930.0,3463.2 L933.0,3461.0 L936.0,3458.8 L938.9,3456.5 L941.9,3454.1 L944.8,3451.6 L947.8,3449.1 L950.8,3446.5 L953.7,3443.9 L956.7,3441.1 L959.6,3438.3 L962.6,3435.5 L965.6,3432.5 L968.5,3429.5 L971.5,3426.4 L974.5,3423.2 L977.4,3420.0 L980.4,3416.6 L983.3,3413.2 L986.3,3409.7 L989.3,3406.1 L992.2,3402.4 L995.2,3398.7 L998.2,3394.8 L1001.1,3390.8 L1004.1,3386.8 L1007.0,3382.6 L1010.0,3378.4 L1013.0,3374.0 L1015.9,3369.6 L1018.9,3365.0 L1021.8,3360.3 L1024.8,3355.5 L1027.0,3351.9 L1027.8,3350.7 L1030.7,3345.6 L1033.7,3340.5 L1036.7,3335.3 L1039.6,3329.9 L1042.6,3324.4 L1045.5,3318.8 L1048.5,3313.1 L1051.5,3307.2 L1052.6,3305.0 L1054.4,3301.3 L1057.4,3295.5 L1060.4,3290.0 L1063.3,3284.6 L1066.3,3279.5 L1069.2,3274.5 L1072.2,3269.8 L1075.2,3265.2 L1078.1,3260.7 L1081.1,3256.5 L1084.0,3252.4 L1087.0,3248.5 L1090.0,3244.7 L1092.9,3241.0 L1095.9,3237.5 L1098.9,3234.2 L1101.8,3231.0 L1104.8,3227.9 L1107.7,3224.9 L1110.7,3222.0 L1113.7,3219.3 L1116.6,3216.7 L1119.6,3214.2 L1122.6,3211.8 L1125.5,3209.5 L1128.5,3207.3 L1131.4,3205.2 L1134.4,3203.2 L1137.4,3201.3 L1140.3,3199.5 L1143.3,3197.8 L1146.3,3196.2 L1149.2,3194.7 L1152.2,3193.2 L1155.1,3191.8 L1158.1,3190.5 L1161.1,3189.3 L1164.0,3188.2 L1167.0,3187.1 L1169.9,3186.2 L1172.9,3185.3 L1175.9,3184.4 L1178.8,3183.7 L1181.8,3183.0 L1184.8,3182.3 L1187.7,3181.8 L1190.7,3181.3 L1193.6,3180.9 L1196.6,3180.5 L1199.6,3180.2 L1202.5,3180.0 L1205.5,3179.9 L1208.5,3179.8 L1211.4,3179.8 L1214.4,3179.8 L1217.3,3179.9 L1220.3,3180.1 L1223.3,3180.4 L1226.2,3180.7 L1229.2,3181.1 L1232.2,3181.5 L1235.1,3182.0 L1238.1,3182.6 L1241.0,3183.3 L1244.0,3184.0 L1247.0,3184.8 L1249.9,3185.6 L1252.9,3186.6 L1255.8,3187.6 L1258.8,3188.7 L1261.8,3189.8 L1264.7,3191.1 L1267.7,3192.4 L1270.7,3193.8 L1273.6,3195.3 L1276.6,3196.9 L1279.5,3198.6 L1282.5,3200.3 L1285.5,3202.1 L1288.4,3204.1 L1291.4,3206.1 L1292.4,3206.9 L1294.4,3208.2 L1297.3,3210.3 L1300.3,3212.2 L1303.2,3214.1 L1306.2,3216.0 L1309.2,3217.8 L1312.1,3219.5 L1315.1,3221.2 L1318.0,3222.8 L1321.0,3224.4 L1324.0,3225.9 L1326.9,3227.3 L1329.9,3228.7 L1332.9,3230.0 L1335.8,3231.3 L1338.8,3232.5 L1341.7,3233.7 L1344.7,3234.8 L1347.7,3235.9 L1350.6,3236.9 L1353.6,3237.9 L1356.6,3238.8 L1359.5,3239.7 L1362.5,3240.5 L1365.4,3241.3 L1368.4,3242.0 L1371.4,3242.7 L1374.3,3243.4 L1377.3,3244.0 L1380.2,3244.5 L1383.2,3245.0 L1386.2,3245.5 L1389.1,3245.9 L1392.1,3246.2 L1395.1,3246.6 L1398.0,3246.9 L1401.0,3247.1 L1403.9,3247.3 L1406.9,3247.4 L1409.9,3247.5 L1412.8,3247.6 L1415.8,3247.6 L1418.8,3247.6 L1421.7,3247.5 L1424.7,3247.4 L1427.6,3247.2 L1430.6,3247.0 L1433.6,3246.8 L1436.5,3246.5 L1439.5,3246.1 L1442.5,3245.8 L1445.4,3245.3 L1448.4,3244.9 L1451.3,3244.3 L1454.3,3243.8 L1457.3,3243.2 L1460.2,3242.5 L1463.2,3241.8 L1466.1,3241.1 L1469.1,3240.3 L1472.1,3239.4 L1475.0,3238.5 L1478.0,3237.6 L1481.0,3236.6 L1483.9,3235.6 L1486.9,3234.5 L1489.8,3233.3 L1492.8,3232.1 L1495.8,3230.9 L1498.7,3229.6 L1501.7,3228.3 L1504.7,3226.8 L1507.6,3225.4 L1510.6,3223.9 L1513.5,3222.3 L1516.5,3220.7 L1519.5,3219.0 L1522.4,3217.2 L1525.4,3215.4 L1528.3,3213.5 L1531.3,3211.6 L1534.3,3209.6 L1537.2,3207.6 L1540.2,3205.4 L1543.2,3203.2 L1546.1,3201.0 L1549.1,3198.6 L1552.0,3196.2 L1555.0,3193.8 L1558.0,3191.2 L1560.9,3188.6 L1563.9,3185.9 L1566.9,3183.1 L1569.8,3180.3 L1572.8,3177.3 L1575.7,3174.3 L1578.7,3171.2 L1581.7,3168.0 L1584.6,3164.8 L1587.6,3161.4 L1590.6,3157.9 L1593.5,3154.4 L1596.5,3150.7 L1599.4,3147.0 L1602.4,3143.2 L1605.4,3139.2 L1608.3,3135.2 L1611.3,3131.0 L1614.2,3126.8 L1617.2,3122.4 L1620.2,3117.9 L1623.1,3113.4 L1626.1,3108.6 L1629.1,3103.8 L1632.0,3098.9 L1635.0,3093.8 L1637.9,3088.6 L1640.9,3083.3 L1643.9,3077.8 L1646.8,3072.2 L1649.8,3066.4 L1652.8,3060.5 L1655.7,3054.5 L1658.7,3048.3 L1661.6,3042.0 L1664.6,3035.5 L1667.6,3028.8 L1670.5,3022.0 L1673.5,3015.0 L1676.5,3007.9 L1679.4,3000.6 L1682.4,2993.1 L1685.3,2985.4 L1688.3,2977.5 L1691.3,2969.4 L1694.2,2961.1 L1697.2,2952.7 L1700.1,2944.0 L1703.1,2935.1 L1706.1,2926.0 L1709.0,2916.7 L1712.0,2907.2 L1715.0,2897.4 L1717.9,2887.4 L1720.9,2877.1 L1723.8,2866.6 L1726.8,2855.9 L1729.8,2844.9 L1732.7,2833.6 L1735.7,2822.1 L1738.7,2810.3 L1741.6,2798.2 L1744.6,2785.8 L1747.5,2773.1 L1750.5,2760.1" fill="none" stroke="#000" stroke-width="6.90" stroke-linecap="round" stroke-linejoin="round" stroke-dasharray="34.3 26.1" clip-path="url(#cc)"/>
<path d="M413.9,3508.8 L417.6,3508.8 L420.6,3508.8 L423.5,3508.8 L426.5,3508.8 L429.4,3508.8 L432.4,3508.8 L435.4,3508.8 L438.3,3508.8 L441.3,3508.8 L444.3,3508.8 L447.2,3508.8 L450.2,3508.8 L453.1,3508.8 L456.1,3508.8 L459.1,3508.8 L462.0,3508.8 L465.0,3508.8 L468.0,3508.8 L470.9,3508.8 L473.9,3508.8 L476.8,3508.8 L479.8,3508.8 L482.8,3508.8 L485.7,3508.8 L488.7,3508.8 L491.6,3508.8 L494.6,3508.8 L497.6,3508.8 L500.5,3508.8 L503.5,3508.8 L506.5,3508.8 L509.4,3508.8 L512.4,3508.8 L515.3,3508.8 L518.3,3508.8 L521.3,3508.8 L524.2,3508.8 L527.2,3508.8 L530.2,3508.8 L533.1,3508.8 L536.1,3508.8 L539.0,3508.8 L542.0,3508.8 L545.0,3508.8 L547.9,3508.8 L550.9,3508.8 L553.9,3508.8 L556.8,3508.8 L559.8,3508.8 L562.7,3508.8 L565.7,3508.8 L568.7,3508.8 L571.6,3508.8 L574.6,3508.8 L577.5,3508.8 L580.5,3508.8 L583.5,3508.8 L586.4,3508.8 L589.4,3508.8 L592.4,3508.8 L595.3,3508.8 L598.3,3508.8 L601.2,3508.8 L604.2,3508.8 L607.2,3508.8 L610.1,3508.8 L613.1,3508.8 L616.1,3508.8 L619.0,3508.8 L622.0,3508.8 L624.9,3508.8 L627.9,3508.8 L630.9,3508.8 L633.8,3508.8 L636.8,3508.8 L639.8,3508.8 L642.7,3508.8 L645.7,3508.8 L648.6,3508.8 L651.6,3508.8 L654.6,3508.8 L657.5,3508.8 L660.5,3508.8 L663.4,3508.8 L666.4,3508.8 L669.4,3508.8 L672.3,3508.8 L675.3,3508.8 L678.3,3508.8 L681.2,3508.8 L684.2,3508.8 L687.1,3508.8 L690.1,3508.8 L693.1,3508.8 L696.0,3508.8 L699.0,3508.8 L702.0,3508.8 L704.9,3508.8 L707.9,3508.8 L710.8,3508.8 L713.8,3508.8 L716.8,3508.8 L719.7,3508.8 L722.7,3508.8 L725.6,3508.8 L728.6,3508.8 L731.6,3508.8 L734.5,3508.8 L737.5,3508.8 L740.5,3508.8 L743.4,3508.8 L746.4,3508.8 L748.8,3508.8 L749.3,3508.8 L752.3,3508.8 L755.3,3508.7 L758.2,3508.6 L761.2,3508.4 L764.2,3508.3 L767.1,3508.0 L770.1,3507.7 L773.0,3507.4 L776.0,3507.1 L779.0,3506.7 L781.9,3506.2 L784.9,3505.7 L787.9,3505.2 L790.8,3504.6 L793.8,3504.0 L796.7,3503.3 L799.7,3502.6 L802.7,3501.9 L805.6,3501.1 L808.6,3500.2 L811.5,3499.3 L814.5,3498.4 L817.5,3497.4 L820.4,3496.4 L823.4,3495.3 L826.4,3494.2 L829.3,3493.0 L832.3,3491.8 L835.2,3490.5 L838.2,3489.2 L841.2,3487.9 L844.1,3486.4 L847.1,3485.0 L850.1,3483.4 L853.0,3481.8 L856.0,3480.2 L858.9,3478.5 L861.9,3476.8 L864.9,3475.0 L867.8,3473.1 L870.8,3471.2 L873.7,3469.2 L876.7,3467.1 L879.7,3465.0 L882.6,3462.9 L885.6,3460.6 L888.6,3458.3 L891.5,3456.0 L894.5,3453.5 L897.4,3451.0 L900.4,3448.5 L903.4,3445.8 L906.3,3443.1 L909.3,3440.3 L912.3,3437.5 L915.2,3434.5 L918.2,3431.5 L921.1,3428.4 L924.1,3425.2 L927.1,3422.0 L930.0,3418.6 L933.0,3415.2 L936.0,3411.7 L938.9,3408.1 L941.9,3404.4 L944.8,3400.6 L947.8,3396.7 L950.8,3392.7 L953.7,3388.6 L954.8,3387.1 L956.7,3384.5 L959.6,3380.2 L962.6,3375.8 L965.6,3371.3 L968.5,3366.7 L971.5,3362.0 L974.5,3357.1 L977.4,3352.2 L980.4,3347.1 L983.3,3342.0 L986.3,3336.7 L988.1,3333.4 L989.3,3331.3 L992.2,3326.0 L995.2,3320.8 L998.2,3315.9 L1001.1,3311.1 L1004.1,3306.4 L1007.0,3301.9 L1010.0,3297.6 L1013.0,3293.4 L1015.9,3289.3 L1018.9,3285.4 L1021.8,3281.6 L1024.8,3277.9 L1027.8,3274.3 L1030.7,3270.9 L1033.7,3267.6 L1036.7,3264.4 L1039.6,3261.3 L1042.6,3258.3 L1045.5,3255.4 L1048.5,3252.6 L1051.5,3249.9 L1054.4,3247.4 L1057.4,3244.9 L1060.4,3242.5 L1063.3,3240.2 L1066.3,3238.0 L1069.2,3235.8 L1072.2,3233.8 L1075.2,3231.9 L1078.1,3230.0 L1081.1,3228.2 L1084.0,3226.5 L1087.0,3224.8 L1090.0,3223.2 L1092.9,3221.8 L1095.9,3220.3 L1098.9,3219.0 L1101.8,3217.7 L1104.8,3216.5 L1107.7,3215.3 L1110.7,3214.3 L1113.7,3213.2 L1116.6,3212.3 L1119.6,3211.4 L1122.6,3210.6 L1125.5,3209.8 L1128.5,3209.1 L1131.4,3208.5 L1134.4,3207.9 L1137.4,3207.3 L1140.3,3206.9 L1143.3,3206.5 L1146.3,3206.1 L1149.2,3205.8 L1152.2,3205.6 L1155.1,3205.4 L1158.1,3205.3 L1161.1,3205.2 L1164.0,3205.2 L1167.0,3205.3 L1169.9,3205.4 L1172.9,3205.5 L1175.9,3205.8 L1178.8,3206.0 L1181.8,3206.4 L1184.8,3206.8 L1187.7,3207.2 L1190.7,3207.7 L1193.6,3208.3 L1196.6,3208.9 L1199.6,3209.6 L1202.5,3210.4 L1205.5,3211.2 L1208.5,3212.0 L1211.4,3213.0 L1214.4,3214.0 L1217.3,3215.0 L1220.3,3216.2 L1223.3,3217.4 L1226.2,3218.6 L1229.2,3220.0 L1232.2,3221.4 L1235.1,3222.8 L1238.1,3224.4 L1241.0,3226.0 L1244.0,3227.7 L1247.0,3229.5 L1249.2,3230.9 L1249.9,3231.3 L1252.9,3233.3 L1255.8,3235.3 L1256.4,3235.6 L1258.8,3237.3 L1261.8,3239.3 L1264.7,3241.3 L1267.7,3243.1 L1270.7,3245.0 L1273.6,3246.7 L1276.6,3248.4 L1279.5,3250.1 L1282.5,3251.7 L1285.5,3253.3 L1288.4,3254.8 L1291.4,3256.2 L1294.4,3257.6 L1297.3,3259.0 L1300.3,3260.3 L1303.2,3261.5 L1306.2,3262.7 L1309.2,3263.9 L1312.1,3265.0 L1315.1,3266.0 L1318.0,3267.1 L1321.0,3268.0 L1324.0,3268.9 L1326.9,3269.8 L1329.9,3270.7 L1332.9,3271.5 L1335.8,3272.2 L1338.8,3272.9 L1341.7,3273.6 L1344.7,3274.2 L1347.7,3274.8 L1350.6,3275.3 L1353.6,3275.8 L1356.6,3276.3 L1359.5,3276.7 L1362.5,3277.0 L1365.4,3277.4 L1368.4,3277.7 L1371.4,3277.9 L1374.3,3278.1 L1377.3,3278.3 L1380.2,3278.4 L1383.2,3278.5 L1386.2,3278.6 L1389.1,3278.6 L1392.1,3278.5 L1395.1,3278.5 L1398.0,3278.3 L1401.0,3278.2 L1403.9,3278.0 L1406.9,3277.8 L1409.9,3277.5 L1412.8,3277.2 L1415.8,3276.8 L1418.8,3276.4 L1421.7,3276.0 L1424.7,3275.5 L1427.6,3275.0 L1430.6,3274.4 L1433.6,3273.8 L1436.5,3273.2 L1439.5,3272.5 L1442.5,3271.7 L1445.4,3271.0 L1448.4,3270.1 L1451.3,3269.3 L1454.3,3268.4 L1457.3,3267.4 L1460.2,3266.4 L1463.2,3265.4 L1466.1,3264.3 L1469.1,3263.1 L1472.1,3262.0 L1475.0,3260.7 L1478.0,3259.4 L1481.0,3258.1 L1483.9,3256.7 L1486.9,3255.3 L1489.8,3253.8 L1492.8,3252.3 L1495.8,3250.7 L1498.7,3249.1 L1501.7,3247.4 L1504.7,3245.6 L1507.6,3243.8 L1510.6,3242.0 L1513.5,3240.0 L1516.5,3238.1 L1519.5,3236.0 L1522.4,3233.9 L1525.4,3231.8 L1528.3,3229.6 L1531.3,3227.3 L1534.3,3225.0 L1537.2,3222.5 L1540.2,3220.1 L1543.2,3217.5 L1546.1,3214.9 L1549.1,3212.3 L1552.0,3209.5 L1555.0,3206.7 L1558.0,3203.8 L1560.9,3200.8 L1563.9,3197.8 L1566.9,3194.7 L1569.8,3191.5 L1572.8,3188.2 L1575.7,3184.8 L1578.7,3181.4 L1581.7,3177.8 L1584.6,3174.2 L1587.6,3170.5 L1590.6,3166.7 L1593.5,3162.8 L1596.5,3158.8 L1599.4,3154.8 L1602.4,3150.6 L1605.4,3146.3 L1608.3,3141.9 L1611.3,3137.5 L1614.2,3132.9 L1617.2,3128.2 L1620.2,3123.4 L1623.1,3118.5 L1626.1,3113.5 L1629.1,3108.3 L1632.0,3103.1 L1635.0,3097.7 L1637.9,3092.2 L1640.9,3086.5 L1643.9,3080.8 L1646.8,3074.9 L1649.8,3068.9 L1652.8,3062.7 L1655.7,3056.4 L1658.7,3049.9 L1661.6,3043.4 L1664.6,3036.6 L1667.6,3029.7 L1670.5,3022.7 L1673.5,3015.5 L1676.5,3008.1 L1679.4,3000.6 L1682.4,2992.9 L1685.3,2985.0 L1688.3,2977.0 L1691.3,2968.7 L1694.2,2960.3 L1697.2,2951.7 L1700.1,2943.0 L1703.1,2934.0 L1706.1,2924.8 L1709.0,2915.4 L1712.0,2905.8 L1715.0,2896.0 L1717.9,2886.0 L1720.9,2875.8 L1723.8,2865.3 L1726.8,2854.6 L1729.8,2843.7 L1732.7,2832.5 L1735.7,2821.1 L1738.7,2809.4 L1741.6,2797.5 L1744.6,2785.3 L1747.5,2772.8 L1750.5,2760.1" fill="none" stroke="#000" stroke-width="7.10" stroke-linecap="round" stroke-linejoin="round" clip-path="url(#cc)"/>
<path d="M1153.7,3280.8 L1154.2,3279.2 L1155.1,3276.9 L1158.1,3269.3 L1161.1,3262.1 L1164.0,3255.2 L1167.0,3248.6 L1169.9,3242.3 L1172.9,3236.2 L1175.9,3230.4 L1178.8,3224.9 L1181.8,3219.6 L1184.8,3214.5 L1187.7,3209.6 L1190.7,3205.0 L1193.6,3200.6 L1196.6,3196.4 L1199.6,3192.3 L1202.5,3188.5 L1205.5,3184.8 L1208.5,3181.3 L1211.4,3178.0 L1214.4,3174.8 L1217.3,3171.8 L1220.3,3168.9 L1223.3,3166.2 L1226.2,3163.6 L1229.2,3161.2 L1232.2,3158.8 L1235.1,3156.6 L1238.1,3154.5 L1241.0,3152.6 L1244.0,3150.7 L1247.0,3149.0 L1249.9,3147.3 L1252.9,3145.8 L1255.8,3144.4 L1258.8,3143.0 L1261.8,3141.8 L1264.7,3140.7 L1267.7,3139.6 L1270.7,3138.6 L1273.6,3137.8 L1276.6,3137.0 L1279.5,3136.3 L1282.5,3135.7 L1285.5,3135.1 L1288.4,3134.7 L1291.4,3134.3 L1294.4,3134.0 L1297.3,3133.8 L1300.3,3133.7 L1303.2,3133.6 L1306.2,3133.6 L1309.2,3133.7 L1312.1,3133.9 L1315.1,3134.2 L1318.0,3134.5 L1321.0,3135.0 L1324.0,3135.5 L1326.9,3136.1 L1329.9,3136.7 L1332.9,3137.5 L1335.8,3138.3 L1338.8,3139.3 L1341.7,3140.3 L1344.7,3141.4 L1347.7,3142.6 L1350.6,3143.9 L1353.6,3145.3 L1356.6,3146.8 L1359.5,3148.4 L1362.5,3150.1 L1365.4,3151.9 L1366.9,3152.9" fill="none" stroke="#0000ff" stroke-width="17.60" stroke-linecap="round" stroke-linejoin="round" clip-path="url(#cc)"/>
<path d="M1092.2,3315.1 L1092.9,3313.4 L1095.9,3306.5 L1098.9,3299.5 L1099.5,3298.1 L1101.8,3292.4 L1104.8,3285.6 L1107.7,3279.1 L1110.7,3272.8 L1113.7,3266.8 L1116.6,3261.0 L1119.6,3255.4 L1122.6,3250.1 L1125.5,3245.0 L1128.5,3240.1 L1131.4,3235.4 L1134.4,3230.9 L1137.4,3226.6 L1140.3,3222.4 L1143.3,3218.5 L1146.3,3214.7 L1149.2,3211.0 L1152.2,3207.5 L1155.1,3204.2 L1158.1,3201.0 L1161.1,3198.0 L1164.0,3195.1 L1167.0,3192.3 L1169.9,3189.7 L1172.9,3187.2 L1175.9,3184.8 L1178.8,3182.5 L1181.8,3180.3 L1184.8,3178.3 L1187.7,3176.3 L1190.7,3174.5 L1193.6,3172.7 L1196.6,3171.1 L1199.6,3169.5 L1202.5,3168.1 L1205.5,3166.7 L1208.5,3165.4 L1211.4,3164.2 L1214.4,3163.1 L1217.3,3162.1 L1220.3,3161.2 L1223.3,3160.3 L1226.2,3159.5 L1229.2,3158.8 L1232.2,3158.2 L1235.1,3157.7 L1238.1,3157.2 L1241.0,3156.8 L1244.0,3156.5 L1247.0,3156.2 L1249.9,3156.1 L1252.9,3156.0 L1255.8,3155.9 L1258.8,3156.0 L1261.8,3156.1 L1264.7,3156.3 L1267.7,3156.6 L1270.7,3156.9 L1273.6,3157.3 L1276.6,3157.8 L1279.5,3158.4 L1282.5,3159.0 L1285.5,3159.7 L1288.4,3160.5 L1291.4,3161.4 L1294.4,3162.4 L1297.3,3163.4 L1300.3,3164.5 L1303.2,3165.7 L1306.2,3167.0 L1309.2,3168.4 L1312.1,3169.9 L1315.1,3171.5 L1318.0,3173.2 L1321.0,3174.9 L1324.0,3176.8 L1326.9,3178.8 L1329.5,3180.6 L1329.9,3180.9" fill="none" stroke="#0000ff" stroke-width="17.60" stroke-linecap="round" stroke-linejoin="round" clip-path="url(#cc)"/>
<path d="M1027.0,3351.9 L1027.8,3350.7 L1030.7,3345.6 L1033.7,3340.5 L1036.7,3335.3 L1039.6,3329.9 L1042.6,3324.4 L1045.5,3318.8 L1048.5,3313.1 L1051.5,3307.2 L1052.6,3305.0 L1054.4,3301.3 L1057.4,3295.5 L1060.4,3290.0 L1063.3,3284.6 L1066.3,3279.5 L1069.2,3274.5 L1072.2,3269.8 L1075.2,3265.2 L1078.1,3260.7 L1081.1,3256.5 L1084.0,3252.4 L1087.0,3248.5 L1090.0,3244.7 L1092.9,3241.0 L1095.9,3237.5 L1098.9,3234.2 L1101.8,3231.0 L1104.8,3227.9 L1107.7,3224.9 L1110.7,3222.0 L1113.7,3219.3 L1116.6,3216.7 L1119.6,3214.2 L1122.6,3211.8 L1125.5,3209.5 L1128.5,3207.3 L1131.4,3205.2 L1134.4,3203.2 L1137.4,3201.3 L1140.3,3199.5 L1143.3,3197.8 L1146.3,3196.2 L1149.2,3194.7 L1152.2,3193.2 L1155.1,3191.8 L1158.1,3190.5 L1161.1,3189.3 L1164.0,3188.2 L1167.0,3187.1 L1169.9,3186.2 L1172.9,3185.3 L1175.9,3184.4 L1178.8,3183.7 L1181.8,3183.0 L1184.8,3182.3 L1187.7,3181.8 L1190.7,3181.3 L1193.6,3180.9 L1196.6,3180.5 L1199.6,3180.2 L1202.5,3180.0 L1205.5,3179.9 L1208.5,3179.8 L1211.4,3179.8 L1214.4,3179.8 L1217.3,3179.9 L1220.3,3180.1 L1223.3,3180.4 L1226.2,3180.7 L1229.2,3181.1 L1232.2,3181.5 L1235.1,3182.0 L1238.1,3182.6 L1241.0,3183.3 L1244.0,3184.0 L1247.0,3184.8 L1249.9,3185.6 L1252.9,3186.6 L1255.8,3187.6 L1258.8,3188.7 L1261.8,3189.8 L1264.7,3191.1 L1267.7,3192.4 L1270.7,3193.8 L1273.6,3195.3 L1276.6,3196.9 L1279.5,3198.6 L1282.5,3200.3 L1285.5,3202.1 L1288.4,3204.1 L1291.4,3206.1" fill="none" stroke="#0000ff" stroke-width="17.60" stroke-linecap="round" stroke-linejoin="round" clip-path="url(#cc)"/>
<path d="M954.8,3387.1 L956.7,3384.5 L959.6,3380.2 L962.6,3375.8 L965.6,3371.3 L968.5,3366.7 L971.5,3362.0 L974.5,3357.1 L977.4,3352.2 L980.4,3347.1 L983.3,3342.0 L986.3,3336.7 L988.1,3333.4 L989.3,3331.3 L992.2,3326.0 L995.2,3320.8 L998.2,3315.9 L1001.1,3311.1 L1004.1,3306.4 L1007.0,3301.9 L1010.0,3297.6 L1013.0,3293.4 L1015.9,3289.3 L1018.9,3285.4 L1021.8,3281.6 L1024.8,3277.9 L1027.8,3274.3 L1030.7,3270.9 L1033.7,3267.6 L1036.7,3264.4 L1039.6,3261.3 L1042.6,3258.3 L1045.5,3255.4 L1048.5,3252.6 L1051.5,3249.9 L1054.4,3247.4 L1057.4,3244.9 L1060.4,3242.5 L1063.3,3240.2 L1066.3,3238.0 L1069.2,3235.8 L1072.2,3233.8 L1075.2,3231.9 L1078.1,3230.0 L1081.1,3228.2 L1084.0,3226.5 L1087.0,3224.8 L1090.0,3223.2 L1092.9,3221.8 L1095.9,3220.3 L1098.9,3219.0 L1101.8,3217.7 L1104.8,3216.5 L1107.7,3215.3 L1110.7,3214.3 L1113.7,3213.2 L1116.6,3212.3 L1119.6,3211.4 L1122.6,3210.6 L1125.5,3209.8 L1128.5,3209.1 L1131.4,3208.5 L1134.4,3207.9 L1137.4,3207.3 L1140.3,3206.9 L1143.3,3206.5 L1146.3,3206.1 L1149.2,3205.8 L1152.2,3205.6 L1155.1,3205.4 L1158.1,3205.3 L1161.1,3205.2 L1164.0,3205.2 L1167.0,3205.3 L1169.9,3205.4 L1172.9,3205.5 L1175.9,3205.8 L1178.8,3206.0 L1181.8,3206.4 L1184.8,3206.8 L1187.7,3207.2 L1190.7,3207.7 L1193.6,3208.3 L1196.6,3208.9 L1199.6,3209.6 L1202.5,3210.4 L1205.5,3211.2 L1208.5,3212.0 L1211.4,3213.0 L1214.4,3214.0 L1217.3,3215.0 L1220.3,3216.2 L1223.3,3217.4 L1226.2,3218.6 L1229.2,3220.0 L1232.2,3221.4 L1235.1,3222.8 L1238.1,3224.4 L1241.0,3226.0 L1244.0,3227.7 L1247.0,3229.5 L1249.2,3230.9" fill="none" stroke="#0000ff" stroke-width="17.60" stroke-linecap="round" stroke-linejoin="round" clip-path="url(#cc)"/>
<path d="M413.9,3441.2 L417.6,3441.2 L420.6,3441.2 L423.5,3441.2 L426.5,3441.2 L429.4,3441.2 L432.4,3441.2 L435.4,3441.2 L438.3,3441.2 L441.3,3441.2 L444.3,3441.2 L447.2,3441.2 L450.2,3441.2 L453.1,3441.2 L456.1,3441.2 L459.1,3441.2 L462.0,3441.2 L465.0,3441.2 L468.0,3441.2 L470.9,3441.2 L473.9,3441.2 L476.8,3441.2 L479.8,3441.2 L482.8,3441.2 L485.7,3441.2 L488.7,3441.2 L491.6,3441.2 L494.6,3441.2 L497.6,3441.2 L500.5,3441.2 L503.5,3441.2 L506.5,3441.2 L509.4,3441.2 L512.4,3441.2 L515.3,3441.2 L518.3,3441.2 L521.3,3441.2 L524.2,3441.2 L527.2,3441.2 L530.2,3441.2 L533.1,3441.2 L536.1,3441.2 L539.0,3441.2 L542.0,3441.2 L545.0,3441.2 L547.9,3441.2 L550.9,3441.2 L553.9,3441.2 L556.8,3441.2 L559.8,3441.2 L562.7,3441.2 L565.7,3441.2 L568.7,3441.2 L571.6,3441.2 L574.6,3441.2 L577.5,3441.2 L580.5,3441.2 L583.5,3441.2 L586.4,3441.2 L589.4,3441.2 L592.4,3441.2 L595.3,3441.2 L598.3,3441.2 L601.2,3441.2 L604.2,3441.2 L607.2,3441.2 L610.1,3441.2 L613.1,3441.2 L616.1,3441.2 L619.0,3441.2 L622.0,3441.2 L624.9,3441.2 L627.9,3441.2 L630.9,3441.2 L633.8,3441.2 L636.8,3441.2 L639.8,3441.2 L642.7,3441.2 L645.7,3441.2 L648.6,3441.2 L651.6,3441.2 L654.6,3441.2 L657.5,3441.2 L660.5,3441.2 L663.4,3441.2 L666.4,3441.2 L669.4,3441.2 L672.3,3441.2 L675.3,3441.2 L678.3,3441.2 L681.2,3441.2 L684.2,3441.2 L687.1,3441.2 L690.1,3441.2 L693.1,3441.2 L696.0,3441.2 L699.0,3441.2 L702.0,3441.2 L704.9,3441.2 L707.9,3441.2 L710.8,3441.2 L713.8,3441.2 L716.8,3441.2 L719.7,3441.2 L722.7,3441.2 L725.6,3441.2 L728.6,3441.2 L731.6,3441.2 L734.5,3441.2 L737.5,3441.2 L740.5,3441.2 L743.4,3441.2 L746.4,3441.2 L749.3,3441.2 L752.3,3441.2 L755.3,3441.2 L758.2,3441.2 L761.2,3441.2 L764.2,3441.2 L767.1,3441.2 L770.1,3441.2 L773.0,3441.2 L776.0,3441.2 L779.0,3441.2 L781.9,3441.2 L784.9,3441.2 L787.9,3441.2 L790.8,3441.2 L793.8,3441.2 L796.7,3441.2 L799.7,3441.2 L802.7,3441.2 L805.6,3441.2 L808.6,3441.2 L811.5,3441.2 L814.5,3441.2 L817.5,3441.2 L820.4,3441.2 L823.4,3441.2 L826.4,3441.2 L829.3,3441.2 L832.3,3441.2 L835.2,3441.2 L838.2,3441.2 L841.2,3441.2 L844.1,3441.2 L847.1,3441.2 L850.1,3441.2 L853.0,3441.2 L856.0,3441.2 L858.9,3441.2 L861.9,3441.2 L864.9,3441.2 L867.8,3441.2 L870.8,3441.2 L873.7,3441.2 L876.7,3441.2 L879.7,3441.2 L882.6,3441.2 L885.6,3441.2 L888.6,3441.2 L891.5,3441.2 L894.5,3441.2 L897.4,3441.2 L900.4,3441.2 L903.4,3441.2 L906.3,3441.2 L909.3,3441.2 L912.3,3441.2 L915.2,3441.2 L916.7,3441.2 L918.2,3441.2 L919.7,3441.2 L921.1,3441.2 L922.6,3441.1 L924.1,3441.0 L925.6,3440.9 L927.1,3440.8 L928.5,3440.7 L930.0,3440.5 L931.5,3440.4 L933.0,3440.2 L934.5,3440.0 L936.0,3439.7 L937.4,3439.5 L938.9,3439.2 L940.4,3439.0 L941.9,3438.7 L943.4,3438.4 L944.8,3438.0 L946.3,3437.7 L947.8,3437.3 L949.3,3436.9 L950.8,3436.5 L952.2,3436.1 L953.7,3435.6 L955.2,3435.2 L956.7,3434.7 L958.2,3434.2 L959.6,3433.7 L961.1,3433.1 L962.6,3432.6 L964.1,3432.0 L965.6,3431.4 L967.1,3430.8 L968.5,3430.2 L970.0,3429.5 L971.5,3428.8 L973.0,3428.1 L974.5,3427.4 L975.9,3426.7 L977.4,3425.9 L978.9,3425.2 L980.4,3424.4 L981.9,3423.6 L983.3,3422.7 L984.8,3421.9 L986.3,3421.0 L987.8,3420.1 L989.3,3419.2 L990.7,3418.2 L992.2,3417.2 L993.7,3416.2 L995.2,3415.2 L996.7,3414.2 L998.2,3413.1 L999.6,3412.1 L1001.1,3411.0 L1002.6,3409.8 L1004.1,3408.7 L1005.6,3407.5 L1007.0,3406.3 L1010.0,3403.9 L1013.0,3401.3 L1015.9,3398.6 L1018.9,3395.9 L1021.8,3393.0 L1024.8,3390.0 L1027.8,3387.0 L1030.7,3383.8 L1033.7,3380.5 L1036.7,3377.1 L1039.6,3373.5 L1042.6,3369.9 L1045.5,3366.1 L1048.5,3362.2 L1051.5,3358.2 L1054.4,3354.0 L1057.4,3349.7 L1060.4,3345.3 L1063.3,3340.7 L1066.3,3336.0 L1069.2,3331.2 L1072.2,3326.1 L1075.2,3321.0 L1078.1,3315.7 L1081.1,3310.2 L1084.0,3304.6 L1087.0,3298.7 L1090.0,3292.8 L1092.9,3286.6 L1095.9,3280.3 L1098.9,3273.7 L1101.8,3267.0 L1104.8,3260.1 L1107.7,3253.0 L1110.7,3245.7 L1113.7,3238.1 L1116.6,3230.4 L1119.6,3222.4 L1122.6,3214.2 L1125.5,3205.8 L1128.5,3197.1 L1131.4,3188.2 L1134.4,3179.0 L1137.4,3169.6 L1140.3,3159.9 L1143.3,3149.9 L1146.3,3139.7 L1149.2,3129.2 L1152.2,3118.3 L1153.7,3112.8 L1155.1,3121.5 L1158.1,3138.3 L1161.1,3154.3 L1164.0,3169.8 L1167.0,3184.5 L1169.9,3198.6 L1172.9,3212.2 L1175.9,3225.1 L1178.8,3237.5 L1181.8,3249.4 L1184.8,3260.7 L1187.7,3271.6 L1190.7,3282.0 L1193.6,3291.9 L1196.6,3301.4 L1199.6,3310.5 L1202.5,3319.1 L1205.5,3327.4 L1208.5,3335.3 L1211.4,3342.8 L1214.4,3350.0 L1217.3,3356.8 L1220.3,3363.3 L1223.3,3369.5 L1226.2,3375.4 L1229.2,3381.0 L1232.2,3386.3 L1235.1,3391.3 L1238.1,3396.0 L1241.0,3400.5 L1244.0,3404.8 L1247.0,3408.8 L1249.9,3412.5 L1252.9,3416.1 L1255.8,3419.4 L1258.8,3422.4 L1261.8,3425.3 L1264.7,3428.0 L1267.7,3430.4 L1270.7,3432.7 L1273.6,3434.7 L1276.6,3436.6 L1279.5,3438.3 L1282.5,3439.8 L1285.5,3441.1 L1288.4,3442.2 L1291.4,3443.1 L1294.4,3443.9 L1297.3,3444.5 L1300.3,3444.9 L1303.2,3445.1 L1305.7,3445.2 L1306.2,3445.2 L1309.2,3445.1 L1312.1,3444.8 L1315.1,3444.3 L1318.0,3443.7 L1321.0,3442.9 L1324.0,3441.9 L1326.9,3440.7 L1329.9,3439.4 L1332.9,3437.9 L1335.8,3436.2 L1338.8,3434.3 L1341.7,3432.2 L1344.7,3430.0 L1347.7,3427.5 L1350.6,3424.8 L1353.6,3422.0 L1356.6,3418.9 L1359.5,3415.6 L1362.5,3412.1 L1365.4,3408.3 L1368.4,3404.3 L1368.8,3403.8 L1371.4,3406.1 L1374.3,3408.7 L1377.3,3411.1 L1380.2,3413.5 L1383.2,3415.7 L1386.2,3417.9 L1389.1,3420.0 L1392.1,3422.0 L1395.1,3423.9 L1398.0,3425.7 L1401.0,3427.4 L1403.9,3429.0 L1406.9,3430.6 L1409.9,3432.1 L1412.8,3433.5 L1415.8,3434.8 L1418.8,3436.1 L1421.7,3437.3 L1424.7,3438.4 L1427.6,3439.4 L1430.6,3440.3 L1433.6,3441.2 L1436.5,3442.0 L1439.5,3442.8 L1442.5,3443.4 L1445.4,3444.0 L1448.4,3444.6 L1451.3,3445.0 L1454.3,3445.4 L1457.3,3445.7 L1460.2,3446.0 L1463.2,3446.2 L1466.1,3446.3 L1469.1,3446.3 L1469.9,3446.3 L1472.1,3446.3 L1475.0,3446.2 L1478.0,3446.0 L1481.0,3445.8 L1483.9,3445.5 L1486.9,3445.1 L1489.8,3444.6 L1492.8,3444.0 L1495.8,3443.4 L1498.7,3442.6 L1501.7,3441.8 L1504.7,3440.9 L1507.6,3440.0 L1510.6,3438.9 L1513.5,3437.8 L1516.5,3436.5 L1519.5,3435.2 L1522.4,3433.8 L1525.4,3432.4 L1528.3,3430.8 L1531.3,3429.1 L1534.3,3427.4 L1537.2,3425.5 L1540.2,3423.6 L1543.2,3421.6 L1546.1,3419.4 L1549.1,3417.2 L1552.0,3414.9 L1555.0,3412.4 L1558.0,3409.9 L1560.9,3407.2 L1563.9,3404.5 L1566.9,3401.6 L1569.8,3398.6 L1572.8,3395.5 L1575.7,3392.3 L1578.7,3389.0 L1581.7,3385.5 L1584.6,3381.9 L1587.6,3378.2 L1590.6,3374.4 L1593.5,3370.4 L1596.5,3366.2 L1599.4,3362.0 L1602.4,3357.6 L1605.4,3353.0 L1608.3,3348.3 L1611.3,3343.4 L1614.2,3338.4 L1617.2,3333.2 L1620.2,3327.8 L1623.1,3322.2 L1626.1,3316.5 L1629.1,3310.6 L1632.0,3304.5 L1635.0,3298.2 L1637.9,3291.8 L1640.9,3285.1 L1643.9,3278.2 L1646.8,3271.1 L1649.8,3263.8 L1652.8,3256.2 L1655.7,3248.4 L1658.7,3240.4 L1661.6,3232.2 L1664.6,3223.6 L1667.6,3214.9 L1670.5,3205.8 L1673.5,3196.5 L1676.5,3186.9 L1679.4,3177.1 L1682.4,3166.9 L1685.3,3156.4 L1688.3,3145.6 L1691.3,3134.5 L1694.2,3123.1 L1697.2,3111.3 L1700.1,3099.2 L1703.1,3086.7 L1706.1,3073.9 L1709.0,3060.7 L1712.0,3047.0 L1715.0,3033.0 L1717.9,3018.6 L1720.9,3003.7 L1723.8,2988.5 L1726.8,2972.7 L1729.8,2956.5 L1732.7,2939.9 L1735.7,2922.7 L1738.7,2905.0 L1741.6,2886.9 L1744.6,2868.2 L1747.5,2848.9 L1750.5,2829.1" fill="none" stroke="#0000ff" stroke-width="7.40" stroke-linecap="round" stroke-linejoin="round" stroke-dasharray="0.01 13.87" clip-path="url(#cc)"/>
<path d="M413.9,3432.2 L417.6,3432.2 L420.6,3432.2 L423.5,3432.2 L426.5,3432.2 L429.4,3432.2 L432.4,3432.2 L435.4,3432.2 L438.3,3432.2 L441.3,3432.2 L444.3,3432.2 L447.2,3432.2 L450.2,3432.2 L453.1,3432.2 L456.1,3432.2 L459.1,3432.2 L462.0,3432.2 L465.0,3432.2 L468.0,3432.2 L470.9,3432.2 L473.9,3432.2 L476.8,3432.2 L479.8,3432.2 L482.8,3432.2 L485.7,3432.2 L488.7,3432.2 L491.6,3432.2 L494.6,3432.2 L497.6,3432.2 L500.5,3432.2 L503.5,3432.2 L506.5,3432.2 L509.4,3432.2 L512.4,3432.2 L515.3,3432.2 L518.3,3432.2 L521.3,3432.2 L524.2,3432.2 L527.2,3432.2 L530.2,3432.2 L533.1,3432.2 L536.1,3432.2 L539.0,3432.2 L542.0,3432.2 L545.0,3432.2 L547.9,3432.2 L550.9,3432.2 L553.9,3432.2 L556.8,3432.2 L559.8,3432.2 L562.7,3432.2 L565.7,3432.2 L568.7,3432.2 L571.6,3432.2 L574.6,3432.2 L577.5,3432.2 L580.5,3432.2 L583.5,3432.2 L586.4,3432.2 L589.4,3432.2 L592.4,3432.2 L595.3,3432.2 L598.3,3432.2 L601.2,3432.2 L604.2,3432.2 L607.2,3432.2 L610.1,3432.2 L613.1,3432.2 L616.1,3432.2 L619.0,3432.2 L622.0,3432.2 L624.9,3432.2 L627.9,3432.2 L630.9,3432.2 L633.8,3432.2 L636.8,3432.2 L639.8,3432.2 L642.7,3432.2 L645.7,3432.2 L648.6,3432.2 L651.6,3432.2 L654.6,3432.2 L657.5,3432.2 L660.5,3432.2 L663.4,3432.2 L666.4,3432.2 L669.4,3432.2 L672.3,3432.2 L675.3,3432.2 L678.3,3432.2 L681.2,3432.2 L684.2,3432.2 L687.1,3432.2 L690.1,3432.2 L693.1,3432.2 L696.0,3432.2 L699.0,3432.2 L702.0,3432.2 L704.9,3432.2 L707.9,3432.2 L710.8,3432.2 L713.8,3432.2 L716.8,3432.2 L719.7,3432.2 L722.7,3432.2 L725.6,3432.2 L728.6,3432.2 L731.6,3432.2 L734.5,3432.2 L737.5,3432.2 L740.5,3432.2 L743.4,3432.2 L746.4,3432.2 L749.3,3432.2 L752.3,3432.2 L755.3,3432.2 L758.2,3432.2 L761.2,3432.2 L764.2,3432.2 L767.1,3432.2 L770.1,3432.2 L773.0,3432.2 L776.0,3432.2 L779.0,3432.2 L781.9,3432.2 L784.9,3432.2 L787.9,3432.2 L790.8,3432.2 L793.8,3432.2 L796.7,3432.2 L799.7,3432.2 L802.7,3432.2 L805.6,3432.2 L808.6,3432.2 L811.5,3432.2 L814.5,3432.2 L817.5,3432.2 L820.4,3432.2 L823.4,3432.2 L826.4,3432.2 L829.3,3432.2 L832.3,3432.2 L835.2,3432.2 L838.2,3432.2 L841.2,3432.2 L844.1,3432.2 L847.1,3432.2 L850.1,3432.2 L853.0,3432.2 L856.0,3432.2 L857.5,3432.2 L858.9,3432.2 L860.4,3432.2 L861.9,3432.1 L863.4,3432.1 L864.9,3432.0 L866.3,3431.9 L867.8,3431.8 L869.3,3431.7 L870.8,3431.5 L872.3,3431.4 L873.7,3431.2 L875.2,3431.0 L876.7,3430.8 L878.2,3430.6 L879.7,3430.3 L881.2,3430.1 L882.6,3429.8 L884.1,3429.5 L885.6,3429.2 L887.1,3428.9 L888.6,3428.6 L890.0,3428.2 L891.5,3427.8 L893.0,3427.4 L894.5,3427.0 L896.0,3426.6 L897.4,3426.2 L898.9,3425.7 L900.4,3425.2 L901.9,3424.7 L903.4,3424.2 L904.8,3423.7 L906.3,3423.2 L907.8,3422.6 L909.3,3422.0 L910.8,3421.4 L912.3,3420.8 L913.7,3420.2 L915.2,3419.5 L916.7,3418.8 L918.2,3418.1 L919.7,3417.4 L921.1,3416.7 L922.6,3416.0 L924.1,3415.2 L925.6,3414.4 L927.1,3413.6 L928.5,3412.8 L930.0,3411.9 L931.5,3411.1 L933.0,3410.2 L934.5,3409.3 L936.0,3408.4 L937.4,3407.4 L938.9,3406.5 L940.4,3405.5 L941.9,3404.5 L943.4,3403.5 L944.8,3402.4 L946.3,3401.3 L947.8,3400.3 L950.8,3398.0 L953.7,3395.7 L956.7,3393.3 L959.6,3390.8 L962.6,3388.2 L965.6,3385.5 L968.5,3382.7 L971.5,3379.8 L974.5,3376.9 L977.4,3373.8 L980.4,3370.6 L983.3,3367.3 L986.3,3363.9 L989.3,3360.4 L992.2,3356.8 L995.2,3353.1 L998.2,3349.3 L1001.1,3345.3 L1004.1,3341.2 L1007.0,3337.0 L1010.0,3332.7 L1013.0,3328.3 L1015.9,3323.7 L1018.9,3319.0 L1021.8,3314.1 L1024.8,3309.1 L1027.8,3304.0 L1030.7,3298.7 L1033.7,3293.3 L1036.7,3287.7 L1039.6,3282.0 L1042.6,3276.1 L1045.5,3270.0 L1048.5,3263.8 L1051.5,3257.4 L1054.4,3250.8 L1057.4,3244.0 L1060.4,3237.1 L1063.3,3229.9 L1066.3,3222.6 L1069.2,3215.1 L1072.2,3207.4 L1075.2,3199.4 L1078.1,3191.3 L1081.1,3182.9 L1084.0,3174.4 L1087.0,3165.6 L1090.0,3156.5 L1092.9,3147.2 L1095.9,3137.7 L1098.9,3127.9 L1101.1,3120.4 L1101.8,3124.4 L1104.8,3140.0 L1107.7,3154.9 L1110.7,3169.3 L1113.7,3183.1 L1116.6,3196.4 L1119.6,3209.1 L1122.6,3221.4 L1125.5,3233.1 L1128.5,3244.4 L1131.4,3255.2 L1134.4,3265.5 L1137.4,3275.5 L1140.3,3285.0 L1143.3,3294.1 L1146.3,3302.8 L1149.2,3311.2 L1152.2,3319.2 L1155.1,3326.9 L1158.1,3334.2 L1161.1,3341.2 L1164.0,3347.9 L1167.0,3354.2 L1169.9,3360.3 L1172.9,3366.1 L1175.9,3371.6 L1178.8,3376.8 L1181.8,3381.8 L1184.8,3386.5 L1187.7,3391.0 L1190.7,3395.2 L1193.6,3399.2 L1196.6,3403.0 L1199.6,3406.5 L1202.5,3409.8 L1205.5,3412.9 L1208.5,3415.8 L1211.4,3418.5 L1214.4,3421.0 L1217.3,3423.2 L1220.3,3425.3 L1223.3,3427.2 L1226.2,3428.9 L1229.2,3430.4 L1232.2,3431.7 L1235.1,3432.9 L1238.1,3433.9 L1241.0,3434.6 L1244.0,3435.2 L1247.0,3435.7 L1249.9,3435.9 L1252.6,3436.0 L1252.9,3436.0 L1255.8,3435.9 L1258.8,3435.7 L1261.8,3435.3 L1264.7,3434.8 L1267.7,3434.1 L1270.7,3433.2 L1273.6,3432.3 L1276.6,3431.1 L1279.5,3429.9 L1282.5,3428.4 L1285.5,3426.8 L1288.4,3425.1 L1291.4,3423.2 L1294.4,3421.1 L1297.3,3418.8 L1300.3,3416.4 L1303.2,3413.8 L1306.2,3411.0 L1309.2,3408.1 L1312.1,3404.9 L1315.1,3401.6 L1318.0,3398.1 L1321.0,3394.3 L1324.0,3390.4 L1326.9,3386.2 L1329.7,3382.2 L1329.9,3382.4 L1332.9,3385.5 L1335.8,3388.5 L1338.8,3391.4 L1341.7,3394.2 L1344.7,3396.8 L1347.7,3399.4 L1350.6,3401.9 L1353.6,3404.3 L1356.6,3406.6 L1359.5,3408.7 L1362.5,3410.8 L1365.4,3412.9 L1368.4,3414.8 L1371.4,3416.6 L1374.3,3418.4 L1377.3,3420.0 L1380.2,3421.6 L1383.2,3423.1 L1386.2,3424.5 L1389.1,3425.8 L1392.1,3427.1 L1395.1,3428.2 L1398.0,3429.3 L1401.0,3430.3 L1403.9,3431.2 L1406.9,3432.1 L1409.9,3432.9 L1412.8,3433.6 L1415.8,3434.2 L1418.8,3434.7 L1421.7,3435.2 L1424.7,3435.6 L1427.6,3435.9 L1430.6,3436.2 L1433.6,3436.3 L1436.5,3436.4 L1439.0,3436.5 L1439.5,3436.5 L1442.5,3436.4 L1445.4,3436.3 L1448.4,3436.1 L1451.3,3435.9 L1454.3,3435.5 L1457.3,3435.2 L1460.2,3434.7 L1463.2,3434.2 L1466.1,3433.6 L1469.1,3432.9 L1472.1,3432.2 L1475.0,3431.4 L1478.0,3430.5 L1481.0,3429.6 L1483.9,3428.6 L1486.9,3427.5 L1489.8,3426.3 L1492.8,3425.1 L1495.8,3423.7 L1498.7,3422.4 L1501.7,3420.9 L1504.7,3419.3 L1507.6,3417.7 L1510.6,3416.0 L1513.5,3414.2 L1516.5,3412.4 L1519.5,3410.4 L1522.4,3408.4 L1525.4,3406.3 L1528.3,3404.1 L1531.3,3401.8 L1534.3,3399.4 L1537.2,3396.9 L1540.2,3394.3 L1543.2,3391.6 L1546.1,3388.9 L1549.1,3386.0 L1552.0,3383.0 L1555.0,3380.0 L1558.0,3376.8 L1560.9,3373.5 L1563.9,3370.1 L1566.9,3366.6 L1569.8,3363.0 L1572.8,3359.3 L1575.7,3355.4 L1578.7,3351.5 L1581.7,3347.4 L1584.6,3343.2 L1587.6,3338.8 L1590.6,3334.3 L1593.5,3329.7 L1596.5,3325.0 L1599.4,3320.1 L1602.4,3315.0 L1605.4,3309.8 L1608.3,3304.5 L1611.3,3299.0 L1614.2,3293.4 L1617.2,3287.6 L1620.2,3281.6 L1623.1,3275.4 L1626.1,3269.1 L1629.1,3262.6 L1632.0,3256.0 L1635.0,3249.1 L1637.9,3242.0 L1640.9,3234.8 L1643.9,3227.3 L1646.8,3219.7 L1649.8,3211.8 L1652.8,3203.7 L1655.7,3195.5 L1658.7,3186.9 L1661.6,3178.2 L1664.6,3169.2 L1667.6,3159.9 L1670.5,3150.5 L1673.5,3140.7 L1676.5,3130.7 L1679.4,3120.4 L1682.4,3109.9 L1685.3,3099.1 L1688.3,3088.0 L1691.3,3076.5 L1694.2,3064.8 L1697.2,3052.8 L1700.1,3040.5 L1703.1,3027.8 L1706.1,3014.8 L1709.0,3001.4 L1712.0,2987.7 L1715.0,2973.6 L1717.9,2959.2 L1720.9,2944.4 L1723.8,2929.2 L1726.8,2913.6 L1729.8,2897.5 L1732.7,2881.1 L1735.7,2864.2 L1738.7,2846.9 L1741.6,2829.1 L1744.6,2810.9 L1747.5,2792.2 L1750.5,2773.0" fill="none" stroke="#ff0000" stroke-width="6.90" stroke-linecap="round" stroke-linejoin="round" stroke-dasharray="10.4 11.75" clip-path="url(#cc)"/>
<path d="M413.9,3421.9 L417.6,3421.9 L420.6,3421.9 L423.5,3421.9 L426.5,3421.9 L429.4,3421.9 L432.4,3421.9 L435.4,3421.9 L438.3,3421.9 L441.3,3421.9 L444.3,3421.9 L447.2,3421.9 L450.2,3421.9 L453.1,3421.9 L456.1,3421.9 L459.1,3421.9 L462.0,3421.9 L465.0,3421.9 L468.0,3421.9 L470.9,3421.9 L473.9,3421.9 L476.8,3421.9 L479.8,3421.9 L482.8,3421.9 L485.7,3421.9 L488.7,3421.9 L491.6,3421.9 L494.6,3421.9 L497.6,3421.9 L500.5,3421.9 L503.5,3421.9 L506.5,3421.9 L509.4,3421.9 L512.4,3421.9 L515.3,3421.9 L518.3,3421.9 L521.3,3421.9 L524.2,3421.9 L527.2,3421.9 L530.2,3421.9 L533.1,3421.9 L536.1,3421.9 L539.0,3421.9 L542.0,3421.9 L545.0,3421.9 L547.9,3421.9 L550.9,3421.9 L553.9,3421.9 L556.8,3421.9 L559.8,3421.9 L562.7,3421.9 L565.7,3421.9 L568.7,3421.9 L571.6,3421.9 L574.6,3421.9 L577.5,3421.9 L580.5,3421.9 L583.5,3421.9 L586.4,3421.9 L589.4,3421.9 L592.4,3421.9 L595.3,3421.9 L598.3,3421.9 L601.2,3421.9 L604.2,3421.9 L607.2,3421.9 L610.1,3421.9 L613.1,3421.9 L616.1,3421.9 L619.0,3421.9 L622.0,3421.9 L624.9,3421.9 L627.9,3421.9 L630.9,3421.9 L633.8,3421.9 L636.8,3421.9 L639.8,3421.9 L642.7,3421.9 L645.7,3421.9 L648.6,3421.9 L651.6,3421.9 L654.6,3421.9 L657.5,3421.9 L660.5,3421.9 L663.4,3421.9 L666.4,3421.9 L669.4,3421.9 L672.3,3421.9 L675.3,3421.9 L678.3,3421.9 L681.2,3421.9 L684.2,3421.9 L687.1,3421.9 L690.1,3421.9 L693.1,3421.9 L696.0,3421.9 L699.0,3421.9 L702.0,3421.9 L704.9,3421.9 L707.9,3421.9 L710.8,3421.9 L713.8,3421.9 L716.8,3421.9 L719.7,3421.9 L722.7,3421.9 L725.6,3421.9 L728.6,3421.9 L731.6,3421.9 L734.5,3421.9 L737.5,3421.9 L740.5,3421.9 L743.4,3421.9 L746.4,3421.9 L749.3,3421.9 L752.3,3421.9 L755.3,3421.9 L758.2,3421.9 L761.2,3421.9 L764.2,3421.9 L767.1,3421.9 L770.1,3421.9 L773.0,3421.9 L776.0,3421.9 L779.0,3421.9 L781.9,3421.9 L784.9,3421.9 L787.9,3421.9 L790.8,3421.9 L793.8,3421.9 L796.7,3421.9 L798.2,3421.9 L799.7,3421.9 L801.2,3421.9 L802.7,3421.9 L804.1,3421.9 L805.6,3421.8 L807.1,3421.8 L808.6,3421.7 L810.1,3421.6 L811.5,3421.5 L813.0,3421.3 L814.5,3421.2 L816.0,3421.0 L817.5,3420.9 L819.0,3420.7 L820.4,3420.5 L821.9,3420.3 L823.4,3420.0 L824.9,3419.8 L826.4,3419.5 L827.8,3419.2 L829.3,3418.9 L830.8,3418.6 L832.3,3418.3 L833.8,3418.0 L835.2,3417.6 L836.7,3417.2 L838.2,3416.9 L839.7,3416.5 L841.2,3416.0 L842.6,3415.6 L844.1,3415.2 L845.6,3414.7 L847.1,3414.2 L848.6,3413.7 L850.1,3413.2 L851.5,3412.7 L853.0,3412.1 L854.5,3411.6 L856.0,3411.0 L857.5,3410.4 L858.9,3409.8 L860.4,3409.2 L861.9,3408.5 L863.4,3407.9 L864.9,3407.2 L866.3,3406.5 L867.8,3405.8 L869.3,3405.1 L870.8,3404.3 L872.3,3403.5 L873.7,3402.8 L875.2,3402.0 L876.7,3401.2 L878.2,3400.3 L879.7,3399.5 L881.2,3398.6 L882.6,3397.7 L884.1,3396.8 L885.6,3395.9 L887.1,3395.0 L888.6,3394.0 L891.5,3392.0 L894.5,3390.0 L897.4,3387.9 L900.4,3385.7 L903.4,3383.4 L906.3,3381.0 L909.3,3378.6 L912.3,3376.1 L915.2,3373.5 L918.2,3370.8 L921.1,3368.0 L924.1,3365.2 L927.1,3362.2 L930.0,3359.2 L933.0,3356.1 L936.0,3352.8 L938.9,3349.5 L941.9,3346.1 L944.8,3342.6 L947.8,3339.0 L950.8,3335.3 L953.7,3331.5 L956.7,3327.6 L959.6,3323.5 L962.6,3319.4 L965.6,3315.1 L968.5,3310.8 L971.5,3306.3 L974.5,3301.7 L977.4,3297.0 L980.4,3292.1 L983.3,3287.2 L986.3,3282.1 L989.3,3276.8 L992.2,3271.5 L995.2,3266.0 L998.2,3260.4 L1001.1,3254.6 L1004.1,3248.7 L1007.0,3242.6 L1010.0,3236.4 L1013.0,3230.0 L1015.9,3223.5 L1018.9,3216.8 L1021.8,3209.9 L1024.8,3202.9 L1027.8,3195.7 L1030.7,3188.4 L1033.7,3180.8 L1036.7,3173.1 L1039.6,3165.2 L1042.6,3157.1 L1045.5,3148.8 L1048.5,3140.3 L1051.5,3153.4 L1054.4,3166.1 L1057.4,3178.3 L1060.4,3190.0 L1063.3,3201.3 L1066.3,3212.2 L1069.2,3222.7 L1072.2,3232.8 L1075.2,3242.6 L1078.1,3252.0 L1081.1,3261.0 L1084.0,3269.7 L1087.0,3278.0 L1090.0,3286.0 L1092.9,3293.8 L1095.9,3301.2 L1098.9,3308.3 L1101.8,3315.2 L1104.8,3321.8 L1107.7,3328.1 L1110.7,3334.2 L1113.7,3340.0 L1116.6,3345.5 L1119.6,3350.9 L1122.6,3356.0 L1125.5,3360.9 L1128.5,3365.6 L1131.4,3370.0 L1134.4,3374.3 L1137.4,3378.4 L1140.3,3382.2 L1143.3,3385.9 L1146.3,3389.4 L1149.2,3392.7 L1152.2,3395.9 L1155.1,3398.8 L1158.1,3401.6 L1161.1,3404.3 L1164.0,3406.8 L1167.0,3409.1 L1169.9,3411.3 L1172.9,3413.3 L1175.9,3415.1 L1178.8,3416.8 L1181.8,3418.4 L1184.8,3419.8 L1187.7,3421.1 L1190.7,3422.3 L1193.6,3423.3 L1196.6,3424.2 L1199.6,3424.9 L1202.5,3425.5 L1205.5,3426.0 L1208.5,3426.3 L1211.4,3426.5 L1214.4,3426.6 L1217.3,3426.5 L1220.3,3426.2 L1223.3,3425.8 L1226.2,3425.2 L1229.2,3424.4 L1232.2,3423.4 L1235.1,3422.2 L1238.1,3420.9 L1241.0,3419.4 L1244.0,3417.7 L1247.0,3415.8 L1249.9,3413.7 L1252.9,3411.4 L1255.8,3409.0 L1258.8,3406.3 L1261.8,3403.5 L1264.7,3400.4 L1267.7,3397.1 L1270.7,3393.6 L1273.6,3389.9 L1276.6,3386.0 L1279.5,3381.8 L1282.5,3377.4 L1285.5,3372.8 L1288.4,3367.9 L1290.9,3363.7 L1291.4,3364.3 L1294.4,3367.2 L1297.3,3370.1 L1300.3,3372.9 L1303.2,3375.6 L1306.2,3378.2 L1309.2,3380.7 L1312.1,3383.2 L1315.1,3385.6 L1318.0,3387.9 L1321.0,3390.1 L1324.0,3392.2 L1326.9,3394.3 L1329.9,3396.3 L1332.9,3398.2 L1335.8,3400.1 L1338.8,3401.9 L1341.7,3403.6 L1344.7,3405.2 L1347.7,3406.8 L1350.6,3408.3 L1353.6,3409.8 L1356.6,3411.2 L1359.5,3412.5 L1362.5,3413.7 L1365.4,3414.9 L1368.4,3416.1 L1371.4,3417.1 L1374.3,3418.2 L1377.3,3419.1 L1380.2,3420.0 L1383.2,3420.8 L1386.2,3421.6 L1389.1,3422.3 L1392.1,3423.0 L1395.1,3423.6 L1398.0,3424.2 L1401.0,3424.6 L1403.9,3425.1 L1406.9,3425.5 L1409.9,3425.8 L1412.8,3426.1 L1415.8,3426.3 L1418.8,3426.4 L1421.7,3426.5 L1424.7,3426.6 L1425.6,3426.6 L1427.6,3426.6 L1430.6,3426.5 L1433.6,3426.3 L1436.5,3426.1 L1439.5,3425.8 L1442.5,3425.4 L1445.4,3425.0 L1448.4,3424.5 L1451.3,3423.9 L1454.3,3423.3 L1457.3,3422.6 L1460.2,3421.8 L1463.2,3420.9 L1466.1,3420.0 L1469.1,3419.0 L1472.1,3417.9 L1475.0,3416.7 L1478.0,3415.5 L1481.0,3414.2 L1483.9,3412.8 L1486.9,3411.4 L1489.8,3409.8 L1492.8,3408.2 L1495.8,3406.5 L1498.7,3404.7 L1501.7,3402.9 L1504.7,3400.9 L1507.6,3398.9 L1510.6,3396.8 L1513.5,3394.6 L1516.5,3392.3 L1519.5,3389.9 L1522.4,3387.4 L1525.4,3384.9 L1528.3,3382.2 L1531.3,3379.5 L1534.3,3376.7 L1537.2,3373.7 L1540.2,3370.7 L1543.2,3367.5 L1546.1,3364.3 L1549.1,3361.0 L1552.0,3357.5 L1555.0,3354.0 L1558.0,3350.3 L1560.9,3346.5 L1563.9,3342.6 L1566.9,3338.6 L1569.8,3334.5 L1572.8,3330.3 L1575.7,3325.9 L1578.7,3321.4 L1581.7,3316.8 L1584.6,3312.0 L1587.6,3307.1 L1590.6,3302.1 L1593.5,3297.0 L1596.5,3291.7 L1599.4,3286.2 L1602.4,3280.6 L1605.4,3274.9 L1608.3,3269.0 L1611.3,3263.0 L1614.2,3256.8 L1617.2,3250.4 L1620.2,3243.9 L1623.1,3237.2 L1626.1,3230.3 L1629.1,3223.2 L1632.0,3216.0 L1635.0,3208.6 L1637.9,3200.9 L1640.9,3193.1 L1643.9,3185.1 L1646.8,3176.9 L1649.8,3168.5 L1652.8,3159.9 L1655.7,3151.1 L1658.7,3142.0 L1661.6,3132.7 L1664.6,3123.2 L1667.6,3113.4 L1670.5,3103.4 L1673.5,3093.2 L1676.5,3082.7 L1679.4,3071.9 L1682.4,3060.9 L1685.3,3049.6 L1688.3,3038.1 L1691.3,3026.2 L1694.2,3014.1 L1697.2,3001.6 L1700.1,2988.9 L1703.1,2975.9 L1706.1,2962.5 L1709.0,2948.8 L1712.0,2934.8 L1715.0,2920.4 L1717.9,2905.7 L1720.9,2890.7 L1723.8,2875.2 L1726.8,2859.4 L1729.8,2843.3 L1732.7,2826.7 L1735.7,2809.7 L1738.7,2792.3 L1741.6,2774.5 L1744.6,2756.3 L1747.5,2737.7 L1750.5,2718.6" fill="none" stroke="#00b050" stroke-width="6.90" stroke-linecap="round" stroke-linejoin="round" stroke-dasharray="34.3 26.1" clip-path="url(#cc)"/>
<path d="M1039.6,3165.2 L1042.6,3157.1 L1045.5,3148.8 L1048.5,3140.3 L1051.5,3153.4 L1054.4,3166.1" fill="none" stroke="#00b050" stroke-width="6.90" stroke-linecap="round" stroke-linejoin="round" clip-path="url(#cc)"/>
<path d="M1276.6,3386.0 L1279.5,3381.8 L1282.5,3377.4 L1285.5,3372.8 L1288.4,3367.9 L1290.9,3363.7 L1291.4,3364.3 L1294.4,3367.2" fill="none" stroke="#00b050" stroke-width="6.90" stroke-linecap="round" stroke-linejoin="round" clip-path="url(#cc)"/>
<path d="M413.9,3410.0 L417.6,3410.0 L420.6,3410.0 L423.5,3410.0 L426.5,3410.0 L429.4,3410.0 L432.4,3410.0 L435.4,3410.0 L438.3,3410.0 L441.3,3410.0 L444.3,3410.0 L447.2,3410.0 L450.2,3410.0 L453.1,3410.0 L456.1,3410.0 L459.1,3410.0 L462.0,3410.0 L465.0,3410.0 L468.0,3410.0 L470.9,3410.0 L473.9,3410.0 L476.8,3410.0 L479.8,3410.0 L482.8,3410.0 L485.7,3410.0 L488.7,3410.0 L491.6,3410.0 L494.6,3410.0 L497.6,3410.0 L500.5,3410.0 L503.5,3410.0 L506.5,3410.0 L509.4,3410.0 L512.4,3410.0 L515.3,3410.0 L518.3,3410.0 L521.3,3410.0 L524.2,3410.0 L527.2,3410.0 L530.2,3410.0 L533.1,3410.0 L536.1,3410.0 L539.0,3410.0 L542.0,3410.0 L545.0,3410.0 L547.9,3410.0 L550.9,3410.0 L553.9,3410.0 L556.8,3410.0 L559.8,3410.0 L562.7,3410.0 L565.7,3410.0 L568.7,3410.0 L571.6,3410.0 L574.6,3410.0 L577.5,3410.0 L580.5,3410.0 L583.5,3410.0 L586.4,3410.0 L589.4,3410.0 L592.4,3410.0 L595.3,3410.0 L598.3,3410.0 L601.2,3410.0 L604.2,3410.0 L607.2,3410.0 L610.1,3410.0 L613.1,3410.0 L616.1,3410.0 L619.0,3410.0 L622.0,3410.0 L624.9,3410.0 L627.9,3410.0 L630.9,3410.0 L633.8,3410.0 L636.8,3410.0 L639.8,3410.0 L642.7,3410.0 L645.7,3410.0 L648.6,3410.0 L651.6,3410.0 L654.6,3410.0 L657.5,3410.0 L660.5,3410.0 L663.4,3410.0 L666.4,3410.0 L669.4,3410.0 L672.3,3410.0 L675.3,3410.0 L678.3,3410.0 L681.2,3410.0 L684.2,3410.0 L687.1,3410.0 L690.1,3410.0 L693.1,3410.0 L696.0,3410.0 L699.0,3410.0 L702.0,3410.0 L704.9,3410.0 L707.9,3410.0 L710.8,3410.0 L713.8,3410.0 L716.8,3410.0 L719.7,3410.0 L722.7,3410.0 L725.6,3410.0 L728.6,3410.0 L731.6,3410.0 L734.5,3410.0 L737.5,3410.0 L739.0,3410.0 L740.5,3409.9 L741.9,3409.9 L743.4,3409.9 L744.9,3409.8 L746.4,3409.8 L747.9,3409.7 L749.3,3409.6 L750.8,3409.5 L752.3,3409.4 L753.8,3409.3 L755.3,3409.1 L756.7,3409.0 L758.2,3408.8 L759.7,3408.6 L761.2,3408.4 L762.7,3408.2 L764.2,3407.9 L765.6,3407.7 L767.1,3407.4 L768.6,3407.2 L770.1,3406.9 L771.6,3406.6 L773.0,3406.3 L774.5,3405.9 L776.0,3405.6 L777.5,3405.2 L779.0,3404.9 L780.4,3404.5 L781.9,3404.1 L783.4,3403.7 L784.9,3403.2 L786.4,3402.8 L787.9,3402.3 L789.3,3401.8 L790.8,3401.3 L792.3,3400.8 L793.8,3400.3 L795.3,3399.8 L796.7,3399.2 L798.2,3398.7 L799.7,3398.1 L801.2,3397.5 L802.7,3396.9 L804.1,3396.3 L805.6,3395.6 L807.1,3395.0 L808.6,3394.3 L810.1,3393.6 L811.5,3392.9 L813.0,3392.2 L814.5,3391.5 L816.0,3390.7 L817.5,3389.9 L819.0,3389.2 L820.4,3388.4 L821.9,3387.6 L823.4,3386.7 L824.9,3385.9 L826.4,3385.0 L827.8,3384.1 L829.3,3383.2 L832.3,3381.4 L835.2,3379.5 L838.2,3377.5 L841.2,3375.5 L844.1,3373.3 L847.1,3371.1 L850.1,3368.9 L853.0,3366.6 L856.0,3364.1 L858.9,3361.7 L861.9,3359.1 L864.9,3356.5 L867.8,3353.8 L870.8,3351.0 L873.7,3348.1 L876.7,3345.1 L879.7,3342.1 L882.6,3339.0 L885.6,3335.8 L888.6,3332.5 L891.5,3329.1 L894.5,3325.6 L897.4,3322.0 L900.4,3318.4 L903.4,3314.6 L906.3,3310.8 L909.3,3306.8 L912.3,3302.8 L915.2,3298.6 L918.2,3294.4 L921.1,3290.1 L924.1,3285.6 L927.1,3281.0 L930.0,3276.3 L933.0,3271.6 L936.0,3266.7 L938.9,3261.6 L941.9,3256.5 L944.8,3251.2 L947.8,3245.9 L950.8,3240.4 L953.7,3234.7 L956.7,3229.0 L959.6,3223.1 L962.6,3217.0 L965.6,3210.9 L968.5,3204.6 L971.5,3198.1 L974.5,3191.5 L977.4,3184.8 L980.4,3177.9 L983.3,3170.9 L986.3,3163.7 L989.3,3156.3 L992.2,3148.8 L995.2,3141.1 L995.6,3140.1 L998.2,3150.8 L1001.1,3162.5 L1004.1,3173.9 L1007.0,3184.9 L1010.0,3195.5 L1013.0,3205.8 L1015.9,3215.7 L1018.9,3225.2 L1021.8,3234.5 L1024.8,3243.4 L1027.8,3252.0 L1030.7,3260.3 L1033.7,3268.3 L1036.7,3276.0 L1039.6,3283.4 L1042.6,3290.5 L1045.5,3297.4 L1048.5,3304.1 L1051.5,3310.5 L1054.4,3316.6 L1057.4,3322.5 L1060.4,3328.2 L1063.3,3333.6 L1066.3,3338.9 L1069.2,3343.9 L1072.2,3348.7 L1075.2,3353.3 L1078.1,3357.7 L1081.1,3361.9 L1084.0,3365.9 L1087.0,3369.7 L1090.0,3373.4 L1092.9,3376.8 L1095.9,3380.1 L1098.9,3383.2 L1101.8,3386.2 L1104.8,3389.0 L1107.7,3391.6 L1110.7,3394.1 L1113.7,3396.4 L1116.6,3398.5 L1119.6,3400.5 L1122.6,3402.4 L1125.5,3404.1 L1128.5,3405.7 L1131.4,3407.1 L1134.4,3408.3 L1137.4,3409.5 L1140.3,3410.4 L1143.3,3411.3 L1146.3,3412.0 L1149.2,3412.6 L1152.2,3413.0 L1155.1,3413.3 L1158.1,3413.4 L1160.0,3413.5 L1161.1,3413.5 L1164.0,3413.3 L1167.0,3413.1 L1169.9,3412.7 L1172.9,3412.2 L1175.9,3411.5 L1178.8,3410.7 L1181.8,3409.8 L1184.8,3408.8 L1187.7,3407.6 L1190.7,3406.2 L1193.6,3404.7 L1196.6,3403.1 L1199.6,3401.3 L1202.5,3399.4 L1205.5,3397.4 L1208.5,3395.1 L1211.4,3392.8 L1214.4,3390.2 L1217.3,3387.6 L1220.3,3384.7 L1223.3,3381.7 L1226.2,3378.6 L1229.2,3375.2 L1232.2,3371.7 L1235.1,3368.0 L1238.1,3364.1 L1241.0,3360.1 L1244.0,3355.8 L1247.0,3351.4 L1249.6,3347.4 L1249.9,3347.7 L1252.9,3350.7 L1255.8,3353.6 L1258.8,3356.3 L1261.8,3359.0 L1264.7,3361.7 L1267.7,3364.2 L1270.7,3366.7 L1273.6,3369.1 L1276.6,3371.5 L1279.5,3373.7 L1282.5,3375.9 L1285.5,3378.0 L1288.4,3380.1 L1291.4,3382.1 L1294.4,3384.0 L1297.3,3385.9 L1300.3,3387.6 L1303.2,3389.4 L1306.2,3391.0 L1309.2,3392.6 L1312.1,3394.2 L1315.1,3395.7 L1318.0,3397.1 L1321.0,3398.4 L1324.0,3399.7 L1326.9,3401.0 L1329.9,3402.2 L1332.9,3403.3 L1335.8,3404.3 L1338.8,3405.4 L1341.7,3406.3 L1344.7,3407.2 L1347.7,3408.1 L1350.6,3408.8 L1353.6,3409.6 L1356.6,3410.3 L1359.5,3410.9 L1362.5,3411.5 L1365.4,3412.0 L1368.4,3412.5 L1371.4,3412.9 L1374.3,3413.2 L1377.3,3413.6 L1380.2,3413.8 L1383.2,3414.0 L1386.2,3414.2 L1389.1,3414.3 L1392.1,3414.3 L1393.6,3414.3 L1395.1,3414.3 L1398.0,3414.3 L1401.0,3414.2 L1403.9,3414.0 L1406.9,3413.7 L1409.9,3413.4 L1412.8,3413.0 L1415.8,3412.6 L1418.8,3412.1 L1421.7,3411.6 L1424.7,3411.0 L1427.6,3410.3 L1430.6,3409.5 L1433.6,3408.7 L1436.5,3407.9 L1439.5,3406.9 L1442.5,3405.9 L1445.4,3404.9 L1448.4,3403.7 L1451.3,3402.5 L1454.3,3401.3 L1457.3,3400.0 L1460.2,3398.6 L1463.2,3397.1 L1466.1,3395.6 L1469.1,3394.0 L1472.1,3392.3 L1475.0,3390.5 L1478.0,3388.7 L1481.0,3386.8 L1483.9,3384.9 L1486.9,3382.8 L1489.8,3380.7 L1492.8,3378.5 L1495.8,3376.3 L1498.7,3373.9 L1501.7,3371.5 L1504.7,3369.0 L1507.6,3366.4 L1510.6,3363.7 L1513.5,3361.0 L1516.5,3358.1 L1519.5,3355.2 L1522.4,3352.2 L1525.4,3349.1 L1528.3,3345.9 L1531.3,3342.6 L1534.3,3339.2 L1537.2,3335.7 L1540.2,3332.2 L1543.2,3328.5 L1546.1,3324.7 L1549.1,3320.8 L1552.0,3316.8 L1555.0,3312.8 L1558.0,3308.6 L1560.9,3304.3 L1563.9,3299.9 L1566.9,3295.3 L1569.8,3290.7 L1572.8,3285.9 L1575.7,3281.0 L1578.7,3276.0 L1581.7,3270.9 L1584.6,3265.7 L1587.6,3260.3 L1590.6,3254.8 L1593.5,3249.1 L1596.5,3243.4 L1599.4,3237.4 L1602.4,3231.4 L1605.4,3225.2 L1608.3,3218.8 L1611.3,3212.3 L1614.2,3205.6 L1617.2,3198.8 L1620.2,3191.9 L1623.1,3184.7 L1626.1,3177.4 L1629.1,3170.0 L1632.0,3162.3 L1635.0,3154.5 L1637.9,3146.5 L1640.9,3138.3 L1643.9,3129.9 L1646.8,3121.4 L1649.8,3112.6 L1652.8,3103.7 L1655.7,3094.5 L1658.7,3085.2 L1661.6,3075.6 L1664.6,3065.8 L1667.6,3055.8 L1670.5,3045.6 L1673.5,3035.1 L1676.5,3024.4 L1679.4,3013.5 L1682.4,3002.3 L1685.3,2990.9 L1688.3,2979.2 L1691.3,2967.3 L1694.2,2955.1 L1697.2,2942.6 L1700.1,2929.8 L1703.1,2916.8 L1706.1,2903.5 L1709.0,2889.9 L1712.0,2876.0 L1715.0,2861.8 L1717.9,2847.2 L1720.9,2832.4 L1723.8,2817.2 L1726.8,2801.7 L1729.8,2785.8 L1732.7,2769.6 L1735.7,2753.1 L1738.7,2736.2 L1741.6,2718.9 L1744.6,2701.2 L1747.5,2683.2 L1750.5,2664.7" fill="none" stroke="#ffc000" stroke-width="7.10" stroke-linecap="round" stroke-linejoin="round" clip-path="url(#cc)"/>
<path d="M267.1,2666.5 H1898.6 V3602.4 H267.1" fill="none" stroke="#bfbfbf" stroke-width="4.7" stroke-linejoin="miter"/>
<line x1="269.5" y1="2664.7" x2="269.5" y2="3604.2" stroke="#8c8c8c" stroke-width="4.7"/>
<text x="225.8" y="2682.5" font-size="49.60" fill="#000" text-anchor="end" >1500</text>
<text x="225.8" y="2799.5" font-size="49.60" fill="#000" text-anchor="end" >1300</text>
<text x="225.8" y="2916.5" font-size="49.60" fill="#000" text-anchor="end" >1100</text>
<text x="225.8" y="3033.5" font-size="49.60" fill="#000" text-anchor="end" >900</text>
<text x="225.8" y="3150.4" font-size="49.60" fill="#000" text-anchor="end" >700</text>
<text x="225.8" y="3267.4" font-size="49.60" fill="#000" text-anchor="end" >500</text>
<text x="225.8" y="3384.4" font-size="49.60" fill="#000" text-anchor="end" >300</text>
<text x="225.8" y="3501.4" font-size="49.60" fill="#000" text-anchor="end" >100</text>
<text x="225.8" y="3618.4" font-size="49.60" fill="#000" text-anchor="end" >-100</text>
<text x="1944.0" y="2682.7" font-size="49.60" fill="#595959" text-anchor="start" >0</text>
<text x="1944.0" y="2869.9" font-size="49.60" fill="#595959" text-anchor="start" >400</text>
<text x="1944.0" y="3057.1" font-size="49.60" fill="#595959" text-anchor="start" >800</text>
<text x="1944.0" y="3244.2" font-size="49.60" fill="#595959" text-anchor="start" >1200</text>
<text x="1944.0" y="3431.4" font-size="49.60" fill="#595959" text-anchor="start" >1600</text>
<text x="1944.0" y="3618.6" font-size="49.60" fill="#595959" text-anchor="start" >2000</text>
<text x="270.5" y="3677.1" font-size="49.60" fill="#595959" text-anchor="middle" >2000</text>
<text x="418.6" y="3677.1" font-size="49.60" fill="#595959" text-anchor="middle" >1800</text>
<text x="566.7" y="3677.1" font-size="49.60" fill="#595959" text-anchor="middle" >1600</text>
<text x="714.8" y="3677.1" font-size="49.60" fill="#595959" text-anchor="middle" >1400</text>
<text x="862.9" y="3677.1" font-size="49.60" fill="#595959" text-anchor="middle" >1200</text>
<text x="1011.0" y="3677.1" font-size="49.60" fill="#595959" text-anchor="middle" >1000</text>
<text x="1159.1" y="3677.1" font-size="49.60" fill="#595959" text-anchor="middle" >800</text>
<text x="1307.2" y="3677.1" font-size="49.60" fill="#595959" text-anchor="middle" >600</text>
<text x="1455.3" y="3677.1" font-size="49.60" fill="#595959" text-anchor="middle" >400</text>
<text x="1603.4" y="3677.1" font-size="49.60" fill="#595959" text-anchor="middle" >200</text>
<text x="1751.5" y="3677.1" font-size="49.60" fill="#595959" text-anchor="middle" >0</text>
<text x="1899.6" y="3677.1" font-size="49.60" fill="#595959" text-anchor="middle" >-200</text>
<path d="M330.7,2716.4 L474.0,2716.4" fill="none" stroke="#000" stroke-width="7.60" stroke-linecap="round" stroke-linejoin="round" stroke-dasharray="0.01 13.85" />
<text x="487.0" y="2731.1" font-size="44.44" fill="#000" text-anchor="start" letter-spacing="0.28">Mean - SLWR 1 (MATLAB)</text>
<path d="M330.0,2763.9 L471.2,2763.9" fill="none" stroke="#000" stroke-width="5.60" stroke-linecap="round" stroke-linejoin="round" stroke-dasharray="11 11.2" />
<text x="487.0" y="2778.6" font-size="44.44" fill="#000" text-anchor="start" letter-spacing="0.28">Mean - SLWR 2 (MATLAB)</text>
<path d="M330.0,2812.1 L471.2,2812.1" fill="none" stroke="#000" stroke-width="5.60" stroke-linecap="round" stroke-linejoin="round" stroke-dasharray="39.5 21.6" />
<text x="487.0" y="2826.8" font-size="44.44" fill="#000" text-anchor="start" letter-spacing="0.28">Mean - SLWR 3 (MATLAB)</text>
<path d="M330.0,2859.2 L471.2,2859.2" fill="none" stroke="#000" stroke-width="5.60" stroke-linecap="round" stroke-linejoin="round" />
<text x="487.0" y="2873.9" font-size="44.44" fill="#000" text-anchor="start" letter-spacing="0.28">Mean - SLWR 4 (MATLAB)</text>
<text x="99.4" y="3136.0" font-size="55.56" fill="#000" text-anchor="middle" transform="rotate(-90 99.4 3136.0)" >Effective tension (kN)</text>
<text x="2110.0" y="3136.0" font-size="55.56" fill="#000" text-anchor="middle" transform="rotate(-90 2110.0 3136.0)" >Y (m)</text>
<text x="1023.0" y="3756.1" font-size="55.56" fill="#000" text-anchor="start" ><tspan font-size="45.5">X</tspan> (m)</text>
<text x="299.5" y="3573.5" font-size="64.50" fill="#000" text-anchor="start" font-weight="bold" >(c)</text>
<text x="308.6" y="3072.5" font-size="50.00" fill="#000" text-anchor="start" >Axial effective tension</text>
<text x="1248.0" y="2897.0" font-size="50.80" fill="#000" text-anchor="start" >SLWR</text>
<line x1="780.0" y1="3076.5" x2="935.5" y2="3185.4" stroke="#000" stroke-width="5.2"/>
<polygon points="953.5,3198.0 935.3,3164.7 933.8,3184.2 915.9,3192.3" fill="#000"/>
<line x1="1405.0" y1="2915.5" x2="1576.9" y2="3096.5" stroke="#000" stroke-width="5.2"/>
<polygon points="1592.0,3112.5 1580.8,3076.2 1575.5,3095.1 1556.3,3099.4" fill="#000"/>
</svg>
</body></html>
